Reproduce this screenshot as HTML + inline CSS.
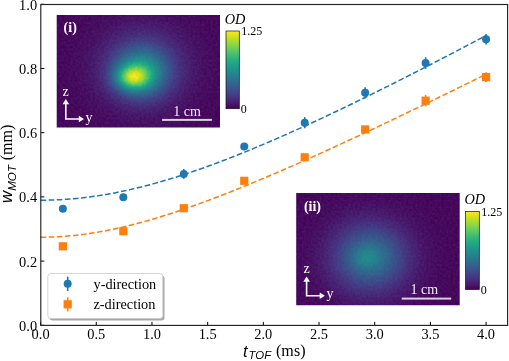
<!DOCTYPE html>
<html><head><meta charset="utf-8"><style>
html,body{margin:0;padding:0;background:#fff;width:509px;height:361px;overflow:hidden}
svg{display:block;will-change:transform}
svg{font-family:"Liberation Serif",serif}
.ss{font-family:"Liberation Sans",sans-serif;font-style:italic}
.tk{font-size:14.4px;fill:#000}
.lg{font-size:14.3px;fill:#000}
.bold{font-size:14px;font-weight:bold;fill:#fff}
.w{font-size:14px;fill:#fff}
.it{font-size:14.3px;font-style:italic;fill:#000}
.sm{font-size:12px;fill:#000}
.sans{font-family:"Liberation Sans",sans-serif;font-style:italic}
</style></head><body>
<svg width="509" height="361" viewBox="0 0 509 361">
<defs>
<filter id="vir" x="-10%" y="-10%" width="120%" height="120%" color-interpolation-filters="sRGB">
<feGaussianBlur in="SourceGraphic" stdDeviation="1.2" result="b"/>
<feTurbulence type="fractalNoise" baseFrequency="0.45" numOctaves="1" seed="3" result="n"/>
<feColorMatrix in="n" type="matrix" values="1 0 0 0 0  1 0 0 0 0  1 0 0 0 0  0 0 0 0 1" result="ng"/>
<feComposite in="b" in2="ng" operator="arithmetic" k1="0" k2="1" k3="0.1" k4="-0.05" result="bn"/>
<feComponentTransfer in="bn">
<feFuncR type="table" tableValues="0.2670 0.2726 0.2770 0.2803 0.2823 0.2832 0.2829 0.2814 0.2788 0.2752 0.2706 0.2651 0.2590 0.2522 0.2450 0.2374 0.2297 0.2220 0.2143 0.2068 0.1994 0.1924 0.1856 0.1790 0.1727 0.1666 0.1607 0.1548 0.1490 0.1433 0.1378 0.1324 0.1276 0.1235 0.1206 0.1194 0.1206 0.1248 0.1323 0.1433 0.1579 0.1757 0.1966 0.2201 0.2461 0.2741 0.3041 0.3359 0.3692 0.4040 0.4401 0.4775 0.5160 0.5555 0.5958 0.6369 0.6785 0.7204 0.7624 0.8042 0.8456 0.8863 0.9261 0.9649 0.9932"/>
<feFuncG type="table" tableValues="0.0049 0.0256 0.0503 0.0734 0.0950 0.1157 0.1359 0.1558 0.1755 0.1949 0.2141 0.2330 0.2515 0.2698 0.2877 0.3052 0.3224 0.3392 0.3556 0.3718 0.3876 0.4032 0.4186 0.4338 0.4488 0.4637 0.4785 0.4933 0.5081 0.5228 0.5375 0.5522 0.5669 0.5817 0.5964 0.6111 0.6258 0.6405 0.6550 0.6695 0.6838 0.6979 0.7118 0.7255 0.7389 0.7520 0.7647 0.7770 0.7889 0.8003 0.8111 0.8214 0.8312 0.8403 0.8487 0.8565 0.8637 0.8703 0.8764 0.8820 0.8873 0.8924 0.8973 0.9023 0.9062"/>
<feFuncB type="table" tableValues="0.3294 0.3531 0.3757 0.3972 0.4173 0.4361 0.4534 0.4692 0.4834 0.4960 0.5071 0.5166 0.5247 0.5316 0.5373 0.5419 0.5457 0.5488 0.5512 0.5531 0.5546 0.5558 0.5568 0.5574 0.5579 0.5581 0.5581 0.5578 0.5573 0.5563 0.5549 0.5530 0.5506 0.5474 0.5436 0.5390 0.5335 0.5271 0.5197 0.5112 0.5017 0.4910 0.4792 0.4662 0.4520 0.4366 0.4199 0.4020 0.3829 0.3626 0.3410 0.3182 0.2943 0.2693 0.2433 0.2166 0.1895 0.1626 0.1371 0.1150 0.0997 0.0954 0.1041 0.1239 0.1439"/>
</feComponentTransfer>
</filter>
<linearGradient id="vg" x1="0" y1="1" x2="0" y2="0"><stop offset="0.000" stop-color="rgb(68,1,84)"/><stop offset="0.062" stop-color="rgb(72,24,106)"/><stop offset="0.125" stop-color="rgb(71,45,123)"/><stop offset="0.188" stop-color="rgb(66,64,134)"/><stop offset="0.250" stop-color="rgb(59,82,139)"/><stop offset="0.312" stop-color="rgb(51,99,141)"/><stop offset="0.375" stop-color="rgb(44,114,142)"/><stop offset="0.438" stop-color="rgb(38,130,142)"/><stop offset="0.500" stop-color="rgb(33,145,140)"/><stop offset="0.562" stop-color="rgb(31,160,136)"/><stop offset="0.625" stop-color="rgb(40,174,128)"/><stop offset="0.688" stop-color="rgb(63,188,115)"/><stop offset="0.750" stop-color="rgb(94,201,98)"/><stop offset="0.812" stop-color="rgb(132,212,75)"/><stop offset="0.875" stop-color="rgb(173,220,48)"/><stop offset="0.938" stop-color="rgb(216,226,25)"/><stop offset="1.000" stop-color="rgb(253,231,37)"/></linearGradient>
</defs>
<rect width="509" height="361" fill="#fff"/>
<g fill="none" stroke-width="1.5" stroke-dasharray="5.6 2.5">
<path d="M40.60 200.21 L42.84 200.20 L45.08 200.18 L47.32 200.14 L49.55 200.10 L51.79 200.03 L54.03 199.96 L56.27 199.87 L58.51 199.77 L60.75 199.65 L62.99 199.52 L65.22 199.37 L67.46 199.22 L69.70 199.05 L71.94 198.86 L74.18 198.66 L76.42 198.45 L78.66 198.23 L80.89 197.99 L83.13 197.74 L85.37 197.48 L87.61 197.20 L89.85 196.91 L92.09 196.61 L94.33 196.29 L96.56 195.97 L98.80 195.63 L101.04 195.27 L103.28 194.91 L105.52 194.53 L107.76 194.15 L110.00 193.74 L112.23 193.33 L114.47 192.91 L116.71 192.47 L118.95 192.02 L121.19 191.57 L123.43 191.09 L125.67 190.61 L127.91 190.12 L130.14 189.62 L132.38 189.10 L134.62 188.58 L136.86 188.04 L139.10 187.50 L141.34 186.94 L143.58 186.38 L145.81 185.80 L148.05 185.21 L150.29 184.62 L152.53 184.01 L154.77 183.39 L157.01 182.77 L159.25 182.14 L161.48 181.49 L163.72 180.84 L165.96 180.18 L168.20 179.51 L170.44 178.83 L172.68 178.14 L174.92 177.44 L177.15 176.74 L179.39 176.03 L181.63 175.31 L183.87 174.58 L186.11 173.84 L188.35 173.10 L190.59 172.34 L192.82 171.58 L195.06 170.82 L197.30 170.04 L199.54 169.26 L201.78 168.47 L204.02 167.68 L206.26 166.87 L208.49 166.06 L210.73 165.25 L212.97 164.43 L215.21 163.60 L217.45 162.76 L219.69 161.92 L221.93 161.07 L224.16 160.22 L226.40 159.36 L228.64 158.49 L230.88 157.62 L233.12 156.74 L235.36 155.86 L237.60 154.97 L239.83 154.07 L242.07 153.17 L244.31 152.27 L246.55 151.36 L248.79 150.44 L251.03 149.52 L253.27 148.60 L255.50 147.67 L257.74 146.73 L259.98 145.79 L262.22 144.85 L264.46 143.90 L266.70 142.95 L268.94 141.99 L271.18 141.03 L273.41 140.06 L275.65 139.09 L277.89 138.11 L280.13 137.13 L282.37 136.15 L284.61 135.16 L286.85 134.17 L289.08 133.18 L291.32 132.18 L293.56 131.17 L295.80 130.17 L298.04 129.16 L300.28 128.14 L302.52 127.13 L304.75 126.11 L306.99 125.08 L309.23 124.06 L311.47 123.02 L313.71 121.99 L315.95 120.95 L318.19 119.91 L320.42 118.87 L322.66 117.82 L324.90 116.77 L327.14 115.72 L329.38 114.67 L331.62 113.61 L333.86 112.55 L336.09 111.48 L338.33 110.42 L340.57 109.35 L342.81 108.27 L345.05 107.20 L347.29 106.12 L349.53 105.04 L351.76 103.96 L354.00 102.87 L356.24 101.79 L358.48 100.70 L360.72 99.60 L362.96 98.51 L365.20 97.41 L367.43 96.31 L369.67 95.21 L371.91 94.11 L374.15 93.00 L376.39 91.89 L378.63 90.78 L380.87 89.67 L383.10 88.56 L385.34 87.44 L387.58 86.32 L389.82 85.20 L392.06 84.08 L394.30 82.96 L396.54 81.83 L398.77 80.70 L401.01 79.57 L403.25 78.44 L405.49 77.31 L407.73 76.17 L409.97 75.04 L412.21 73.90 L414.45 72.76 L416.68 71.61 L418.92 70.47 L421.16 69.33 L423.40 68.18 L425.64 67.03 L427.88 65.88 L430.12 64.73 L432.35 63.58 L434.59 62.42 L436.83 61.26 L439.07 60.11 L441.31 58.95 L443.55 57.79 L445.79 56.63 L448.02 55.46 L450.26 54.30 L452.50 53.13 L454.74 51.96 L456.98 50.80 L459.22 49.63 L461.46 48.45 L463.69 47.28 L465.93 46.11 L468.17 44.93 L470.41 43.76 L472.65 42.58 L474.89 41.40 L477.13 40.22 L479.36 39.04 L481.60 37.86 L483.84 36.67 L486.08 35.49" stroke="#1f77b4"/>
<path d="M40.60 237.19 L42.84 237.18 L45.08 237.15 L47.32 237.11 L49.55 237.06 L51.79 236.99 L54.03 236.90 L56.27 236.80 L58.51 236.68 L60.75 236.55 L62.99 236.40 L65.22 236.23 L67.46 236.05 L69.70 235.86 L71.94 235.65 L74.18 235.42 L76.42 235.18 L78.66 234.93 L80.89 234.66 L83.13 234.37 L85.37 234.07 L87.61 233.76 L89.85 233.43 L92.09 233.09 L94.33 232.74 L96.56 232.37 L98.80 231.99 L101.04 231.59 L103.28 231.18 L105.52 230.76 L107.76 230.32 L110.00 229.88 L112.23 229.42 L114.47 228.95 L116.71 228.46 L118.95 227.97 L121.19 227.46 L123.43 226.94 L125.67 226.41 L127.91 225.87 L130.14 225.31 L132.38 224.75 L134.62 224.18 L136.86 223.59 L139.10 223.00 L141.34 222.39 L143.58 221.77 L145.81 221.15 L148.05 220.51 L150.29 219.87 L152.53 219.22 L154.77 218.56 L157.01 217.88 L159.25 217.20 L161.48 216.52 L163.72 215.82 L165.96 215.11 L168.20 214.40 L170.44 213.68 L172.68 212.95 L174.92 212.21 L177.15 211.47 L179.39 210.72 L181.63 209.96 L183.87 209.19 L186.11 208.42 L188.35 207.64 L190.59 206.85 L192.82 206.06 L195.06 205.26 L197.30 204.46 L199.54 203.64 L201.78 202.83 L204.02 202.00 L206.26 201.17 L208.49 200.34 L210.73 199.50 L212.97 198.65 L215.21 197.80 L217.45 196.95 L219.69 196.08 L221.93 195.22 L224.16 194.35 L226.40 193.47 L228.64 192.59 L230.88 191.70 L233.12 190.81 L235.36 189.92 L237.60 189.02 L239.83 188.12 L242.07 187.21 L244.31 186.30 L246.55 185.38 L248.79 184.46 L251.03 183.54 L253.27 182.61 L255.50 181.68 L257.74 180.74 L259.98 179.81 L262.22 178.86 L264.46 177.92 L266.70 176.97 L268.94 176.02 L271.18 175.06 L273.41 174.10 L275.65 173.14 L277.89 172.18 L280.13 171.21 L282.37 170.24 L284.61 169.27 L286.85 168.29 L289.08 167.31 L291.32 166.33 L293.56 165.34 L295.80 164.36 L298.04 163.37 L300.28 162.37 L302.52 161.38 L304.75 160.38 L306.99 159.38 L309.23 158.38 L311.47 157.37 L313.71 156.37 L315.95 155.36 L318.19 154.35 L320.42 153.33 L322.66 152.32 L324.90 151.30 L327.14 150.28 L329.38 149.26 L331.62 148.24 L333.86 147.21 L336.09 146.18 L338.33 145.15 L340.57 144.12 L342.81 143.09 L345.05 142.05 L347.29 141.02 L349.53 139.98 L351.76 138.94 L354.00 137.90 L356.24 136.85 L358.48 135.81 L360.72 134.76 L362.96 133.71 L365.20 132.66 L367.43 131.61 L369.67 130.56 L371.91 129.50 L374.15 128.45 L376.39 127.39 L378.63 126.33 L380.87 125.27 L383.10 124.21 L385.34 123.15 L387.58 122.08 L389.82 121.02 L392.06 119.95 L394.30 118.89 L396.54 117.82 L398.77 116.75 L401.01 115.67 L403.25 114.60 L405.49 113.53 L407.73 112.45 L409.97 111.38 L412.21 110.30 L414.45 109.22 L416.68 108.14 L418.92 107.06 L421.16 105.98 L423.40 104.90 L425.64 103.82 L427.88 102.73 L430.12 101.65 L432.35 100.56 L434.59 99.47 L436.83 98.38 L439.07 97.29 L441.31 96.20 L443.55 95.11 L445.79 94.02 L448.02 92.93 L450.26 91.84 L452.50 90.74 L454.74 89.65 L456.98 88.55 L459.22 87.45 L461.46 86.35 L463.69 85.26 L465.93 84.16 L468.17 83.06 L470.41 81.96 L472.65 80.85 L474.89 79.75 L477.13 78.65 L479.36 77.55 L481.60 76.44 L483.84 75.34 L486.08 74.23" stroke="#ff7f0e"/>
</g>
<circle cx="62.87" cy="208.80" r="4" fill="#1f77b4"/><rect x="58.77" y="242.20" width="8.2" height="8.2" fill="#ff7f0e"/><circle cx="123.33" cy="197.30" r="4" fill="#1f77b4"/><rect x="119.23" y="227.10" width="8.2" height="8.2" fill="#ff7f0e"/><path d="M183.79 169.00 V178.80" stroke="#1f77b4" stroke-width="1.6"/><circle cx="183.79" cy="173.90" r="4" fill="#1f77b4"/><rect x="179.69" y="204.10" width="8.2" height="8.2" fill="#ff7f0e"/><circle cx="244.25" cy="146.40" r="4" fill="#1f77b4"/><rect x="240.15" y="176.70" width="8.2" height="8.2" fill="#ff7f0e"/><path d="M304.71 117.06 V128.26" stroke="#1f77b4" stroke-width="1.6"/><circle cx="304.71" cy="122.66" r="4" fill="#1f77b4"/><path d="M304.71 156.60 V158.00" stroke="#ff7f0e" stroke-width="1.6"/><rect x="300.61" y="153.20" width="8.2" height="8.2" fill="#ff7f0e"/><path d="M365.16 87.25 V98.45" stroke="#1f77b4" stroke-width="1.6"/><circle cx="365.16" cy="92.85" r="4" fill="#1f77b4"/><rect x="361.06" y="125.30" width="8.2" height="8.2" fill="#ff7f0e"/><path d="M425.62 57.20 V68.80" stroke="#1f77b4" stroke-width="1.6"/><circle cx="425.62" cy="63.00" r="4" fill="#1f77b4"/><path d="M425.62 95.00 V106.40" stroke="#ff7f0e" stroke-width="1.6"/><rect x="421.52" y="96.60" width="8.2" height="8.2" fill="#ff7f0e"/><path d="M486.08 34.00 V44.60" stroke="#1f77b4" stroke-width="1.6"/><circle cx="486.08" cy="39.30" r="4" fill="#1f77b4"/><path d="M486.08 72.20 V82.00" stroke="#ff7f0e" stroke-width="1.6"/><rect x="481.98" y="73.00" width="8.2" height="8.2" fill="#ff7f0e"/>
<clipPath id="c1"><rect x="56.7" y="15" width="163.3" height="112.5"/></clipPath><g clip-path="url(#c1)"><g filter="url(#vir)"><rect x="48.7" y="7" width="179.3" height="128.5" fill="#050505"/><rect x="50" y="9" width="34" height="4" fill="#050505"/><rect x="83" y="9" width="19" height="4" fill="#060606"/><rect x="101" y="9" width="13" height="4" fill="#070707"/><rect x="113" y="9" width="10" height="4" fill="#080808"/><rect x="122" y="9" width="43" height="4" fill="#090909"/><rect x="164" y="9" width="10" height="4" fill="#080808"/><rect x="173" y="9" width="13" height="4" fill="#070707"/><rect x="185" y="9" width="19" height="4" fill="#060606"/><rect x="203" y="9" width="25" height="4" fill="#050505"/><rect x="50" y="12" width="28" height="4" fill="#050505"/><rect x="77" y="12" width="19" height="4" fill="#060606"/><rect x="95" y="12" width="13" height="4" fill="#070707"/><rect x="107" y="12" width="7" height="4" fill="#080808"/><rect x="113" y="12" width="10" height="4" fill="#090909"/><rect x="122" y="12" width="13" height="4" fill="#0a0a0a"/><rect x="134" y="12" width="19" height="4" fill="#0b0b0b"/><rect x="152" y="12" width="13" height="4" fill="#0a0a0a"/><rect x="164" y="12" width="10" height="4" fill="#090909"/><rect x="173" y="12" width="7" height="4" fill="#080808"/><rect x="179" y="12" width="13" height="4" fill="#070707"/><rect x="191" y="12" width="19" height="4" fill="#060606"/><rect x="209" y="12" width="19" height="4" fill="#050505"/><rect x="50" y="15" width="25" height="4" fill="#050505"/><rect x="74" y="15" width="19" height="4" fill="#060606"/><rect x="92" y="15" width="10" height="4" fill="#070707"/><rect x="101" y="15" width="7" height="4" fill="#080808"/><rect x="107" y="15" width="10" height="4" fill="#090909"/><rect x="116" y="15" width="7" height="4" fill="#0a0a0a"/><rect x="122" y="15" width="7" height="4" fill="#0b0b0b"/><rect x="128" y="15" width="13" height="4" fill="#0c0c0c"/><rect x="140" y="15" width="7" height="4" fill="#0d0d0d"/><rect x="146" y="15" width="13" height="4" fill="#0c0c0c"/><rect x="158" y="15" width="7" height="4" fill="#0b0b0b"/><rect x="164" y="15" width="7" height="4" fill="#0a0a0a"/><rect x="170" y="15" width="10" height="4" fill="#090909"/><rect x="179" y="15" width="7" height="4" fill="#080808"/><rect x="185" y="15" width="10" height="4" fill="#070707"/><rect x="194" y="15" width="19" height="4" fill="#060606"/><rect x="212" y="15" width="16" height="4" fill="#050505"/><rect x="50" y="18" width="25" height="4" fill="#050505"/><rect x="74" y="18" width="16" height="4" fill="#060606"/><rect x="89" y="18" width="10" height="4" fill="#070707"/><rect x="98" y="18" width="7" height="4" fill="#080808"/><rect x="104" y="18" width="7" height="4" fill="#090909"/><rect x="110" y="18" width="4" height="4" fill="#0a0a0a"/><rect x="113" y="18" width="7" height="4" fill="#0b0b0b"/><rect x="119" y="18" width="4" height="4" fill="#0c0c0c"/><rect x="122" y="18" width="7" height="4" fill="#0d0d0d"/><rect x="128" y="18" width="13" height="4" fill="#0e0e0e"/><rect x="140" y="18" width="7" height="4" fill="#0f0f0f"/><rect x="146" y="18" width="13" height="4" fill="#0e0e0e"/><rect x="158" y="18" width="4" height="4" fill="#0d0d0d"/><rect x="161" y="18" width="7" height="4" fill="#0c0c0c"/><rect x="167" y="18" width="7" height="4" fill="#0b0b0b"/><rect x="173" y="18" width="4" height="4" fill="#0a0a0a"/><rect x="176" y="18" width="7" height="4" fill="#090909"/><rect x="182" y="18" width="7" height="4" fill="#080808"/><rect x="188" y="18" width="10" height="4" fill="#070707"/><rect x="197" y="18" width="16" height="4" fill="#060606"/><rect x="212" y="18" width="16" height="4" fill="#050505"/><rect x="50" y="21" width="22" height="4" fill="#050505"/><rect x="71" y="21" width="16" height="4" fill="#060606"/><rect x="86" y="21" width="7" height="4" fill="#070707"/><rect x="92" y="21" width="7" height="4" fill="#080808"/><rect x="98" y="21" width="7" height="4" fill="#090909"/><rect x="104" y="21" width="4" height="4" fill="#0a0a0a"/><rect x="107" y="21" width="7" height="4" fill="#0b0b0b"/><rect x="113" y="21" width="4" height="4" fill="#0c0c0c"/><rect x="116" y="21" width="4" height="4" fill="#0d0d0d"/><rect x="119" y="21" width="7" height="4" fill="#0e0e0e"/><rect x="125" y="21" width="4" height="4" fill="#0f0f0f"/><rect x="128" y="21" width="7" height="4" fill="#101010"/><rect x="134" y="21" width="19" height="4" fill="#111111"/><rect x="152" y="21" width="7" height="4" fill="#101010"/><rect x="158" y="21" width="4" height="4" fill="#0f0f0f"/><rect x="161" y="21" width="7" height="4" fill="#0e0e0e"/><rect x="167" y="21" width="4" height="4" fill="#0d0d0d"/><rect x="170" y="21" width="4" height="4" fill="#0c0c0c"/><rect x="173" y="21" width="7" height="4" fill="#0b0b0b"/><rect x="179" y="21" width="4" height="4" fill="#0a0a0a"/><rect x="182" y="21" width="7" height="4" fill="#090909"/><rect x="188" y="21" width="7" height="4" fill="#080808"/><rect x="194" y="21" width="7" height="4" fill="#070707"/><rect x="200" y="21" width="16" height="4" fill="#060606"/><rect x="215" y="21" width="13" height="4" fill="#050505"/><rect x="50" y="24" width="19" height="4" fill="#050505"/><rect x="68" y="24" width="16" height="4" fill="#060606"/><rect x="83" y="24" width="7" height="4" fill="#070707"/><rect x="89" y="24" width="7" height="4" fill="#080808"/><rect x="95" y="24" width="7" height="4" fill="#090909"/><rect x="101" y="24" width="4" height="4" fill="#0a0a0a"/><rect x="104" y="24" width="4" height="4" fill="#0b0b0b"/><rect x="107" y="24" width="4" height="4" fill="#0c0c0c"/><rect x="110" y="24" width="4" height="4" fill="#0d0d0d"/><rect x="113" y="24" width="4" height="4" fill="#0e0e0e"/><rect x="116" y="24" width="4" height="4" fill="#0f0f0f"/><rect x="119" y="24" width="4" height="4" fill="#101010"/><rect x="122" y="24" width="4" height="4" fill="#111111"/><rect x="125" y="24" width="7" height="4" fill="#121212"/><rect x="131" y="24" width="4" height="4" fill="#131313"/><rect x="134" y="24" width="19" height="4" fill="#141414"/><rect x="152" y="24" width="4" height="4" fill="#131313"/><rect x="155" y="24" width="7" height="4" fill="#121212"/><rect x="161" y="24" width="4" height="4" fill="#111111"/><rect x="164" y="24" width="4" height="4" fill="#101010"/><rect x="167" y="24" width="4" height="4" fill="#0f0f0f"/><rect x="170" y="24" width="4" height="4" fill="#0e0e0e"/><rect x="173" y="24" width="4" height="4" fill="#0d0d0d"/><rect x="176" y="24" width="4" height="4" fill="#0c0c0c"/><rect x="179" y="24" width="4" height="4" fill="#0b0b0b"/><rect x="182" y="24" width="4" height="4" fill="#0a0a0a"/><rect x="185" y="24" width="7" height="4" fill="#090909"/><rect x="191" y="24" width="7" height="4" fill="#080808"/><rect x="197" y="24" width="7" height="4" fill="#070707"/><rect x="203" y="24" width="16" height="4" fill="#060606"/><rect x="218" y="24" width="10" height="4" fill="#050505"/><rect x="50" y="27" width="16" height="4" fill="#050505"/><rect x="65" y="27" width="16" height="4" fill="#060606"/><rect x="80" y="27" width="7" height="4" fill="#070707"/><rect x="86" y="27" width="7" height="4" fill="#080808"/><rect x="92" y="27" width="4" height="4" fill="#090909"/><rect x="95" y="27" width="7" height="4" fill="#0a0a0a"/><rect x="101" y="27" width="4" height="4" fill="#0b0b0b"/><rect x="104" y="27" width="4" height="4" fill="#0c0c0c"/><rect x="107" y="27" width="4" height="4" fill="#0d0d0d"/><rect x="110" y="27" width="4" height="4" fill="#0f0f0f"/><rect x="113" y="27" width="4" height="4" fill="#101010"/><rect x="116" y="27" width="4" height="4" fill="#111111"/><rect x="119" y="27" width="4" height="4" fill="#121212"/><rect x="122" y="27" width="4" height="4" fill="#141414"/><rect x="125" y="27" width="4" height="4" fill="#151515"/><rect x="128" y="27" width="7" height="4" fill="#161616"/><rect x="134" y="27" width="4" height="4" fill="#171717"/><rect x="137" y="27" width="13" height="4" fill="#181818"/><rect x="149" y="27" width="4" height="4" fill="#171717"/><rect x="152" y="27" width="4" height="4" fill="#161616"/><rect x="155" y="27" width="4" height="4" fill="#151515"/><rect x="158" y="27" width="4" height="4" fill="#141414"/><rect x="161" y="27" width="4" height="4" fill="#131313"/><rect x="164" y="27" width="4" height="4" fill="#121212"/><rect x="167" y="27" width="4" height="4" fill="#111111"/><rect x="170" y="27" width="4" height="4" fill="#101010"/><rect x="173" y="27" width="4" height="4" fill="#0f0f0f"/><rect x="176" y="27" width="4" height="4" fill="#0d0d0d"/><rect x="179" y="27" width="4" height="4" fill="#0c0c0c"/><rect x="182" y="27" width="4" height="4" fill="#0b0b0b"/><rect x="185" y="27" width="4" height="4" fill="#0a0a0a"/><rect x="188" y="27" width="7" height="4" fill="#090909"/><rect x="194" y="27" width="7" height="4" fill="#080808"/><rect x="200" y="27" width="7" height="4" fill="#070707"/><rect x="206" y="27" width="16" height="4" fill="#060606"/><rect x="221" y="27" width="7" height="4" fill="#050505"/><rect x="50" y="30" width="16" height="4" fill="#050505"/><rect x="65" y="30" width="13" height="4" fill="#060606"/><rect x="77" y="30" width="10" height="4" fill="#070707"/><rect x="86" y="30" width="4" height="4" fill="#080808"/><rect x="89" y="30" width="4" height="4" fill="#090909"/><rect x="92" y="30" width="7" height="4" fill="#0a0a0a"/><rect x="98" y="30" width="4" height="4" fill="#0b0b0b"/><rect x="101" y="30" width="4" height="4" fill="#0d0d0d"/><rect x="104" y="30" width="4" height="4" fill="#0e0e0e"/><rect x="107" y="30" width="4" height="4" fill="#0f0f0f"/><rect x="110" y="30" width="4" height="4" fill="#111111"/><rect x="113" y="30" width="4" height="4" fill="#121212"/><rect x="116" y="30" width="4" height="4" fill="#141414"/><rect x="119" y="30" width="4" height="4" fill="#151515"/><rect x="122" y="30" width="4" height="4" fill="#171717"/><rect x="125" y="30" width="4" height="4" fill="#181818"/><rect x="128" y="30" width="4" height="4" fill="#191919"/><rect x="131" y="30" width="7" height="4" fill="#1b1b1b"/><rect x="137" y="30" width="13" height="4" fill="#1c1c1c"/><rect x="149" y="30" width="4" height="4" fill="#1b1b1b"/><rect x="152" y="30" width="4" height="4" fill="#1a1a1a"/><rect x="155" y="30" width="4" height="4" fill="#191919"/><rect x="158" y="30" width="4" height="4" fill="#181818"/><rect x="161" y="30" width="4" height="4" fill="#161616"/><rect x="164" y="30" width="4" height="4" fill="#151515"/><rect x="167" y="30" width="4" height="4" fill="#131313"/><rect x="170" y="30" width="4" height="4" fill="#121212"/><rect x="173" y="30" width="4" height="4" fill="#101010"/><rect x="176" y="30" width="4" height="4" fill="#0f0f0f"/><rect x="179" y="30" width="4" height="4" fill="#0e0e0e"/><rect x="182" y="30" width="4" height="4" fill="#0d0d0d"/><rect x="185" y="30" width="4" height="4" fill="#0b0b0b"/><rect x="188" y="30" width="4" height="4" fill="#0a0a0a"/><rect x="191" y="30" width="7" height="4" fill="#090909"/><rect x="197" y="30" width="4" height="4" fill="#080808"/><rect x="200" y="30" width="10" height="4" fill="#070707"/><rect x="209" y="30" width="13" height="4" fill="#060606"/><rect x="221" y="30" width="7" height="4" fill="#050505"/><rect x="50" y="33" width="13" height="4" fill="#050505"/><rect x="62" y="33" width="16" height="4" fill="#060606"/><rect x="77" y="33" width="7" height="4" fill="#070707"/><rect x="83" y="33" width="4" height="4" fill="#080808"/><rect x="86" y="33" width="7" height="4" fill="#090909"/><rect x="92" y="33" width="4" height="4" fill="#0a0a0a"/><rect x="95" y="33" width="4" height="4" fill="#0b0b0b"/><rect x="98" y="33" width="4" height="4" fill="#0d0d0d"/><rect x="101" y="33" width="4" height="4" fill="#0e0e0e"/><rect x="104" y="33" width="4" height="4" fill="#101010"/><rect x="107" y="33" width="4" height="4" fill="#111111"/><rect x="110" y="33" width="4" height="4" fill="#131313"/><rect x="113" y="33" width="4" height="4" fill="#151515"/><rect x="116" y="33" width="4" height="4" fill="#171717"/><rect x="119" y="33" width="4" height="4" fill="#191919"/><rect x="122" y="33" width="4" height="4" fill="#1b1b1b"/><rect x="125" y="33" width="4" height="4" fill="#1c1c1c"/><rect x="128" y="33" width="4" height="4" fill="#1e1e1e"/><rect x="131" y="33" width="4" height="4" fill="#1f1f1f"/><rect x="134" y="33" width="4" height="4" fill="#202020"/><rect x="137" y="33" width="13" height="4" fill="#212121"/><rect x="149" y="33" width="4" height="4" fill="#202020"/><rect x="152" y="33" width="4" height="4" fill="#1f1f1f"/><rect x="155" y="33" width="4" height="4" fill="#1e1e1e"/><rect x="158" y="33" width="4" height="4" fill="#1c1c1c"/><rect x="161" y="33" width="4" height="4" fill="#1a1a1a"/><rect x="164" y="33" width="4" height="4" fill="#181818"/><rect x="167" y="33" width="4" height="4" fill="#161616"/><rect x="170" y="33" width="4" height="4" fill="#141414"/><rect x="173" y="33" width="4" height="4" fill="#131313"/><rect x="176" y="33" width="4" height="4" fill="#111111"/><rect x="179" y="33" width="4" height="4" fill="#0f0f0f"/><rect x="182" y="33" width="4" height="4" fill="#0e0e0e"/><rect x="185" y="33" width="4" height="4" fill="#0d0d0d"/><rect x="188" y="33" width="4" height="4" fill="#0b0b0b"/><rect x="191" y="33" width="4" height="4" fill="#0a0a0a"/><rect x="194" y="33" width="7" height="4" fill="#090909"/><rect x="200" y="33" width="4" height="4" fill="#080808"/><rect x="203" y="33" width="7" height="4" fill="#070707"/><rect x="209" y="33" width="16" height="4" fill="#060606"/><rect x="224" y="33" width="4" height="4" fill="#050505"/><rect x="50" y="36" width="13" height="4" fill="#050505"/><rect x="62" y="36" width="13" height="4" fill="#060606"/><rect x="74" y="36" width="7" height="4" fill="#070707"/><rect x="80" y="36" width="7" height="4" fill="#080808"/><rect x="86" y="36" width="4" height="4" fill="#090909"/><rect x="89" y="36" width="4" height="4" fill="#0a0a0a"/><rect x="92" y="36" width="4" height="4" fill="#0b0b0b"/><rect x="95" y="36" width="4" height="4" fill="#0c0c0c"/><rect x="98" y="36" width="4" height="4" fill="#0e0e0e"/><rect x="101" y="36" width="4" height="4" fill="#101010"/><rect x="104" y="36" width="4" height="4" fill="#111111"/><rect x="107" y="36" width="4" height="4" fill="#131313"/><rect x="110" y="36" width="4" height="4" fill="#161616"/><rect x="113" y="36" width="4" height="4" fill="#181818"/><rect x="116" y="36" width="4" height="4" fill="#1a1a1a"/><rect x="119" y="36" width="4" height="4" fill="#1d1d1d"/><rect x="122" y="36" width="4" height="4" fill="#1f1f1f"/><rect x="125" y="36" width="4" height="4" fill="#212121"/><rect x="128" y="36" width="4" height="4" fill="#232323"/><rect x="131" y="36" width="4" height="4" fill="#252525"/><rect x="134" y="36" width="7" height="4" fill="#272727"/><rect x="140" y="36" width="7" height="4" fill="#282828"/><rect x="146" y="36" width="4" height="4" fill="#272727"/><rect x="149" y="36" width="4" height="4" fill="#262626"/><rect x="152" y="36" width="4" height="4" fill="#242424"/><rect x="155" y="36" width="4" height="4" fill="#232323"/><rect x="158" y="36" width="4" height="4" fill="#212121"/><rect x="161" y="36" width="4" height="4" fill="#1e1e1e"/><rect x="164" y="36" width="4" height="4" fill="#1c1c1c"/><rect x="167" y="36" width="4" height="4" fill="#1a1a1a"/><rect x="170" y="36" width="4" height="4" fill="#171717"/><rect x="173" y="36" width="4" height="4" fill="#151515"/><rect x="176" y="36" width="4" height="4" fill="#131313"/><rect x="179" y="36" width="4" height="4" fill="#111111"/><rect x="182" y="36" width="4" height="4" fill="#0f0f0f"/><rect x="185" y="36" width="4" height="4" fill="#0e0e0e"/><rect x="188" y="36" width="4" height="4" fill="#0c0c0c"/><rect x="191" y="36" width="4" height="4" fill="#0b0b0b"/><rect x="194" y="36" width="4" height="4" fill="#0a0a0a"/><rect x="197" y="36" width="4" height="4" fill="#090909"/><rect x="200" y="36" width="7" height="4" fill="#080808"/><rect x="206" y="36" width="7" height="4" fill="#070707"/><rect x="212" y="36" width="13" height="4" fill="#060606"/><rect x="224" y="36" width="4" height="4" fill="#050505"/><rect x="50" y="39" width="10" height="4" fill="#050505"/><rect x="59" y="39" width="16" height="4" fill="#060606"/><rect x="74" y="39" width="7" height="4" fill="#070707"/><rect x="80" y="39" width="4" height="4" fill="#080808"/><rect x="83" y="39" width="4" height="4" fill="#090909"/><rect x="86" y="39" width="4" height="4" fill="#0a0a0a"/><rect x="89" y="39" width="4" height="4" fill="#0b0b0b"/><rect x="92" y="39" width="4" height="4" fill="#0c0c0c"/><rect x="95" y="39" width="4" height="4" fill="#0e0e0e"/><rect x="98" y="39" width="4" height="4" fill="#0f0f0f"/><rect x="101" y="39" width="4" height="4" fill="#111111"/><rect x="104" y="39" width="4" height="4" fill="#141414"/><rect x="107" y="39" width="4" height="4" fill="#161616"/><rect x="110" y="39" width="4" height="4" fill="#191919"/><rect x="113" y="39" width="4" height="4" fill="#1b1b1b"/><rect x="116" y="39" width="4" height="4" fill="#1e1e1e"/><rect x="119" y="39" width="4" height="4" fill="#212121"/><rect x="122" y="39" width="4" height="4" fill="#242424"/><rect x="125" y="39" width="4" height="4" fill="#272727"/><rect x="128" y="39" width="4" height="4" fill="#2a2a2a"/><rect x="131" y="39" width="4" height="4" fill="#2c2c2c"/><rect x="134" y="39" width="4" height="4" fill="#2e2e2e"/><rect x="137" y="39" width="10" height="4" fill="#2f2f2f"/><rect x="146" y="39" width="4" height="4" fill="#2e2e2e"/><rect x="149" y="39" width="4" height="4" fill="#2d2d2d"/><rect x="152" y="39" width="4" height="4" fill="#2b2b2b"/><rect x="155" y="39" width="4" height="4" fill="#292929"/><rect x="158" y="39" width="4" height="4" fill="#262626"/><rect x="161" y="39" width="4" height="4" fill="#232323"/><rect x="164" y="39" width="4" height="4" fill="#202020"/><rect x="167" y="39" width="4" height="4" fill="#1d1d1d"/><rect x="170" y="39" width="4" height="4" fill="#1b1b1b"/><rect x="173" y="39" width="4" height="4" fill="#181818"/><rect x="176" y="39" width="4" height="4" fill="#151515"/><rect x="179" y="39" width="4" height="4" fill="#131313"/><rect x="182" y="39" width="4" height="4" fill="#111111"/><rect x="185" y="39" width="4" height="4" fill="#0f0f0f"/><rect x="188" y="39" width="4" height="4" fill="#0e0e0e"/><rect x="191" y="39" width="4" height="4" fill="#0c0c0c"/><rect x="194" y="39" width="4" height="4" fill="#0b0b0b"/><rect x="197" y="39" width="4" height="4" fill="#0a0a0a"/><rect x="200" y="39" width="4" height="4" fill="#090909"/><rect x="203" y="39" width="4" height="4" fill="#080808"/><rect x="206" y="39" width="7" height="4" fill="#070707"/><rect x="212" y="39" width="16" height="4" fill="#060606"/><rect x="50" y="42" width="10" height="4" fill="#050505"/><rect x="59" y="42" width="13" height="4" fill="#060606"/><rect x="71" y="42" width="7" height="4" fill="#070707"/><rect x="77" y="42" width="7" height="4" fill="#080808"/><rect x="83" y="42" width="4" height="4" fill="#090909"/><rect x="86" y="42" width="4" height="4" fill="#0a0a0a"/><rect x="89" y="42" width="4" height="4" fill="#0c0c0c"/><rect x="92" y="42" width="4" height="4" fill="#0d0d0d"/><rect x="95" y="42" width="4" height="4" fill="#0f0f0f"/><rect x="98" y="42" width="4" height="4" fill="#111111"/><rect x="101" y="42" width="4" height="4" fill="#131313"/><rect x="104" y="42" width="4" height="4" fill="#161616"/><rect x="107" y="42" width="4" height="4" fill="#191919"/><rect x="110" y="42" width="4" height="4" fill="#1c1c1c"/><rect x="113" y="42" width="4" height="4" fill="#1f1f1f"/><rect x="116" y="42" width="4" height="4" fill="#232323"/><rect x="119" y="42" width="4" height="4" fill="#272727"/><rect x="122" y="42" width="4" height="4" fill="#2a2a2a"/><rect x="125" y="42" width="4" height="4" fill="#2e2e2e"/><rect x="128" y="42" width="4" height="4" fill="#313131"/><rect x="131" y="42" width="4" height="4" fill="#343434"/><rect x="134" y="42" width="4" height="4" fill="#363636"/><rect x="137" y="42" width="10" height="4" fill="#383838"/><rect x="146" y="42" width="4" height="4" fill="#373737"/><rect x="149" y="42" width="4" height="4" fill="#353535"/><rect x="152" y="42" width="4" height="4" fill="#323232"/><rect x="155" y="42" width="4" height="4" fill="#2f2f2f"/><rect x="158" y="42" width="4" height="4" fill="#2c2c2c"/><rect x="161" y="42" width="4" height="4" fill="#282828"/><rect x="164" y="42" width="4" height="4" fill="#252525"/><rect x="167" y="42" width="4" height="4" fill="#212121"/><rect x="170" y="42" width="4" height="4" fill="#1e1e1e"/><rect x="173" y="42" width="4" height="4" fill="#1b1b1b"/><rect x="176" y="42" width="4" height="4" fill="#181818"/><rect x="179" y="42" width="4" height="4" fill="#151515"/><rect x="182" y="42" width="4" height="4" fill="#131313"/><rect x="185" y="42" width="4" height="4" fill="#111111"/><rect x="188" y="42" width="4" height="4" fill="#0f0f0f"/><rect x="191" y="42" width="4" height="4" fill="#0d0d0d"/><rect x="194" y="42" width="4" height="4" fill="#0c0c0c"/><rect x="197" y="42" width="4" height="4" fill="#0a0a0a"/><rect x="200" y="42" width="4" height="4" fill="#090909"/><rect x="203" y="42" width="7" height="4" fill="#080808"/><rect x="209" y="42" width="7" height="4" fill="#070707"/><rect x="215" y="42" width="13" height="4" fill="#060606"/><rect x="50" y="45" width="10" height="4" fill="#050505"/><rect x="59" y="45" width="13" height="4" fill="#060606"/><rect x="71" y="45" width="7" height="4" fill="#070707"/><rect x="77" y="45" width="4" height="4" fill="#080808"/><rect x="80" y="45" width="4" height="4" fill="#090909"/><rect x="83" y="45" width="4" height="4" fill="#0a0a0a"/><rect x="86" y="45" width="4" height="4" fill="#0b0b0b"/><rect x="89" y="45" width="4" height="4" fill="#0c0c0c"/><rect x="92" y="45" width="4" height="4" fill="#0e0e0e"/><rect x="95" y="45" width="4" height="4" fill="#101010"/><rect x="98" y="45" width="4" height="4" fill="#121212"/><rect x="101" y="45" width="4" height="4" fill="#151515"/><rect x="104" y="45" width="4" height="4" fill="#181818"/><rect x="107" y="45" width="4" height="4" fill="#1c1c1c"/><rect x="110" y="45" width="4" height="4" fill="#1f1f1f"/><rect x="113" y="45" width="4" height="4" fill="#242424"/><rect x="116" y="45" width="4" height="4" fill="#282828"/><rect x="119" y="45" width="4" height="4" fill="#2d2d2d"/><rect x="122" y="45" width="4" height="4" fill="#313131"/><rect x="125" y="45" width="4" height="4" fill="#363636"/><rect x="128" y="45" width="4" height="4" fill="#3a3a3a"/><rect x="131" y="45" width="4" height="4" fill="#3d3d3d"/><rect x="134" y="45" width="4" height="4" fill="#404040"/><rect x="137" y="45" width="10" height="4" fill="#424242"/><rect x="146" y="45" width="4" height="4" fill="#414141"/><rect x="149" y="45" width="4" height="4" fill="#3e3e3e"/><rect x="152" y="45" width="4" height="4" fill="#3b3b3b"/><rect x="155" y="45" width="4" height="4" fill="#373737"/><rect x="158" y="45" width="4" height="4" fill="#333333"/><rect x="161" y="45" width="4" height="4" fill="#2e2e2e"/><rect x="164" y="45" width="4" height="4" fill="#2a2a2a"/><rect x="167" y="45" width="4" height="4" fill="#262626"/><rect x="170" y="45" width="4" height="4" fill="#222222"/><rect x="173" y="45" width="4" height="4" fill="#1e1e1e"/><rect x="176" y="45" width="4" height="4" fill="#1a1a1a"/><rect x="179" y="45" width="4" height="4" fill="#171717"/><rect x="182" y="45" width="4" height="4" fill="#141414"/><rect x="185" y="45" width="4" height="4" fill="#121212"/><rect x="188" y="45" width="4" height="4" fill="#101010"/><rect x="191" y="45" width="4" height="4" fill="#0e0e0e"/><rect x="194" y="45" width="4" height="4" fill="#0c0c0c"/><rect x="197" y="45" width="4" height="4" fill="#0b0b0b"/><rect x="200" y="45" width="4" height="4" fill="#0a0a0a"/><rect x="203" y="45" width="4" height="4" fill="#090909"/><rect x="206" y="45" width="4" height="4" fill="#080808"/><rect x="209" y="45" width="7" height="4" fill="#070707"/><rect x="215" y="45" width="13" height="4" fill="#060606"/><rect x="50" y="48" width="7" height="4" fill="#050505"/><rect x="56" y="48" width="13" height="4" fill="#060606"/><rect x="68" y="48" width="7" height="4" fill="#070707"/><rect x="74" y="48" width="7" height="4" fill="#080808"/><rect x="80" y="48" width="4" height="4" fill="#090909"/><rect x="83" y="48" width="4" height="4" fill="#0a0a0a"/><rect x="86" y="48" width="4" height="4" fill="#0c0c0c"/><rect x="89" y="48" width="4" height="4" fill="#0d0d0d"/><rect x="92" y="48" width="4" height="4" fill="#0f0f0f"/><rect x="95" y="48" width="4" height="4" fill="#111111"/><rect x="98" y="48" width="4" height="4" fill="#141414"/><rect x="101" y="48" width="4" height="4" fill="#171717"/><rect x="104" y="48" width="4" height="4" fill="#1b1b1b"/><rect x="107" y="48" width="4" height="4" fill="#1f1f1f"/><rect x="110" y="48" width="4" height="4" fill="#232323"/><rect x="113" y="48" width="4" height="4" fill="#282828"/><rect x="116" y="48" width="4" height="4" fill="#2e2e2e"/><rect x="119" y="48" width="4" height="4" fill="#333333"/><rect x="122" y="48" width="4" height="4" fill="#393939"/><rect x="125" y="48" width="4" height="4" fill="#3f3f3f"/><rect x="128" y="48" width="4" height="4" fill="#444444"/><rect x="131" y="48" width="4" height="4" fill="#484848"/><rect x="134" y="48" width="4" height="4" fill="#4b4b4b"/><rect x="137" y="48" width="4" height="4" fill="#4d4d4d"/><rect x="140" y="48" width="7" height="4" fill="#4e4e4e"/><rect x="146" y="48" width="4" height="4" fill="#4c4c4c"/><rect x="149" y="48" width="4" height="4" fill="#494949"/><rect x="152" y="48" width="4" height="4" fill="#444444"/><rect x="155" y="48" width="4" height="4" fill="#404040"/><rect x="158" y="48" width="4" height="4" fill="#3a3a3a"/><rect x="161" y="48" width="4" height="4" fill="#353535"/><rect x="164" y="48" width="4" height="4" fill="#303030"/><rect x="167" y="48" width="4" height="4" fill="#2a2a2a"/><rect x="170" y="48" width="4" height="4" fill="#262626"/><rect x="173" y="48" width="4" height="4" fill="#212121"/><rect x="176" y="48" width="4" height="4" fill="#1d1d1d"/><rect x="179" y="48" width="4" height="4" fill="#191919"/><rect x="182" y="48" width="4" height="4" fill="#161616"/><rect x="185" y="48" width="4" height="4" fill="#131313"/><rect x="188" y="48" width="4" height="4" fill="#111111"/><rect x="191" y="48" width="4" height="4" fill="#0f0f0f"/><rect x="194" y="48" width="4" height="4" fill="#0d0d0d"/><rect x="197" y="48" width="4" height="4" fill="#0c0c0c"/><rect x="200" y="48" width="4" height="4" fill="#0a0a0a"/><rect x="203" y="48" width="4" height="4" fill="#090909"/><rect x="206" y="48" width="7" height="4" fill="#080808"/><rect x="212" y="48" width="7" height="4" fill="#070707"/><rect x="218" y="48" width="10" height="4" fill="#060606"/><rect x="50" y="51" width="7" height="4" fill="#050505"/><rect x="56" y="51" width="13" height="4" fill="#060606"/><rect x="68" y="51" width="7" height="4" fill="#070707"/><rect x="74" y="51" width="4" height="4" fill="#080808"/><rect x="77" y="51" width="4" height="4" fill="#090909"/><rect x="80" y="51" width="4" height="4" fill="#0a0a0a"/><rect x="83" y="51" width="4" height="4" fill="#0b0b0b"/><rect x="86" y="51" width="4" height="4" fill="#0c0c0c"/><rect x="89" y="51" width="4" height="4" fill="#0e0e0e"/><rect x="92" y="51" width="4" height="4" fill="#101010"/><rect x="95" y="51" width="4" height="4" fill="#131313"/><rect x="98" y="51" width="4" height="4" fill="#161616"/><rect x="101" y="51" width="4" height="4" fill="#191919"/><rect x="104" y="51" width="4" height="4" fill="#1d1d1d"/><rect x="107" y="51" width="4" height="4" fill="#222222"/><rect x="110" y="51" width="4" height="4" fill="#272727"/><rect x="113" y="51" width="4" height="4" fill="#2d2d2d"/><rect x="116" y="51" width="4" height="4" fill="#343434"/><rect x="119" y="51" width="4" height="4" fill="#3b3b3b"/><rect x="122" y="51" width="4" height="4" fill="#424242"/><rect x="125" y="51" width="4" height="4" fill="#494949"/><rect x="128" y="51" width="4" height="4" fill="#4f4f4f"/><rect x="131" y="51" width="4" height="4" fill="#545454"/><rect x="134" y="51" width="4" height="4" fill="#585858"/><rect x="137" y="51" width="4" height="4" fill="#5a5a5a"/><rect x="140" y="51" width="4" height="4" fill="#5b5b5b"/><rect x="143" y="51" width="4" height="4" fill="#5a5a5a"/><rect x="146" y="51" width="4" height="4" fill="#585858"/><rect x="149" y="51" width="4" height="4" fill="#545454"/><rect x="152" y="51" width="4" height="4" fill="#4f4f4f"/><rect x="155" y="51" width="4" height="4" fill="#494949"/><rect x="158" y="51" width="4" height="4" fill="#434343"/><rect x="161" y="51" width="4" height="4" fill="#3c3c3c"/><rect x="164" y="51" width="4" height="4" fill="#363636"/><rect x="167" y="51" width="4" height="4" fill="#2f2f2f"/><rect x="170" y="51" width="4" height="4" fill="#2a2a2a"/><rect x="173" y="51" width="4" height="4" fill="#242424"/><rect x="176" y="51" width="4" height="4" fill="#202020"/><rect x="179" y="51" width="4" height="4" fill="#1c1c1c"/><rect x="182" y="51" width="4" height="4" fill="#181818"/><rect x="185" y="51" width="4" height="4" fill="#151515"/><rect x="188" y="51" width="4" height="4" fill="#121212"/><rect x="191" y="51" width="4" height="4" fill="#101010"/><rect x="194" y="51" width="4" height="4" fill="#0e0e0e"/><rect x="197" y="51" width="4" height="4" fill="#0c0c0c"/><rect x="200" y="51" width="4" height="4" fill="#0b0b0b"/><rect x="203" y="51" width="4" height="4" fill="#0a0a0a"/><rect x="206" y="51" width="4" height="4" fill="#090909"/><rect x="209" y="51" width="4" height="4" fill="#080808"/><rect x="212" y="51" width="7" height="4" fill="#070707"/><rect x="218" y="51" width="10" height="4" fill="#060606"/><rect x="50" y="54" width="7" height="4" fill="#050505"/><rect x="56" y="54" width="13" height="4" fill="#060606"/><rect x="68" y="54" width="7" height="4" fill="#070707"/><rect x="74" y="54" width="4" height="4" fill="#080808"/><rect x="77" y="54" width="4" height="4" fill="#090909"/><rect x="80" y="54" width="4" height="4" fill="#0a0a0a"/><rect x="83" y="54" width="4" height="4" fill="#0b0b0b"/><rect x="86" y="54" width="4" height="4" fill="#0d0d0d"/><rect x="89" y="54" width="4" height="4" fill="#0f0f0f"/><rect x="92" y="54" width="4" height="4" fill="#111111"/><rect x="95" y="54" width="4" height="4" fill="#141414"/><rect x="98" y="54" width="4" height="4" fill="#171717"/><rect x="101" y="54" width="4" height="4" fill="#1b1b1b"/><rect x="104" y="54" width="4" height="4" fill="#202020"/><rect x="107" y="54" width="4" height="4" fill="#252525"/><rect x="110" y="54" width="4" height="4" fill="#2c2c2c"/><rect x="113" y="54" width="4" height="4" fill="#333333"/><rect x="116" y="54" width="4" height="4" fill="#3b3b3b"/><rect x="119" y="54" width="4" height="4" fill="#434343"/><rect x="122" y="54" width="4" height="4" fill="#4c4c4c"/><rect x="125" y="54" width="4" height="4" fill="#545454"/><rect x="128" y="54" width="4" height="4" fill="#5b5b5b"/><rect x="131" y="54" width="4" height="4" fill="#626262"/><rect x="134" y="54" width="4" height="4" fill="#666666"/><rect x="137" y="54" width="4" height="4" fill="#696969"/><rect x="140" y="54" width="4" height="4" fill="#6a6a6a"/><rect x="143" y="54" width="4" height="4" fill="#686868"/><rect x="146" y="54" width="4" height="4" fill="#656565"/><rect x="149" y="54" width="4" height="4" fill="#606060"/><rect x="152" y="54" width="4" height="4" fill="#5a5a5a"/><rect x="155" y="54" width="4" height="4" fill="#535353"/><rect x="158" y="54" width="4" height="4" fill="#4b4b4b"/><rect x="161" y="54" width="4" height="4" fill="#434343"/><rect x="164" y="54" width="4" height="4" fill="#3c3c3c"/><rect x="167" y="54" width="4" height="4" fill="#343434"/><rect x="170" y="54" width="4" height="4" fill="#2e2e2e"/><rect x="173" y="54" width="4" height="4" fill="#282828"/><rect x="176" y="54" width="4" height="4" fill="#222222"/><rect x="179" y="54" width="4" height="4" fill="#1e1e1e"/><rect x="182" y="54" width="4" height="4" fill="#1a1a1a"/><rect x="185" y="54" width="4" height="4" fill="#161616"/><rect x="188" y="54" width="4" height="4" fill="#131313"/><rect x="191" y="54" width="4" height="4" fill="#111111"/><rect x="194" y="54" width="4" height="4" fill="#0e0e0e"/><rect x="197" y="54" width="4" height="4" fill="#0d0d0d"/><rect x="200" y="54" width="4" height="4" fill="#0b0b0b"/><rect x="203" y="54" width="4" height="4" fill="#0a0a0a"/><rect x="206" y="54" width="4" height="4" fill="#090909"/><rect x="209" y="54" width="4" height="4" fill="#080808"/><rect x="212" y="54" width="7" height="4" fill="#070707"/><rect x="218" y="54" width="10" height="4" fill="#060606"/><rect x="50" y="57" width="7" height="4" fill="#050505"/><rect x="56" y="57" width="13" height="4" fill="#060606"/><rect x="68" y="57" width="7" height="4" fill="#070707"/><rect x="74" y="57" width="4" height="4" fill="#080808"/><rect x="77" y="57" width="4" height="4" fill="#090909"/><rect x="80" y="57" width="4" height="4" fill="#0a0a0a"/><rect x="83" y="57" width="4" height="4" fill="#0c0c0c"/><rect x="86" y="57" width="4" height="4" fill="#0d0d0d"/><rect x="89" y="57" width="4" height="4" fill="#0f0f0f"/><rect x="92" y="57" width="4" height="4" fill="#121212"/><rect x="95" y="57" width="4" height="4" fill="#151515"/><rect x="98" y="57" width="4" height="4" fill="#191919"/><rect x="101" y="57" width="4" height="4" fill="#1d1d1d"/><rect x="104" y="57" width="4" height="4" fill="#222222"/><rect x="107" y="57" width="4" height="4" fill="#292929"/><rect x="110" y="57" width="4" height="4" fill="#303030"/><rect x="113" y="57" width="4" height="4" fill="#393939"/><rect x="116" y="57" width="4" height="4" fill="#424242"/><rect x="119" y="57" width="4" height="4" fill="#4d4d4d"/><rect x="122" y="57" width="4" height="4" fill="#575757"/><rect x="125" y="57" width="4" height="4" fill="#616161"/><rect x="128" y="57" width="4" height="4" fill="#6b6b6b"/><rect x="131" y="57" width="4" height="4" fill="#727272"/><rect x="134" y="57" width="4" height="4" fill="#777777"/><rect x="137" y="57" width="7" height="4" fill="#7a7a7a"/><rect x="143" y="57" width="4" height="4" fill="#787878"/><rect x="146" y="57" width="4" height="4" fill="#737373"/><rect x="149" y="57" width="4" height="4" fill="#6d6d6d"/><rect x="152" y="57" width="4" height="4" fill="#656565"/><rect x="155" y="57" width="4" height="4" fill="#5d5d5d"/><rect x="158" y="57" width="4" height="4" fill="#535353"/><rect x="161" y="57" width="4" height="4" fill="#4a4a4a"/><rect x="164" y="57" width="4" height="4" fill="#414141"/><rect x="167" y="57" width="4" height="4" fill="#393939"/><rect x="170" y="57" width="4" height="4" fill="#313131"/><rect x="173" y="57" width="4" height="4" fill="#2b2b2b"/><rect x="176" y="57" width="4" height="4" fill="#252525"/><rect x="179" y="57" width="4" height="4" fill="#1f1f1f"/><rect x="182" y="57" width="4" height="4" fill="#1b1b1b"/><rect x="185" y="57" width="4" height="4" fill="#171717"/><rect x="188" y="57" width="4" height="4" fill="#141414"/><rect x="191" y="57" width="4" height="4" fill="#111111"/><rect x="194" y="57" width="4" height="4" fill="#0f0f0f"/><rect x="197" y="57" width="4" height="4" fill="#0d0d0d"/><rect x="200" y="57" width="4" height="4" fill="#0b0b0b"/><rect x="203" y="57" width="4" height="4" fill="#0a0a0a"/><rect x="206" y="57" width="4" height="4" fill="#090909"/><rect x="209" y="57" width="4" height="4" fill="#080808"/><rect x="212" y="57" width="7" height="4" fill="#070707"/><rect x="218" y="57" width="10" height="4" fill="#060606"/><rect x="50" y="60" width="7" height="4" fill="#050505"/><rect x="56" y="60" width="13" height="4" fill="#060606"/><rect x="68" y="60" width="4" height="4" fill="#070707"/><rect x="71" y="60" width="7" height="4" fill="#080808"/><rect x="77" y="60" width="4" height="4" fill="#090909"/><rect x="80" y="60" width="4" height="4" fill="#0a0a0a"/><rect x="83" y="60" width="4" height="4" fill="#0c0c0c"/><rect x="86" y="60" width="4" height="4" fill="#0e0e0e"/><rect x="89" y="60" width="4" height="4" fill="#101010"/><rect x="92" y="60" width="4" height="4" fill="#121212"/><rect x="95" y="60" width="4" height="4" fill="#161616"/><rect x="98" y="60" width="4" height="4" fill="#1a1a1a"/><rect x="101" y="60" width="4" height="4" fill="#1f1f1f"/><rect x="104" y="60" width="4" height="4" fill="#252525"/><rect x="107" y="60" width="4" height="4" fill="#2c2c2c"/><rect x="110" y="60" width="4" height="4" fill="#353535"/><rect x="113" y="60" width="4" height="4" fill="#404040"/><rect x="116" y="60" width="4" height="4" fill="#4c4c4c"/><rect x="119" y="60" width="4" height="4" fill="#585858"/><rect x="122" y="60" width="4" height="4" fill="#666666"/><rect x="125" y="60" width="4" height="4" fill="#727272"/><rect x="128" y="60" width="4" height="4" fill="#7d7d7d"/><rect x="131" y="60" width="4" height="4" fill="#868686"/><rect x="134" y="60" width="4" height="4" fill="#8c8c8c"/><rect x="137" y="60" width="4" height="4" fill="#8e8e8e"/><rect x="140" y="60" width="4" height="4" fill="#8d8d8d"/><rect x="143" y="60" width="4" height="4" fill="#898989"/><rect x="146" y="60" width="4" height="4" fill="#828282"/><rect x="149" y="60" width="4" height="4" fill="#7a7a7a"/><rect x="152" y="60" width="4" height="4" fill="#707070"/><rect x="155" y="60" width="4" height="4" fill="#666666"/><rect x="158" y="60" width="4" height="4" fill="#5b5b5b"/><rect x="161" y="60" width="4" height="4" fill="#515151"/><rect x="164" y="60" width="4" height="4" fill="#474747"/><rect x="167" y="60" width="4" height="4" fill="#3d3d3d"/><rect x="170" y="60" width="4" height="4" fill="#353535"/><rect x="173" y="60" width="4" height="4" fill="#2d2d2d"/><rect x="176" y="60" width="4" height="4" fill="#272727"/><rect x="179" y="60" width="4" height="4" fill="#212121"/><rect x="182" y="60" width="4" height="4" fill="#1c1c1c"/><rect x="185" y="60" width="4" height="4" fill="#181818"/><rect x="188" y="60" width="4" height="4" fill="#151515"/><rect x="191" y="60" width="4" height="4" fill="#121212"/><rect x="194" y="60" width="4" height="4" fill="#0f0f0f"/><rect x="197" y="60" width="4" height="4" fill="#0d0d0d"/><rect x="200" y="60" width="4" height="4" fill="#0c0c0c"/><rect x="203" y="60" width="4" height="4" fill="#0a0a0a"/><rect x="206" y="60" width="4" height="4" fill="#090909"/><rect x="209" y="60" width="7" height="4" fill="#080808"/><rect x="215" y="60" width="4" height="4" fill="#070707"/><rect x="218" y="60" width="10" height="4" fill="#060606"/><rect x="50" y="63" width="7" height="4" fill="#050505"/><rect x="56" y="63" width="13" height="4" fill="#060606"/><rect x="68" y="63" width="4" height="4" fill="#070707"/><rect x="71" y="63" width="7" height="4" fill="#080808"/><rect x="77" y="63" width="4" height="4" fill="#090909"/><rect x="80" y="63" width="4" height="4" fill="#0a0a0a"/><rect x="83" y="63" width="4" height="4" fill="#0c0c0c"/><rect x="86" y="63" width="4" height="4" fill="#0e0e0e"/><rect x="89" y="63" width="4" height="4" fill="#101010"/><rect x="92" y="63" width="4" height="4" fill="#131313"/><rect x="95" y="63" width="4" height="4" fill="#161616"/><rect x="98" y="63" width="4" height="4" fill="#1b1b1b"/><rect x="101" y="63" width="4" height="4" fill="#202020"/><rect x="104" y="63" width="4" height="4" fill="#272727"/><rect x="107" y="63" width="4" height="4" fill="#303030"/><rect x="110" y="63" width="4" height="4" fill="#3b3b3b"/><rect x="113" y="63" width="4" height="4" fill="#484848"/><rect x="116" y="63" width="4" height="4" fill="#575757"/><rect x="119" y="63" width="4" height="4" fill="#676767"/><rect x="122" y="63" width="4" height="4" fill="#787878"/><rect x="125" y="63" width="4" height="4" fill="#888888"/><rect x="128" y="63" width="4" height="4" fill="#959595"/><rect x="131" y="63" width="4" height="4" fill="#9f9f9f"/><rect x="134" y="63" width="4" height="4" fill="#a5a5a5"/><rect x="137" y="63" width="4" height="4" fill="#a6a6a6"/><rect x="140" y="63" width="4" height="4" fill="#a2a2a2"/><rect x="143" y="63" width="4" height="4" fill="#9c9c9c"/><rect x="146" y="63" width="4" height="4" fill="#929292"/><rect x="149" y="63" width="4" height="4" fill="#878787"/><rect x="152" y="63" width="4" height="4" fill="#7b7b7b"/><rect x="155" y="63" width="4" height="4" fill="#6f6f6f"/><rect x="158" y="63" width="4" height="4" fill="#626262"/><rect x="161" y="63" width="4" height="4" fill="#565656"/><rect x="164" y="63" width="4" height="4" fill="#4b4b4b"/><rect x="167" y="63" width="4" height="4" fill="#414141"/><rect x="170" y="63" width="4" height="4" fill="#373737"/><rect x="173" y="63" width="4" height="4" fill="#2f2f2f"/><rect x="176" y="63" width="4" height="4" fill="#282828"/><rect x="179" y="63" width="4" height="4" fill="#222222"/><rect x="182" y="63" width="4" height="4" fill="#1d1d1d"/><rect x="185" y="63" width="4" height="4" fill="#191919"/><rect x="188" y="63" width="4" height="4" fill="#151515"/><rect x="191" y="63" width="4" height="4" fill="#121212"/><rect x="194" y="63" width="4" height="4" fill="#101010"/><rect x="197" y="63" width="4" height="4" fill="#0e0e0e"/><rect x="200" y="63" width="4" height="4" fill="#0c0c0c"/><rect x="203" y="63" width="4" height="4" fill="#0a0a0a"/><rect x="206" y="63" width="4" height="4" fill="#090909"/><rect x="209" y="63" width="7" height="4" fill="#080808"/><rect x="215" y="63" width="4" height="4" fill="#070707"/><rect x="218" y="63" width="10" height="4" fill="#060606"/><rect x="50" y="66" width="7" height="4" fill="#050505"/><rect x="56" y="66" width="10" height="4" fill="#060606"/><rect x="65" y="66" width="7" height="4" fill="#070707"/><rect x="71" y="66" width="7" height="4" fill="#080808"/><rect x="77" y="66" width="4" height="4" fill="#090909"/><rect x="80" y="66" width="4" height="4" fill="#0b0b0b"/><rect x="83" y="66" width="4" height="4" fill="#0c0c0c"/><rect x="86" y="66" width="4" height="4" fill="#0e0e0e"/><rect x="89" y="66" width="4" height="4" fill="#101010"/><rect x="92" y="66" width="4" height="4" fill="#131313"/><rect x="95" y="66" width="4" height="4" fill="#171717"/><rect x="98" y="66" width="4" height="4" fill="#1c1c1c"/><rect x="101" y="66" width="4" height="4" fill="#222222"/><rect x="104" y="66" width="4" height="4" fill="#2a2a2a"/><rect x="107" y="66" width="4" height="4" fill="#343434"/><rect x="110" y="66" width="4" height="4" fill="#414141"/><rect x="113" y="66" width="4" height="4" fill="#505050"/><rect x="116" y="66" width="4" height="4" fill="#636363"/><rect x="119" y="66" width="4" height="4" fill="#787878"/><rect x="122" y="66" width="4" height="4" fill="#8d8d8d"/><rect x="125" y="66" width="4" height="4" fill="#a1a1a1"/><rect x="128" y="66" width="4" height="4" fill="#b1b1b1"/><rect x="131" y="66" width="4" height="4" fill="#bdbdbd"/><rect x="134" y="66" width="4" height="4" fill="#c2c2c2"/><rect x="137" y="66" width="4" height="4" fill="#c0c0c0"/><rect x="140" y="66" width="4" height="4" fill="#bababa"/><rect x="143" y="66" width="4" height="4" fill="#afafaf"/><rect x="146" y="66" width="4" height="4" fill="#a2a2a2"/><rect x="149" y="66" width="4" height="4" fill="#949494"/><rect x="152" y="66" width="4" height="4" fill="#858585"/><rect x="155" y="66" width="4" height="4" fill="#767676"/><rect x="158" y="66" width="4" height="4" fill="#686868"/><rect x="161" y="66" width="4" height="4" fill="#5b5b5b"/><rect x="164" y="66" width="4" height="4" fill="#4e4e4e"/><rect x="167" y="66" width="4" height="4" fill="#434343"/><rect x="170" y="66" width="4" height="4" fill="#393939"/><rect x="173" y="66" width="4" height="4" fill="#303030"/><rect x="176" y="66" width="4" height="4" fill="#292929"/><rect x="179" y="66" width="4" height="4" fill="#232323"/><rect x="182" y="66" width="4" height="4" fill="#1d1d1d"/><rect x="185" y="66" width="4" height="4" fill="#191919"/><rect x="188" y="66" width="4" height="4" fill="#151515"/><rect x="191" y="66" width="4" height="4" fill="#121212"/><rect x="194" y="66" width="4" height="4" fill="#101010"/><rect x="197" y="66" width="4" height="4" fill="#0e0e0e"/><rect x="200" y="66" width="4" height="4" fill="#0c0c0c"/><rect x="203" y="66" width="4" height="4" fill="#0a0a0a"/><rect x="206" y="66" width="4" height="4" fill="#090909"/><rect x="209" y="66" width="7" height="4" fill="#080808"/><rect x="215" y="66" width="7" height="4" fill="#070707"/><rect x="221" y="66" width="7" height="4" fill="#060606"/><rect x="50" y="69" width="7" height="4" fill="#050505"/><rect x="56" y="69" width="13" height="4" fill="#060606"/><rect x="68" y="69" width="4" height="4" fill="#070707"/><rect x="71" y="69" width="7" height="4" fill="#080808"/><rect x="77" y="69" width="4" height="4" fill="#090909"/><rect x="80" y="69" width="4" height="4" fill="#0b0b0b"/><rect x="83" y="69" width="4" height="4" fill="#0c0c0c"/><rect x="86" y="69" width="4" height="4" fill="#0e0e0e"/><rect x="89" y="69" width="4" height="4" fill="#101010"/><rect x="92" y="69" width="4" height="4" fill="#131313"/><rect x="95" y="69" width="4" height="4" fill="#171717"/><rect x="98" y="69" width="4" height="4" fill="#1c1c1c"/><rect x="101" y="69" width="4" height="4" fill="#232323"/><rect x="104" y="69" width="4" height="4" fill="#2b2b2b"/><rect x="107" y="69" width="4" height="4" fill="#373737"/><rect x="110" y="69" width="4" height="4" fill="#464646"/><rect x="113" y="69" width="4" height="4" fill="#595959"/><rect x="116" y="69" width="4" height="4" fill="#707070"/><rect x="119" y="69" width="4" height="4" fill="#898989"/><rect x="122" y="69" width="4" height="4" fill="#a3a3a3"/><rect x="125" y="69" width="4" height="4" fill="#bbbbbb"/><rect x="128" y="69" width="4" height="4" fill="#cfcfcf"/><rect x="131" y="69" width="4" height="4" fill="#dbdbdb"/><rect x="134" y="69" width="4" height="4" fill="#dfdfdf"/><rect x="137" y="69" width="4" height="4" fill="#dbdbdb"/><rect x="140" y="69" width="4" height="4" fill="#d0d0d0"/><rect x="143" y="69" width="4" height="4" fill="#c1c1c1"/><rect x="146" y="69" width="4" height="4" fill="#b0b0b0"/><rect x="149" y="69" width="4" height="4" fill="#9e9e9e"/><rect x="152" y="69" width="4" height="4" fill="#8c8c8c"/><rect x="155" y="69" width="4" height="4" fill="#7b7b7b"/><rect x="158" y="69" width="4" height="4" fill="#6b6b6b"/><rect x="161" y="69" width="4" height="4" fill="#5d5d5d"/><rect x="164" y="69" width="4" height="4" fill="#505050"/><rect x="167" y="69" width="4" height="4" fill="#444444"/><rect x="170" y="69" width="4" height="4" fill="#3a3a3a"/><rect x="173" y="69" width="4" height="4" fill="#313131"/><rect x="176" y="69" width="4" height="4" fill="#292929"/><rect x="179" y="69" width="4" height="4" fill="#232323"/><rect x="182" y="69" width="4" height="4" fill="#1e1e1e"/><rect x="185" y="69" width="4" height="4" fill="#191919"/><rect x="188" y="69" width="4" height="4" fill="#151515"/><rect x="191" y="69" width="4" height="4" fill="#121212"/><rect x="194" y="69" width="4" height="4" fill="#101010"/><rect x="197" y="69" width="4" height="4" fill="#0e0e0e"/><rect x="200" y="69" width="4" height="4" fill="#0c0c0c"/><rect x="203" y="69" width="4" height="4" fill="#0a0a0a"/><rect x="206" y="69" width="4" height="4" fill="#090909"/><rect x="209" y="69" width="7" height="4" fill="#080808"/><rect x="215" y="69" width="4" height="4" fill="#070707"/><rect x="218" y="69" width="10" height="4" fill="#060606"/><rect x="50" y="72" width="7" height="4" fill="#050505"/><rect x="56" y="72" width="13" height="4" fill="#060606"/><rect x="68" y="72" width="4" height="4" fill="#070707"/><rect x="71" y="72" width="7" height="4" fill="#080808"/><rect x="77" y="72" width="4" height="4" fill="#090909"/><rect x="80" y="72" width="4" height="4" fill="#0a0a0a"/><rect x="83" y="72" width="4" height="4" fill="#0c0c0c"/><rect x="86" y="72" width="4" height="4" fill="#0e0e0e"/><rect x="89" y="72" width="4" height="4" fill="#101010"/><rect x="92" y="72" width="4" height="4" fill="#131313"/><rect x="95" y="72" width="4" height="4" fill="#171717"/><rect x="98" y="72" width="4" height="4" fill="#1c1c1c"/><rect x="101" y="72" width="4" height="4" fill="#232323"/><rect x="104" y="72" width="4" height="4" fill="#2c2c2c"/><rect x="107" y="72" width="4" height="4" fill="#393939"/><rect x="110" y="72" width="4" height="4" fill="#4a4a4a"/><rect x="113" y="72" width="4" height="4" fill="#5f5f5f"/><rect x="116" y="72" width="4" height="4" fill="#797979"/><rect x="119" y="72" width="4" height="4" fill="#979797"/><rect x="122" y="72" width="4" height="4" fill="#b5b5b5"/><rect x="125" y="72" width="4" height="4" fill="#d0d0d0"/><rect x="128" y="72" width="4" height="4" fill="#e6e6e6"/><rect x="131" y="72" width="4" height="4" fill="#f3f3f3"/><rect x="134" y="72" width="4" height="4" fill="#f6f6f6"/><rect x="137" y="72" width="4" height="4" fill="#efefef"/><rect x="140" y="72" width="4" height="4" fill="#e1e1e1"/><rect x="143" y="72" width="4" height="4" fill="#cecece"/><rect x="146" y="72" width="4" height="4" fill="#b9b9b9"/><rect x="149" y="72" width="4" height="4" fill="#a4a4a4"/><rect x="152" y="72" width="4" height="4" fill="#909090"/><rect x="155" y="72" width="4" height="4" fill="#7d7d7d"/><rect x="158" y="72" width="4" height="4" fill="#6c6c6c"/><rect x="161" y="72" width="4" height="4" fill="#5d5d5d"/><rect x="164" y="72" width="4" height="4" fill="#505050"/><rect x="167" y="72" width="4" height="4" fill="#444444"/><rect x="170" y="72" width="4" height="4" fill="#3a3a3a"/><rect x="173" y="72" width="4" height="4" fill="#313131"/><rect x="176" y="72" width="4" height="4" fill="#292929"/><rect x="179" y="72" width="4" height="4" fill="#232323"/><rect x="182" y="72" width="4" height="4" fill="#1d1d1d"/><rect x="185" y="72" width="4" height="4" fill="#191919"/><rect x="188" y="72" width="4" height="4" fill="#151515"/><rect x="191" y="72" width="4" height="4" fill="#121212"/><rect x="194" y="72" width="4" height="4" fill="#0f0f0f"/><rect x="197" y="72" width="4" height="4" fill="#0d0d0d"/><rect x="200" y="72" width="4" height="4" fill="#0c0c0c"/><rect x="203" y="72" width="4" height="4" fill="#0a0a0a"/><rect x="206" y="72" width="4" height="4" fill="#090909"/><rect x="209" y="72" width="7" height="4" fill="#080808"/><rect x="215" y="72" width="4" height="4" fill="#070707"/><rect x="218" y="72" width="10" height="4" fill="#060606"/><rect x="50" y="75" width="7" height="4" fill="#050505"/><rect x="56" y="75" width="13" height="4" fill="#060606"/><rect x="68" y="75" width="7" height="4" fill="#070707"/><rect x="74" y="75" width="4" height="4" fill="#080808"/><rect x="77" y="75" width="4" height="4" fill="#090909"/><rect x="80" y="75" width="4" height="4" fill="#0a0a0a"/><rect x="83" y="75" width="4" height="4" fill="#0c0c0c"/><rect x="86" y="75" width="4" height="4" fill="#0d0d0d"/><rect x="89" y="75" width="4" height="4" fill="#101010"/><rect x="92" y="75" width="4" height="4" fill="#131313"/><rect x="95" y="75" width="4" height="4" fill="#171717"/><rect x="98" y="75" width="4" height="4" fill="#1c1c1c"/><rect x="101" y="75" width="4" height="4" fill="#232323"/><rect x="104" y="75" width="4" height="4" fill="#2c2c2c"/><rect x="107" y="75" width="4" height="4" fill="#393939"/><rect x="110" y="75" width="4" height="4" fill="#4b4b4b"/><rect x="113" y="75" width="4" height="4" fill="#616161"/><rect x="116" y="75" width="4" height="4" fill="#7d7d7d"/><rect x="119" y="75" width="4" height="4" fill="#9c9c9c"/><rect x="122" y="75" width="4" height="4" fill="#bcbcbc"/><rect x="125" y="75" width="4" height="4" fill="#d9d9d9"/><rect x="128" y="75" width="4" height="4" fill="#efefef"/><rect x="131" y="75" width="4" height="4" fill="#fcfcfc"/><rect x="134" y="75" width="4" height="4" fill="#fefefe"/><rect x="137" y="75" width="4" height="4" fill="#f6f6f6"/><rect x="140" y="75" width="4" height="4" fill="#e6e6e6"/><rect x="143" y="75" width="4" height="4" fill="#d1d1d1"/><rect x="146" y="75" width="4" height="4" fill="#bababa"/><rect x="149" y="75" width="4" height="4" fill="#a3a3a3"/><rect x="152" y="75" width="4" height="4" fill="#8e8e8e"/><rect x="155" y="75" width="4" height="4" fill="#7b7b7b"/><rect x="158" y="75" width="4" height="4" fill="#6a6a6a"/><rect x="161" y="75" width="4" height="4" fill="#5b5b5b"/><rect x="164" y="75" width="4" height="4" fill="#4e4e4e"/><rect x="167" y="75" width="4" height="4" fill="#424242"/><rect x="170" y="75" width="4" height="4" fill="#383838"/><rect x="173" y="75" width="4" height="4" fill="#2f2f2f"/><rect x="176" y="75" width="4" height="4" fill="#282828"/><rect x="179" y="75" width="4" height="4" fill="#222222"/><rect x="182" y="75" width="4" height="4" fill="#1c1c1c"/><rect x="185" y="75" width="4" height="4" fill="#181818"/><rect x="188" y="75" width="4" height="4" fill="#141414"/><rect x="191" y="75" width="4" height="4" fill="#121212"/><rect x="194" y="75" width="4" height="4" fill="#0f0f0f"/><rect x="197" y="75" width="4" height="4" fill="#0d0d0d"/><rect x="200" y="75" width="4" height="4" fill="#0b0b0b"/><rect x="203" y="75" width="4" height="4" fill="#0a0a0a"/><rect x="206" y="75" width="4" height="4" fill="#090909"/><rect x="209" y="75" width="4" height="4" fill="#080808"/><rect x="212" y="75" width="7" height="4" fill="#070707"/><rect x="218" y="75" width="10" height="4" fill="#060606"/><rect x="50" y="78" width="7" height="4" fill="#050505"/><rect x="56" y="78" width="13" height="4" fill="#060606"/><rect x="68" y="78" width="7" height="4" fill="#070707"/><rect x="74" y="78" width="4" height="4" fill="#080808"/><rect x="77" y="78" width="4" height="4" fill="#090909"/><rect x="80" y="78" width="4" height="4" fill="#0a0a0a"/><rect x="83" y="78" width="4" height="4" fill="#0b0b0b"/><rect x="86" y="78" width="4" height="4" fill="#0d0d0d"/><rect x="89" y="78" width="4" height="4" fill="#0f0f0f"/><rect x="92" y="78" width="4" height="4" fill="#121212"/><rect x="95" y="78" width="4" height="4" fill="#161616"/><rect x="98" y="78" width="4" height="4" fill="#1b1b1b"/><rect x="101" y="78" width="4" height="4" fill="#212121"/><rect x="104" y="78" width="4" height="4" fill="#2a2a2a"/><rect x="107" y="78" width="4" height="4" fill="#373737"/><rect x="110" y="78" width="4" height="4" fill="#484848"/><rect x="113" y="78" width="4" height="4" fill="#5e5e5e"/><rect x="116" y="78" width="4" height="4" fill="#787878"/><rect x="119" y="78" width="4" height="4" fill="#969696"/><rect x="122" y="78" width="4" height="4" fill="#b5b5b5"/><rect x="125" y="78" width="4" height="4" fill="#d1d1d1"/><rect x="128" y="78" width="4" height="4" fill="#e6e6e6"/><rect x="131" y="78" width="4" height="4" fill="#f3f3f3"/><rect x="134" y="78" width="4" height="4" fill="#f4f4f4"/><rect x="137" y="78" width="4" height="4" fill="#ececec"/><rect x="140" y="78" width="4" height="4" fill="#dddddd"/><rect x="143" y="78" width="4" height="4" fill="#c8c8c8"/><rect x="146" y="78" width="4" height="4" fill="#b2b2b2"/><rect x="149" y="78" width="4" height="4" fill="#9c9c9c"/><rect x="152" y="78" width="4" height="4" fill="#888888"/><rect x="155" y="78" width="4" height="4" fill="#757575"/><rect x="158" y="78" width="4" height="4" fill="#656565"/><rect x="161" y="78" width="4" height="4" fill="#575757"/><rect x="164" y="78" width="4" height="4" fill="#4a4a4a"/><rect x="167" y="78" width="4" height="4" fill="#3f3f3f"/><rect x="170" y="78" width="4" height="4" fill="#353535"/><rect x="173" y="78" width="4" height="4" fill="#2d2d2d"/><rect x="176" y="78" width="4" height="4" fill="#262626"/><rect x="179" y="78" width="4" height="4" fill="#202020"/><rect x="182" y="78" width="4" height="4" fill="#1b1b1b"/><rect x="185" y="78" width="4" height="4" fill="#171717"/><rect x="188" y="78" width="4" height="4" fill="#141414"/><rect x="191" y="78" width="4" height="4" fill="#111111"/><rect x="194" y="78" width="4" height="4" fill="#0f0f0f"/><rect x="197" y="78" width="4" height="4" fill="#0d0d0d"/><rect x="200" y="78" width="4" height="4" fill="#0b0b0b"/><rect x="203" y="78" width="4" height="4" fill="#0a0a0a"/><rect x="206" y="78" width="4" height="4" fill="#090909"/><rect x="209" y="78" width="4" height="4" fill="#080808"/><rect x="212" y="78" width="7" height="4" fill="#070707"/><rect x="218" y="78" width="10" height="4" fill="#060606"/><rect x="50" y="81" width="7" height="4" fill="#050505"/><rect x="56" y="81" width="13" height="4" fill="#060606"/><rect x="68" y="81" width="7" height="4" fill="#070707"/><rect x="74" y="81" width="4" height="4" fill="#080808"/><rect x="77" y="81" width="4" height="4" fill="#090909"/><rect x="80" y="81" width="4" height="4" fill="#0a0a0a"/><rect x="83" y="81" width="4" height="4" fill="#0b0b0b"/><rect x="86" y="81" width="4" height="4" fill="#0d0d0d"/><rect x="89" y="81" width="4" height="4" fill="#0f0f0f"/><rect x="92" y="81" width="4" height="4" fill="#111111"/><rect x="95" y="81" width="4" height="4" fill="#141414"/><rect x="98" y="81" width="4" height="4" fill="#191919"/><rect x="101" y="81" width="4" height="4" fill="#1f1f1f"/><rect x="104" y="81" width="4" height="4" fill="#272727"/><rect x="107" y="81" width="4" height="4" fill="#323232"/><rect x="110" y="81" width="4" height="4" fill="#414141"/><rect x="113" y="81" width="4" height="4" fill="#555555"/><rect x="116" y="81" width="4" height="4" fill="#6c6c6c"/><rect x="119" y="81" width="4" height="4" fill="#868686"/><rect x="122" y="81" width="4" height="4" fill="#a1a1a1"/><rect x="125" y="81" width="4" height="4" fill="#b9b9b9"/><rect x="128" y="81" width="4" height="4" fill="#cccccc"/><rect x="131" y="81" width="4" height="4" fill="#d8d8d8"/><rect x="134" y="81" width="4" height="4" fill="#dadada"/><rect x="137" y="81" width="4" height="4" fill="#d3d3d3"/><rect x="140" y="81" width="4" height="4" fill="#c6c6c6"/><rect x="143" y="81" width="4" height="4" fill="#b5b5b5"/><rect x="146" y="81" width="4" height="4" fill="#a1a1a1"/><rect x="149" y="81" width="4" height="4" fill="#8e8e8e"/><rect x="152" y="81" width="4" height="4" fill="#7c7c7c"/><rect x="155" y="81" width="4" height="4" fill="#6c6c6c"/><rect x="158" y="81" width="4" height="4" fill="#5d5d5d"/><rect x="161" y="81" width="4" height="4" fill="#505050"/><rect x="164" y="81" width="4" height="4" fill="#454545"/><rect x="167" y="81" width="4" height="4" fill="#3b3b3b"/><rect x="170" y="81" width="4" height="4" fill="#323232"/><rect x="173" y="81" width="4" height="4" fill="#2a2a2a"/><rect x="176" y="81" width="4" height="4" fill="#242424"/><rect x="179" y="81" width="4" height="4" fill="#1e1e1e"/><rect x="182" y="81" width="4" height="4" fill="#1a1a1a"/><rect x="185" y="81" width="4" height="4" fill="#161616"/><rect x="188" y="81" width="4" height="4" fill="#131313"/><rect x="191" y="81" width="4" height="4" fill="#101010"/><rect x="194" y="81" width="4" height="4" fill="#0e0e0e"/><rect x="197" y="81" width="4" height="4" fill="#0c0c0c"/><rect x="200" y="81" width="4" height="4" fill="#0b0b0b"/><rect x="203" y="81" width="4" height="4" fill="#0a0a0a"/><rect x="206" y="81" width="4" height="4" fill="#090909"/><rect x="209" y="81" width="4" height="4" fill="#080808"/><rect x="212" y="81" width="7" height="4" fill="#070707"/><rect x="218" y="81" width="10" height="4" fill="#060606"/><rect x="50" y="84" width="7" height="4" fill="#050505"/><rect x="56" y="84" width="13" height="4" fill="#060606"/><rect x="68" y="84" width="7" height="4" fill="#070707"/><rect x="74" y="84" width="7" height="4" fill="#080808"/><rect x="80" y="84" width="4" height="4" fill="#090909"/><rect x="83" y="84" width="4" height="4" fill="#0a0a0a"/><rect x="86" y="84" width="4" height="4" fill="#0c0c0c"/><rect x="89" y="84" width="4" height="4" fill="#0e0e0e"/><rect x="92" y="84" width="4" height="4" fill="#101010"/><rect x="95" y="84" width="4" height="4" fill="#131313"/><rect x="98" y="84" width="4" height="4" fill="#171717"/><rect x="101" y="84" width="4" height="4" fill="#1c1c1c"/><rect x="104" y="84" width="4" height="4" fill="#232323"/><rect x="107" y="84" width="4" height="4" fill="#2c2c2c"/><rect x="110" y="84" width="4" height="4" fill="#393939"/><rect x="113" y="84" width="4" height="4" fill="#484848"/><rect x="116" y="84" width="4" height="4" fill="#5b5b5b"/><rect x="119" y="84" width="4" height="4" fill="#707070"/><rect x="122" y="84" width="4" height="4" fill="#858585"/><rect x="125" y="84" width="4" height="4" fill="#999999"/><rect x="128" y="84" width="4" height="4" fill="#a9a9a9"/><rect x="131" y="84" width="4" height="4" fill="#b2b2b2"/><rect x="134" y="84" width="4" height="4" fill="#b5b5b5"/><rect x="137" y="84" width="4" height="4" fill="#b1b1b1"/><rect x="140" y="84" width="4" height="4" fill="#a7a7a7"/><rect x="143" y="84" width="4" height="4" fill="#9a9a9a"/><rect x="146" y="84" width="4" height="4" fill="#8b8b8b"/><rect x="149" y="84" width="4" height="4" fill="#7c7c7c"/><rect x="152" y="84" width="4" height="4" fill="#6e6e6e"/><rect x="155" y="84" width="4" height="4" fill="#606060"/><rect x="158" y="84" width="4" height="4" fill="#545454"/><rect x="161" y="84" width="4" height="4" fill="#494949"/><rect x="164" y="84" width="4" height="4" fill="#3f3f3f"/><rect x="167" y="84" width="4" height="4" fill="#363636"/><rect x="170" y="84" width="4" height="4" fill="#2e2e2e"/><rect x="173" y="84" width="4" height="4" fill="#272727"/><rect x="176" y="84" width="4" height="4" fill="#212121"/><rect x="179" y="84" width="4" height="4" fill="#1c1c1c"/><rect x="182" y="84" width="4" height="4" fill="#181818"/><rect x="185" y="84" width="4" height="4" fill="#151515"/><rect x="188" y="84" width="4" height="4" fill="#121212"/><rect x="191" y="84" width="4" height="4" fill="#0f0f0f"/><rect x="194" y="84" width="4" height="4" fill="#0d0d0d"/><rect x="197" y="84" width="4" height="4" fill="#0c0c0c"/><rect x="200" y="84" width="4" height="4" fill="#0a0a0a"/><rect x="203" y="84" width="4" height="4" fill="#090909"/><rect x="206" y="84" width="7" height="4" fill="#080808"/><rect x="212" y="84" width="7" height="4" fill="#070707"/><rect x="218" y="84" width="10" height="4" fill="#060606"/><rect x="50" y="87" width="10" height="4" fill="#050505"/><rect x="59" y="87" width="13" height="4" fill="#060606"/><rect x="71" y="87" width="7" height="4" fill="#070707"/><rect x="77" y="87" width="4" height="4" fill="#080808"/><rect x="80" y="87" width="4" height="4" fill="#090909"/><rect x="83" y="87" width="4" height="4" fill="#0a0a0a"/><rect x="86" y="87" width="4" height="4" fill="#0b0b0b"/><rect x="89" y="87" width="4" height="4" fill="#0d0d0d"/><rect x="92" y="87" width="4" height="4" fill="#0f0f0f"/><rect x="95" y="87" width="4" height="4" fill="#121212"/><rect x="98" y="87" width="4" height="4" fill="#151515"/><rect x="101" y="87" width="4" height="4" fill="#191919"/><rect x="104" y="87" width="4" height="4" fill="#1f1f1f"/><rect x="107" y="87" width="4" height="4" fill="#262626"/><rect x="110" y="87" width="4" height="4" fill="#303030"/><rect x="113" y="87" width="4" height="4" fill="#3c3c3c"/><rect x="116" y="87" width="4" height="4" fill="#4a4a4a"/><rect x="119" y="87" width="4" height="4" fill="#595959"/><rect x="122" y="87" width="4" height="4" fill="#696969"/><rect x="125" y="87" width="4" height="4" fill="#787878"/><rect x="128" y="87" width="4" height="4" fill="#848484"/><rect x="131" y="87" width="4" height="4" fill="#8c8c8c"/><rect x="134" y="87" width="4" height="4" fill="#8f8f8f"/><rect x="137" y="87" width="4" height="4" fill="#8d8d8d"/><rect x="140" y="87" width="4" height="4" fill="#878787"/><rect x="143" y="87" width="4" height="4" fill="#7e7e7e"/><rect x="146" y="87" width="4" height="4" fill="#747474"/><rect x="149" y="87" width="4" height="4" fill="#696969"/><rect x="152" y="87" width="4" height="4" fill="#5e5e5e"/><rect x="155" y="87" width="4" height="4" fill="#545454"/><rect x="158" y="87" width="4" height="4" fill="#4a4a4a"/><rect x="161" y="87" width="4" height="4" fill="#404040"/><rect x="164" y="87" width="4" height="4" fill="#383838"/><rect x="167" y="87" width="4" height="4" fill="#303030"/><rect x="170" y="87" width="4" height="4" fill="#292929"/><rect x="173" y="87" width="4" height="4" fill="#232323"/><rect x="176" y="87" width="4" height="4" fill="#1e1e1e"/><rect x="179" y="87" width="4" height="4" fill="#1a1a1a"/><rect x="182" y="87" width="4" height="4" fill="#161616"/><rect x="185" y="87" width="4" height="4" fill="#131313"/><rect x="188" y="87" width="4" height="4" fill="#101010"/><rect x="191" y="87" width="4" height="4" fill="#0e0e0e"/><rect x="194" y="87" width="4" height="4" fill="#0d0d0d"/><rect x="197" y="87" width="4" height="4" fill="#0b0b0b"/><rect x="200" y="87" width="4" height="4" fill="#0a0a0a"/><rect x="203" y="87" width="4" height="4" fill="#090909"/><rect x="206" y="87" width="4" height="4" fill="#080808"/><rect x="209" y="87" width="7" height="4" fill="#070707"/><rect x="215" y="87" width="13" height="4" fill="#060606"/><rect x="50" y="90" width="10" height="4" fill="#050505"/><rect x="59" y="90" width="13" height="4" fill="#060606"/><rect x="71" y="90" width="7" height="4" fill="#070707"/><rect x="77" y="90" width="4" height="4" fill="#080808"/><rect x="80" y="90" width="7" height="4" fill="#090909"/><rect x="86" y="90" width="4" height="4" fill="#0b0b0b"/><rect x="89" y="90" width="4" height="4" fill="#0c0c0c"/><rect x="92" y="90" width="4" height="4" fill="#0e0e0e"/><rect x="95" y="90" width="4" height="4" fill="#101010"/><rect x="98" y="90" width="4" height="4" fill="#131313"/><rect x="101" y="90" width="4" height="4" fill="#161616"/><rect x="104" y="90" width="4" height="4" fill="#1b1b1b"/><rect x="107" y="90" width="4" height="4" fill="#212121"/><rect x="110" y="90" width="4" height="4" fill="#282828"/><rect x="113" y="90" width="4" height="4" fill="#303030"/><rect x="116" y="90" width="4" height="4" fill="#3a3a3a"/><rect x="119" y="90" width="4" height="4" fill="#454545"/><rect x="122" y="90" width="4" height="4" fill="#505050"/><rect x="125" y="90" width="4" height="4" fill="#5b5b5b"/><rect x="128" y="90" width="4" height="4" fill="#646464"/><rect x="131" y="90" width="4" height="4" fill="#6a6a6a"/><rect x="134" y="90" width="7" height="4" fill="#6d6d6d"/><rect x="140" y="90" width="4" height="4" fill="#6a6a6a"/><rect x="143" y="90" width="4" height="4" fill="#656565"/><rect x="146" y="90" width="4" height="4" fill="#5e5e5e"/><rect x="149" y="90" width="4" height="4" fill="#575757"/><rect x="152" y="90" width="4" height="4" fill="#4f4f4f"/><rect x="155" y="90" width="4" height="4" fill="#474747"/><rect x="158" y="90" width="4" height="4" fill="#3f3f3f"/><rect x="161" y="90" width="4" height="4" fill="#383838"/><rect x="164" y="90" width="4" height="4" fill="#313131"/><rect x="167" y="90" width="4" height="4" fill="#2a2a2a"/><rect x="170" y="90" width="4" height="4" fill="#252525"/><rect x="173" y="90" width="4" height="4" fill="#1f1f1f"/><rect x="176" y="90" width="4" height="4" fill="#1b1b1b"/><rect x="179" y="90" width="4" height="4" fill="#171717"/><rect x="182" y="90" width="4" height="4" fill="#141414"/><rect x="185" y="90" width="4" height="4" fill="#111111"/><rect x="188" y="90" width="4" height="4" fill="#0f0f0f"/><rect x="191" y="90" width="4" height="4" fill="#0d0d0d"/><rect x="194" y="90" width="4" height="4" fill="#0c0c0c"/><rect x="197" y="90" width="4" height="4" fill="#0a0a0a"/><rect x="200" y="90" width="4" height="4" fill="#090909"/><rect x="203" y="90" width="7" height="4" fill="#080808"/><rect x="209" y="90" width="7" height="4" fill="#070707"/><rect x="215" y="90" width="13" height="4" fill="#060606"/><rect x="50" y="93" width="10" height="4" fill="#050505"/><rect x="59" y="93" width="16" height="4" fill="#060606"/><rect x="74" y="93" width="7" height="4" fill="#070707"/><rect x="80" y="93" width="4" height="4" fill="#080808"/><rect x="83" y="93" width="4" height="4" fill="#090909"/><rect x="86" y="93" width="4" height="4" fill="#0a0a0a"/><rect x="89" y="93" width="4" height="4" fill="#0b0b0b"/><rect x="92" y="93" width="4" height="4" fill="#0d0d0d"/><rect x="95" y="93" width="4" height="4" fill="#0f0f0f"/><rect x="98" y="93" width="4" height="4" fill="#111111"/><rect x="101" y="93" width="4" height="4" fill="#141414"/><rect x="104" y="93" width="4" height="4" fill="#171717"/><rect x="107" y="93" width="4" height="4" fill="#1c1c1c"/><rect x="110" y="93" width="4" height="4" fill="#212121"/><rect x="113" y="93" width="4" height="4" fill="#272727"/><rect x="116" y="93" width="4" height="4" fill="#2e2e2e"/><rect x="119" y="93" width="4" height="4" fill="#363636"/><rect x="122" y="93" width="4" height="4" fill="#3d3d3d"/><rect x="125" y="93" width="4" height="4" fill="#454545"/><rect x="128" y="93" width="4" height="4" fill="#4b4b4b"/><rect x="131" y="93" width="4" height="4" fill="#505050"/><rect x="134" y="93" width="4" height="4" fill="#535353"/><rect x="137" y="93" width="4" height="4" fill="#545454"/><rect x="140" y="93" width="4" height="4" fill="#535353"/><rect x="143" y="93" width="4" height="4" fill="#505050"/><rect x="146" y="93" width="4" height="4" fill="#4c4c4c"/><rect x="149" y="93" width="4" height="4" fill="#474747"/><rect x="152" y="93" width="4" height="4" fill="#414141"/><rect x="155" y="93" width="4" height="4" fill="#3b3b3b"/><rect x="158" y="93" width="4" height="4" fill="#353535"/><rect x="161" y="93" width="4" height="4" fill="#303030"/><rect x="164" y="93" width="4" height="4" fill="#2a2a2a"/><rect x="167" y="93" width="4" height="4" fill="#252525"/><rect x="170" y="93" width="4" height="4" fill="#202020"/><rect x="173" y="93" width="4" height="4" fill="#1c1c1c"/><rect x="176" y="93" width="4" height="4" fill="#181818"/><rect x="179" y="93" width="4" height="4" fill="#151515"/><rect x="182" y="93" width="4" height="4" fill="#121212"/><rect x="185" y="93" width="4" height="4" fill="#101010"/><rect x="188" y="93" width="4" height="4" fill="#0e0e0e"/><rect x="191" y="93" width="4" height="4" fill="#0c0c0c"/><rect x="194" y="93" width="4" height="4" fill="#0b0b0b"/><rect x="197" y="93" width="4" height="4" fill="#0a0a0a"/><rect x="200" y="93" width="4" height="4" fill="#090909"/><rect x="203" y="93" width="4" height="4" fill="#080808"/><rect x="206" y="93" width="7" height="4" fill="#070707"/><rect x="212" y="93" width="16" height="4" fill="#060606"/><rect x="50" y="96" width="13" height="4" fill="#050505"/><rect x="62" y="96" width="13" height="4" fill="#060606"/><rect x="74" y="96" width="7" height="4" fill="#070707"/><rect x="80" y="96" width="7" height="4" fill="#080808"/><rect x="86" y="96" width="4" height="4" fill="#090909"/><rect x="89" y="96" width="4" height="4" fill="#0a0a0a"/><rect x="92" y="96" width="4" height="4" fill="#0c0c0c"/><rect x="95" y="96" width="4" height="4" fill="#0d0d0d"/><rect x="98" y="96" width="4" height="4" fill="#0f0f0f"/><rect x="101" y="96" width="4" height="4" fill="#111111"/><rect x="104" y="96" width="4" height="4" fill="#141414"/><rect x="107" y="96" width="4" height="4" fill="#171717"/><rect x="110" y="96" width="4" height="4" fill="#1b1b1b"/><rect x="113" y="96" width="4" height="4" fill="#202020"/><rect x="116" y="96" width="4" height="4" fill="#252525"/><rect x="119" y="96" width="4" height="4" fill="#2a2a2a"/><rect x="122" y="96" width="4" height="4" fill="#303030"/><rect x="125" y="96" width="4" height="4" fill="#353535"/><rect x="128" y="96" width="4" height="4" fill="#3a3a3a"/><rect x="131" y="96" width="4" height="4" fill="#3d3d3d"/><rect x="134" y="96" width="4" height="4" fill="#404040"/><rect x="137" y="96" width="7" height="4" fill="#414141"/><rect x="143" y="96" width="4" height="4" fill="#3f3f3f"/><rect x="146" y="96" width="4" height="4" fill="#3d3d3d"/><rect x="149" y="96" width="4" height="4" fill="#3a3a3a"/><rect x="152" y="96" width="4" height="4" fill="#363636"/><rect x="155" y="96" width="4" height="4" fill="#313131"/><rect x="158" y="96" width="4" height="4" fill="#2d2d2d"/><rect x="161" y="96" width="4" height="4" fill="#282828"/><rect x="164" y="96" width="4" height="4" fill="#242424"/><rect x="167" y="96" width="4" height="4" fill="#1f1f1f"/><rect x="170" y="96" width="4" height="4" fill="#1c1c1c"/><rect x="173" y="96" width="4" height="4" fill="#181818"/><rect x="176" y="96" width="4" height="4" fill="#151515"/><rect x="179" y="96" width="4" height="4" fill="#131313"/><rect x="182" y="96" width="4" height="4" fill="#101010"/><rect x="185" y="96" width="4" height="4" fill="#0e0e0e"/><rect x="188" y="96" width="4" height="4" fill="#0d0d0d"/><rect x="191" y="96" width="4" height="4" fill="#0b0b0b"/><rect x="194" y="96" width="4" height="4" fill="#0a0a0a"/><rect x="197" y="96" width="4" height="4" fill="#090909"/><rect x="200" y="96" width="7" height="4" fill="#080808"/><rect x="206" y="96" width="7" height="4" fill="#070707"/><rect x="212" y="96" width="13" height="4" fill="#060606"/><rect x="224" y="96" width="4" height="4" fill="#050505"/><rect x="50" y="99" width="13" height="4" fill="#050505"/><rect x="62" y="99" width="16" height="4" fill="#060606"/><rect x="77" y="99" width="7" height="4" fill="#070707"/><rect x="83" y="99" width="4" height="4" fill="#080808"/><rect x="86" y="99" width="4" height="4" fill="#090909"/><rect x="89" y="99" width="4" height="4" fill="#0a0a0a"/><rect x="92" y="99" width="4" height="4" fill="#0b0b0b"/><rect x="95" y="99" width="4" height="4" fill="#0c0c0c"/><rect x="98" y="99" width="4" height="4" fill="#0d0d0d"/><rect x="101" y="99" width="4" height="4" fill="#0f0f0f"/><rect x="104" y="99" width="4" height="4" fill="#111111"/><rect x="107" y="99" width="4" height="4" fill="#141414"/><rect x="110" y="99" width="4" height="4" fill="#171717"/><rect x="113" y="99" width="4" height="4" fill="#1a1a1a"/><rect x="116" y="99" width="4" height="4" fill="#1e1e1e"/><rect x="119" y="99" width="4" height="4" fill="#222222"/><rect x="122" y="99" width="4" height="4" fill="#262626"/><rect x="125" y="99" width="4" height="4" fill="#292929"/><rect x="128" y="99" width="4" height="4" fill="#2d2d2d"/><rect x="131" y="99" width="4" height="4" fill="#303030"/><rect x="134" y="99" width="4" height="4" fill="#323232"/><rect x="137" y="99" width="7" height="4" fill="#333333"/><rect x="143" y="99" width="4" height="4" fill="#323232"/><rect x="146" y="99" width="4" height="4" fill="#313131"/><rect x="149" y="99" width="4" height="4" fill="#2e2e2e"/><rect x="152" y="99" width="4" height="4" fill="#2c2c2c"/><rect x="155" y="99" width="4" height="4" fill="#282828"/><rect x="158" y="99" width="4" height="4" fill="#252525"/><rect x="161" y="99" width="4" height="4" fill="#212121"/><rect x="164" y="99" width="4" height="4" fill="#1e1e1e"/><rect x="167" y="99" width="4" height="4" fill="#1b1b1b"/><rect x="170" y="99" width="4" height="4" fill="#181818"/><rect x="173" y="99" width="4" height="4" fill="#151515"/><rect x="176" y="99" width="4" height="4" fill="#131313"/><rect x="179" y="99" width="4" height="4" fill="#101010"/><rect x="182" y="99" width="4" height="4" fill="#0f0f0f"/><rect x="185" y="99" width="4" height="4" fill="#0d0d0d"/><rect x="188" y="99" width="4" height="4" fill="#0c0c0c"/><rect x="191" y="99" width="4" height="4" fill="#0a0a0a"/><rect x="194" y="99" width="7" height="4" fill="#090909"/><rect x="200" y="99" width="4" height="4" fill="#080808"/><rect x="203" y="99" width="7" height="4" fill="#070707"/><rect x="209" y="99" width="16" height="4" fill="#060606"/><rect x="224" y="99" width="4" height="4" fill="#050505"/><rect x="50" y="102" width="16" height="4" fill="#050505"/><rect x="65" y="102" width="13" height="4" fill="#060606"/><rect x="77" y="102" width="7" height="4" fill="#070707"/><rect x="83" y="102" width="7" height="4" fill="#080808"/><rect x="89" y="102" width="4" height="4" fill="#090909"/><rect x="92" y="102" width="4" height="4" fill="#0a0a0a"/><rect x="95" y="102" width="4" height="4" fill="#0b0b0b"/><rect x="98" y="102" width="4" height="4" fill="#0c0c0c"/><rect x="101" y="102" width="4" height="4" fill="#0e0e0e"/><rect x="104" y="102" width="4" height="4" fill="#0f0f0f"/><rect x="107" y="102" width="4" height="4" fill="#111111"/><rect x="110" y="102" width="4" height="4" fill="#131313"/><rect x="113" y="102" width="4" height="4" fill="#161616"/><rect x="116" y="102" width="4" height="4" fill="#191919"/><rect x="119" y="102" width="4" height="4" fill="#1b1b1b"/><rect x="122" y="102" width="4" height="4" fill="#1e1e1e"/><rect x="125" y="102" width="4" height="4" fill="#212121"/><rect x="128" y="102" width="4" height="4" fill="#232323"/><rect x="131" y="102" width="4" height="4" fill="#262626"/><rect x="134" y="102" width="4" height="4" fill="#272727"/><rect x="137" y="102" width="10" height="4" fill="#282828"/><rect x="146" y="102" width="4" height="4" fill="#272727"/><rect x="149" y="102" width="4" height="4" fill="#252525"/><rect x="152" y="102" width="4" height="4" fill="#232323"/><rect x="155" y="102" width="4" height="4" fill="#212121"/><rect x="158" y="102" width="4" height="4" fill="#1e1e1e"/><rect x="161" y="102" width="4" height="4" fill="#1c1c1c"/><rect x="164" y="102" width="4" height="4" fill="#191919"/><rect x="167" y="102" width="4" height="4" fill="#171717"/><rect x="170" y="102" width="4" height="4" fill="#141414"/><rect x="173" y="102" width="4" height="4" fill="#121212"/><rect x="176" y="102" width="4" height="4" fill="#101010"/><rect x="179" y="102" width="4" height="4" fill="#0f0f0f"/><rect x="182" y="102" width="4" height="4" fill="#0d0d0d"/><rect x="185" y="102" width="4" height="4" fill="#0c0c0c"/><rect x="188" y="102" width="4" height="4" fill="#0b0b0b"/><rect x="191" y="102" width="4" height="4" fill="#0a0a0a"/><rect x="194" y="102" width="4" height="4" fill="#090909"/><rect x="197" y="102" width="4" height="4" fill="#080808"/><rect x="200" y="102" width="10" height="4" fill="#070707"/><rect x="209" y="102" width="13" height="4" fill="#060606"/><rect x="221" y="102" width="7" height="4" fill="#050505"/><rect x="50" y="105" width="16" height="4" fill="#050505"/><rect x="65" y="105" width="16" height="4" fill="#060606"/><rect x="80" y="105" width="7" height="4" fill="#070707"/><rect x="86" y="105" width="7" height="4" fill="#080808"/><rect x="92" y="105" width="4" height="4" fill="#090909"/><rect x="95" y="105" width="4" height="4" fill="#0a0a0a"/><rect x="98" y="105" width="4" height="4" fill="#0b0b0b"/><rect x="101" y="105" width="4" height="4" fill="#0c0c0c"/><rect x="104" y="105" width="4" height="4" fill="#0d0d0d"/><rect x="107" y="105" width="4" height="4" fill="#0f0f0f"/><rect x="110" y="105" width="4" height="4" fill="#101010"/><rect x="113" y="105" width="4" height="4" fill="#121212"/><rect x="116" y="105" width="4" height="4" fill="#141414"/><rect x="119" y="105" width="4" height="4" fill="#161616"/><rect x="122" y="105" width="4" height="4" fill="#181818"/><rect x="125" y="105" width="4" height="4" fill="#1a1a1a"/><rect x="128" y="105" width="4" height="4" fill="#1c1c1c"/><rect x="131" y="105" width="4" height="4" fill="#1e1e1e"/><rect x="134" y="105" width="4" height="4" fill="#1f1f1f"/><rect x="137" y="105" width="10" height="4" fill="#202020"/><rect x="146" y="105" width="4" height="4" fill="#1f1f1f"/><rect x="149" y="105" width="4" height="4" fill="#1e1e1e"/><rect x="152" y="105" width="4" height="4" fill="#1d1d1d"/><rect x="155" y="105" width="4" height="4" fill="#1b1b1b"/><rect x="158" y="105" width="4" height="4" fill="#191919"/><rect x="161" y="105" width="4" height="4" fill="#171717"/><rect x="164" y="105" width="4" height="4" fill="#151515"/><rect x="167" y="105" width="4" height="4" fill="#131313"/><rect x="170" y="105" width="4" height="4" fill="#111111"/><rect x="173" y="105" width="4" height="4" fill="#101010"/><rect x="176" y="105" width="4" height="4" fill="#0e0e0e"/><rect x="179" y="105" width="4" height="4" fill="#0d0d0d"/><rect x="182" y="105" width="4" height="4" fill="#0c0c0c"/><rect x="185" y="105" width="4" height="4" fill="#0b0b0b"/><rect x="188" y="105" width="4" height="4" fill="#0a0a0a"/><rect x="191" y="105" width="4" height="4" fill="#090909"/><rect x="194" y="105" width="7" height="4" fill="#080808"/><rect x="200" y="105" width="7" height="4" fill="#070707"/><rect x="206" y="105" width="16" height="4" fill="#060606"/><rect x="221" y="105" width="7" height="4" fill="#050505"/><rect x="50" y="108" width="19" height="4" fill="#050505"/><rect x="68" y="108" width="16" height="4" fill="#060606"/><rect x="83" y="108" width="7" height="4" fill="#070707"/><rect x="89" y="108" width="7" height="4" fill="#080808"/><rect x="95" y="108" width="4" height="4" fill="#090909"/><rect x="98" y="108" width="4" height="4" fill="#0a0a0a"/><rect x="101" y="108" width="4" height="4" fill="#0b0b0b"/><rect x="104" y="108" width="4" height="4" fill="#0c0c0c"/><rect x="107" y="108" width="4" height="4" fill="#0d0d0d"/><rect x="110" y="108" width="4" height="4" fill="#0e0e0e"/><rect x="113" y="108" width="4" height="4" fill="#0f0f0f"/><rect x="116" y="108" width="4" height="4" fill="#111111"/><rect x="119" y="108" width="4" height="4" fill="#121212"/><rect x="122" y="108" width="4" height="4" fill="#141414"/><rect x="125" y="108" width="4" height="4" fill="#151515"/><rect x="128" y="108" width="4" height="4" fill="#171717"/><rect x="131" y="108" width="4" height="4" fill="#181818"/><rect x="134" y="108" width="7" height="4" fill="#191919"/><rect x="140" y="108" width="4" height="4" fill="#1a1a1a"/><rect x="143" y="108" width="7" height="4" fill="#191919"/><rect x="149" y="108" width="4" height="4" fill="#181818"/><rect x="152" y="108" width="4" height="4" fill="#171717"/><rect x="155" y="108" width="4" height="4" fill="#161616"/><rect x="158" y="108" width="4" height="4" fill="#151515"/><rect x="161" y="108" width="4" height="4" fill="#131313"/><rect x="164" y="108" width="4" height="4" fill="#121212"/><rect x="167" y="108" width="4" height="4" fill="#101010"/><rect x="170" y="108" width="4" height="4" fill="#0f0f0f"/><rect x="173" y="108" width="4" height="4" fill="#0e0e0e"/><rect x="176" y="108" width="4" height="4" fill="#0c0c0c"/><rect x="179" y="108" width="4" height="4" fill="#0b0b0b"/><rect x="182" y="108" width="7" height="4" fill="#0a0a0a"/><rect x="188" y="108" width="4" height="4" fill="#090909"/><rect x="191" y="108" width="7" height="4" fill="#080808"/><rect x="197" y="108" width="7" height="4" fill="#070707"/><rect x="203" y="108" width="16" height="4" fill="#060606"/><rect x="218" y="108" width="10" height="4" fill="#050505"/><rect x="50" y="111" width="22" height="4" fill="#050505"/><rect x="71" y="111" width="16" height="4" fill="#060606"/><rect x="86" y="111" width="7" height="4" fill="#070707"/><rect x="92" y="111" width="7" height="4" fill="#080808"/><rect x="98" y="111" width="7" height="4" fill="#090909"/><rect x="104" y="111" width="4" height="4" fill="#0a0a0a"/><rect x="107" y="111" width="4" height="4" fill="#0b0b0b"/><rect x="110" y="111" width="4" height="4" fill="#0c0c0c"/><rect x="113" y="111" width="4" height="4" fill="#0d0d0d"/><rect x="116" y="111" width="4" height="4" fill="#0e0e0e"/><rect x="119" y="111" width="4" height="4" fill="#0f0f0f"/><rect x="122" y="111" width="4" height="4" fill="#101010"/><rect x="125" y="111" width="4" height="4" fill="#121212"/><rect x="128" y="111" width="7" height="4" fill="#131313"/><rect x="134" y="111" width="7" height="4" fill="#141414"/><rect x="140" y="111" width="4" height="4" fill="#151515"/><rect x="143" y="111" width="10" height="4" fill="#141414"/><rect x="152" y="111" width="4" height="4" fill="#131313"/><rect x="155" y="111" width="4" height="4" fill="#121212"/><rect x="158" y="111" width="4" height="4" fill="#111111"/><rect x="161" y="111" width="4" height="4" fill="#101010"/><rect x="164" y="111" width="4" height="4" fill="#0f0f0f"/><rect x="167" y="111" width="4" height="4" fill="#0e0e0e"/><rect x="170" y="111" width="4" height="4" fill="#0d0d0d"/><rect x="173" y="111" width="4" height="4" fill="#0c0c0c"/><rect x="176" y="111" width="4" height="4" fill="#0b0b0b"/><rect x="179" y="111" width="4" height="4" fill="#0a0a0a"/><rect x="182" y="111" width="7" height="4" fill="#090909"/><rect x="188" y="111" width="7" height="4" fill="#080808"/><rect x="194" y="111" width="7" height="4" fill="#070707"/><rect x="200" y="111" width="16" height="4" fill="#060606"/><rect x="215" y="111" width="13" height="4" fill="#050505"/><rect x="50" y="114" width="25" height="4" fill="#050505"/><rect x="74" y="114" width="16" height="4" fill="#060606"/><rect x="89" y="114" width="7" height="4" fill="#070707"/><rect x="95" y="114" width="7" height="4" fill="#080808"/><rect x="101" y="114" width="7" height="4" fill="#090909"/><rect x="107" y="114" width="4" height="4" fill="#0a0a0a"/><rect x="110" y="114" width="7" height="4" fill="#0b0b0b"/><rect x="116" y="114" width="4" height="4" fill="#0c0c0c"/><rect x="119" y="114" width="4" height="4" fill="#0d0d0d"/><rect x="122" y="114" width="4" height="4" fill="#0e0e0e"/><rect x="125" y="114" width="7" height="4" fill="#0f0f0f"/><rect x="131" y="114" width="7" height="4" fill="#101010"/><rect x="137" y="114" width="10" height="4" fill="#111111"/><rect x="146" y="114" width="10" height="4" fill="#101010"/><rect x="155" y="114" width="4" height="4" fill="#0f0f0f"/><rect x="158" y="114" width="4" height="4" fill="#0e0e0e"/><rect x="161" y="114" width="7" height="4" fill="#0d0d0d"/><rect x="167" y="114" width="4" height="4" fill="#0c0c0c"/><rect x="170" y="114" width="4" height="4" fill="#0b0b0b"/><rect x="173" y="114" width="7" height="4" fill="#0a0a0a"/><rect x="179" y="114" width="4" height="4" fill="#090909"/><rect x="182" y="114" width="7" height="4" fill="#080808"/><rect x="188" y="114" width="10" height="4" fill="#070707"/><rect x="197" y="114" width="16" height="4" fill="#060606"/><rect x="212" y="114" width="16" height="4" fill="#050505"/><rect x="50" y="117" width="25" height="4" fill="#050505"/><rect x="74" y="117" width="19" height="4" fill="#060606"/><rect x="92" y="117" width="10" height="4" fill="#070707"/><rect x="101" y="117" width="7" height="4" fill="#080808"/><rect x="107" y="117" width="7" height="4" fill="#090909"/><rect x="113" y="117" width="7" height="4" fill="#0a0a0a"/><rect x="119" y="117" width="4" height="4" fill="#0b0b0b"/><rect x="122" y="117" width="7" height="4" fill="#0c0c0c"/><rect x="128" y="117" width="10" height="4" fill="#0d0d0d"/><rect x="137" y="117" width="13" height="4" fill="#0e0e0e"/><rect x="149" y="117" width="10" height="4" fill="#0d0d0d"/><rect x="158" y="117" width="4" height="4" fill="#0c0c0c"/><rect x="161" y="117" width="7" height="4" fill="#0b0b0b"/><rect x="167" y="117" width="7" height="4" fill="#0a0a0a"/><rect x="173" y="117" width="7" height="4" fill="#090909"/><rect x="179" y="117" width="7" height="4" fill="#080808"/><rect x="185" y="117" width="10" height="4" fill="#070707"/><rect x="194" y="117" width="19" height="4" fill="#060606"/><rect x="212" y="117" width="16" height="4" fill="#050505"/><rect x="50" y="120" width="28" height="4" fill="#050505"/><rect x="77" y="120" width="19" height="4" fill="#060606"/><rect x="95" y="120" width="10" height="4" fill="#070707"/><rect x="104" y="120" width="10" height="4" fill="#080808"/><rect x="113" y="120" width="7" height="4" fill="#090909"/><rect x="119" y="120" width="10" height="4" fill="#0a0a0a"/><rect x="128" y="120" width="13" height="4" fill="#0b0b0b"/><rect x="140" y="120" width="7" height="4" fill="#0c0c0c"/><rect x="146" y="120" width="13" height="4" fill="#0b0b0b"/><rect x="158" y="120" width="7" height="4" fill="#0a0a0a"/><rect x="164" y="120" width="10" height="4" fill="#090909"/><rect x="173" y="120" width="7" height="4" fill="#080808"/><rect x="179" y="120" width="13" height="4" fill="#070707"/><rect x="191" y="120" width="19" height="4" fill="#060606"/><rect x="209" y="120" width="19" height="4" fill="#050505"/><rect x="50" y="123" width="34" height="4" fill="#050505"/><rect x="83" y="123" width="19" height="4" fill="#060606"/><rect x="101" y="123" width="10" height="4" fill="#070707"/><rect x="110" y="123" width="13" height="4" fill="#080808"/><rect x="122" y="123" width="10" height="4" fill="#090909"/><rect x="131" y="123" width="22" height="4" fill="#0a0a0a"/><rect x="152" y="123" width="13" height="4" fill="#090909"/><rect x="164" y="123" width="10" height="4" fill="#080808"/><rect x="173" y="123" width="13" height="4" fill="#070707"/><rect x="185" y="123" width="19" height="4" fill="#060606"/><rect x="203" y="123" width="25" height="4" fill="#050505"/><rect x="50" y="126" width="37" height="4" fill="#050505"/><rect x="86" y="126" width="22" height="4" fill="#060606"/><rect x="107" y="126" width="13" height="4" fill="#070707"/><rect x="119" y="126" width="19" height="4" fill="#080808"/><rect x="137" y="126" width="13" height="4" fill="#090909"/><rect x="149" y="126" width="19" height="4" fill="#080808"/><rect x="167" y="126" width="13" height="4" fill="#070707"/><rect x="179" y="126" width="22" height="4" fill="#060606"/><rect x="200" y="126" width="28" height="4" fill="#050505"/><rect x="50" y="129" width="40" height="4" fill="#050505"/><rect x="89" y="129" width="25" height="4" fill="#060606"/><rect x="113" y="129" width="22" height="4" fill="#070707"/><rect x="134" y="129" width="19" height="4" fill="#080808"/><rect x="152" y="129" width="22" height="4" fill="#070707"/><rect x="173" y="129" width="25" height="4" fill="#060606"/><rect x="197" y="129" width="31" height="4" fill="#050505"/><rect x="50" y="132" width="46" height="4" fill="#050505"/><rect x="95" y="132" width="28" height="4" fill="#060606"/><rect x="122" y="132" width="43" height="4" fill="#070707"/><rect x="164" y="132" width="28" height="4" fill="#060606"/><rect x="191" y="132" width="37" height="4" fill="#050505"/></g></g><text x="63.6" y="31.6" class="bold">(i)</text><path d="M65.8 103 V119 H80" stroke="#fff" stroke-width="1.6" fill="none"/><path d="M65.8 99 l-3.3 5.2 h6.6z" fill="#fff"/><path d="M84 119 l-5.2 -3.3 v6.6z" fill="#fff"/><text x="62.6" y="95.5" class="w">z</text><text x="85.5" y="121.5" class="w">y</text><rect x="162.1" y="118.9" width="49.8" height="2" fill="#fff" fill-opacity="0.8"/><text x="187" y="115.7" class="w" text-anchor="middle" fill-opacity="0.92">1 cm</text><rect x="226" y="31" width="13.3" height="77.7" fill="url(#vg)" stroke="#111" stroke-width="0.7"/><text x="224.8" y="23.6" class="it">OD</text><text x="241.3" y="35.3" class="sm">1.25</text><text x="240.8" y="112.7" class="sm">0</text>
<clipPath id="c2"><rect x="296.2" y="193" width="163.5" height="112.3"/></clipPath><g clip-path="url(#c2)"><g filter="url(#vir)"><rect x="288.2" y="185" width="179.5" height="128.3" fill="#050505"/><rect x="290" y="187" width="46" height="4" fill="#050505"/><rect x="335" y="187" width="70" height="4" fill="#060606"/><rect x="404" y="187" width="64" height="4" fill="#050505"/><rect x="290" y="190" width="40" height="4" fill="#050505"/><rect x="329" y="190" width="31" height="4" fill="#060606"/><rect x="359" y="190" width="22" height="4" fill="#070707"/><rect x="380" y="190" width="34" height="4" fill="#060606"/><rect x="413" y="190" width="55" height="4" fill="#050505"/><rect x="290" y="193" width="34" height="4" fill="#050505"/><rect x="323" y="193" width="25" height="4" fill="#060606"/><rect x="347" y="193" width="49" height="4" fill="#070707"/><rect x="395" y="193" width="22" height="4" fill="#060606"/><rect x="416" y="193" width="52" height="4" fill="#050505"/><rect x="290" y="196" width="28" height="4" fill="#050505"/><rect x="317" y="196" width="22" height="4" fill="#060606"/><rect x="338" y="196" width="13" height="4" fill="#070707"/><rect x="350" y="196" width="40" height="4" fill="#080808"/><rect x="389" y="196" width="13" height="4" fill="#070707"/><rect x="401" y="196" width="22" height="4" fill="#060606"/><rect x="422" y="196" width="46" height="4" fill="#050505"/><rect x="290" y="199" width="25" height="4" fill="#050505"/><rect x="314" y="199" width="19" height="4" fill="#060606"/><rect x="332" y="199" width="10" height="4" fill="#070707"/><rect x="341" y="199" width="13" height="4" fill="#080808"/><rect x="353" y="199" width="37" height="4" fill="#090909"/><rect x="389" y="199" width="10" height="4" fill="#080808"/><rect x="398" y="199" width="10" height="4" fill="#070707"/><rect x="407" y="199" width="19" height="4" fill="#060606"/><rect x="425" y="199" width="43" height="4" fill="#050505"/><rect x="290" y="202" width="22" height="4" fill="#050505"/><rect x="311" y="202" width="16" height="4" fill="#060606"/><rect x="326" y="202" width="10" height="4" fill="#070707"/><rect x="335" y="202" width="10" height="4" fill="#080808"/><rect x="344" y="202" width="7" height="4" fill="#090909"/><rect x="350" y="202" width="10" height="4" fill="#0a0a0a"/><rect x="359" y="202" width="25" height="4" fill="#0b0b0b"/><rect x="383" y="202" width="7" height="4" fill="#0a0a0a"/><rect x="389" y="202" width="10" height="4" fill="#090909"/><rect x="398" y="202" width="7" height="4" fill="#080808"/><rect x="404" y="202" width="10" height="4" fill="#070707"/><rect x="413" y="202" width="16" height="4" fill="#060606"/><rect x="428" y="202" width="40" height="4" fill="#050505"/><rect x="290" y="205" width="19" height="4" fill="#050505"/><rect x="308" y="205" width="16" height="4" fill="#060606"/><rect x="323" y="205" width="7" height="4" fill="#070707"/><rect x="329" y="205" width="7" height="4" fill="#080808"/><rect x="335" y="205" width="7" height="4" fill="#090909"/><rect x="341" y="205" width="7" height="4" fill="#0a0a0a"/><rect x="347" y="205" width="7" height="4" fill="#0b0b0b"/><rect x="353" y="205" width="7" height="4" fill="#0c0c0c"/><rect x="359" y="205" width="22" height="4" fill="#0d0d0d"/><rect x="380" y="205" width="7" height="4" fill="#0c0c0c"/><rect x="386" y="205" width="7" height="4" fill="#0b0b0b"/><rect x="392" y="205" width="7" height="4" fill="#0a0a0a"/><rect x="398" y="205" width="7" height="4" fill="#090909"/><rect x="404" y="205" width="7" height="4" fill="#080808"/><rect x="410" y="205" width="10" height="4" fill="#070707"/><rect x="419" y="205" width="16" height="4" fill="#060606"/><rect x="434" y="205" width="34" height="4" fill="#050505"/><rect x="290" y="208" width="16" height="4" fill="#050505"/><rect x="305" y="208" width="16" height="4" fill="#060606"/><rect x="320" y="208" width="7" height="4" fill="#070707"/><rect x="326" y="208" width="7" height="4" fill="#080808"/><rect x="332" y="208" width="4" height="4" fill="#090909"/><rect x="335" y="208" width="7" height="4" fill="#0a0a0a"/><rect x="341" y="208" width="4" height="4" fill="#0b0b0b"/><rect x="344" y="208" width="4" height="4" fill="#0c0c0c"/><rect x="347" y="208" width="7" height="4" fill="#0d0d0d"/><rect x="353" y="208" width="4" height="4" fill="#0e0e0e"/><rect x="356" y="208" width="10" height="4" fill="#0f0f0f"/><rect x="365" y="208" width="13" height="4" fill="#101010"/><rect x="377" y="208" width="7" height="4" fill="#0f0f0f"/><rect x="383" y="208" width="7" height="4" fill="#0e0e0e"/><rect x="389" y="208" width="4" height="4" fill="#0d0d0d"/><rect x="392" y="208" width="4" height="4" fill="#0c0c0c"/><rect x="395" y="208" width="7" height="4" fill="#0b0b0b"/><rect x="401" y="208" width="4" height="4" fill="#0a0a0a"/><rect x="404" y="208" width="7" height="4" fill="#090909"/><rect x="410" y="208" width="4" height="4" fill="#080808"/><rect x="413" y="208" width="10" height="4" fill="#070707"/><rect x="422" y="208" width="13" height="4" fill="#060606"/><rect x="434" y="208" width="34" height="4" fill="#050505"/><rect x="290" y="211" width="13" height="4" fill="#050505"/><rect x="302" y="211" width="13" height="4" fill="#060606"/><rect x="314" y="211" width="10" height="4" fill="#070707"/><rect x="323" y="211" width="4" height="4" fill="#080808"/><rect x="326" y="211" width="7" height="4" fill="#090909"/><rect x="332" y="211" width="4" height="4" fill="#0a0a0a"/><rect x="335" y="211" width="4" height="4" fill="#0b0b0b"/><rect x="338" y="211" width="4" height="4" fill="#0c0c0c"/><rect x="341" y="211" width="4" height="4" fill="#0d0d0d"/><rect x="344" y="211" width="4" height="4" fill="#0e0e0e"/><rect x="347" y="211" width="4" height="4" fill="#0f0f0f"/><rect x="350" y="211" width="4" height="4" fill="#101010"/><rect x="353" y="211" width="7" height="4" fill="#111111"/><rect x="359" y="211" width="4" height="4" fill="#121212"/><rect x="362" y="211" width="16" height="4" fill="#131313"/><rect x="377" y="211" width="7" height="4" fill="#121212"/><rect x="383" y="211" width="4" height="4" fill="#111111"/><rect x="386" y="211" width="4" height="4" fill="#101010"/><rect x="389" y="211" width="4" height="4" fill="#0f0f0f"/><rect x="392" y="211" width="4" height="4" fill="#0e0e0e"/><rect x="395" y="211" width="4" height="4" fill="#0d0d0d"/><rect x="398" y="211" width="4" height="4" fill="#0c0c0c"/><rect x="401" y="211" width="4" height="4" fill="#0b0b0b"/><rect x="404" y="211" width="7" height="4" fill="#0a0a0a"/><rect x="410" y="211" width="4" height="4" fill="#090909"/><rect x="413" y="211" width="7" height="4" fill="#080808"/><rect x="419" y="211" width="7" height="4" fill="#070707"/><rect x="425" y="211" width="13" height="4" fill="#060606"/><rect x="437" y="211" width="31" height="4" fill="#050505"/><rect x="290" y="214" width="10" height="4" fill="#050505"/><rect x="299" y="214" width="13" height="4" fill="#060606"/><rect x="311" y="214" width="10" height="4" fill="#070707"/><rect x="320" y="214" width="4" height="4" fill="#080808"/><rect x="323" y="214" width="4" height="4" fill="#090909"/><rect x="326" y="214" width="7" height="4" fill="#0a0a0a"/><rect x="332" y="214" width="4" height="4" fill="#0b0b0b"/><rect x="335" y="214" width="4" height="4" fill="#0d0d0d"/><rect x="338" y="214" width="4" height="4" fill="#0e0e0e"/><rect x="341" y="214" width="4" height="4" fill="#0f0f0f"/><rect x="344" y="214" width="4" height="4" fill="#101010"/><rect x="347" y="214" width="4" height="4" fill="#121212"/><rect x="350" y="214" width="4" height="4" fill="#131313"/><rect x="353" y="214" width="4" height="4" fill="#141414"/><rect x="356" y="214" width="4" height="4" fill="#151515"/><rect x="359" y="214" width="7" height="4" fill="#161616"/><rect x="365" y="214" width="10" height="4" fill="#171717"/><rect x="374" y="214" width="7" height="4" fill="#161616"/><rect x="380" y="214" width="4" height="4" fill="#151515"/><rect x="383" y="214" width="4" height="4" fill="#141414"/><rect x="386" y="214" width="4" height="4" fill="#131313"/><rect x="389" y="214" width="4" height="4" fill="#121212"/><rect x="392" y="214" width="4" height="4" fill="#111111"/><rect x="395" y="214" width="4" height="4" fill="#0f0f0f"/><rect x="398" y="214" width="4" height="4" fill="#0e0e0e"/><rect x="401" y="214" width="4" height="4" fill="#0d0d0d"/><rect x="404" y="214" width="4" height="4" fill="#0c0c0c"/><rect x="407" y="214" width="4" height="4" fill="#0b0b0b"/><rect x="410" y="214" width="4" height="4" fill="#0a0a0a"/><rect x="413" y="214" width="4" height="4" fill="#090909"/><rect x="416" y="214" width="7" height="4" fill="#080808"/><rect x="422" y="214" width="7" height="4" fill="#070707"/><rect x="428" y="214" width="13" height="4" fill="#060606"/><rect x="440" y="214" width="28" height="4" fill="#050505"/><rect x="290" y="217" width="10" height="4" fill="#050505"/><rect x="299" y="217" width="13" height="4" fill="#060606"/><rect x="311" y="217" width="7" height="4" fill="#070707"/><rect x="317" y="217" width="4" height="4" fill="#080808"/><rect x="320" y="217" width="4" height="4" fill="#090909"/><rect x="323" y="217" width="4" height="4" fill="#0a0a0a"/><rect x="326" y="217" width="4" height="4" fill="#0b0b0b"/><rect x="329" y="217" width="4" height="4" fill="#0c0c0c"/><rect x="332" y="217" width="4" height="4" fill="#0d0d0d"/><rect x="335" y="217" width="4" height="4" fill="#0f0f0f"/><rect x="338" y="217" width="4" height="4" fill="#101010"/><rect x="341" y="217" width="4" height="4" fill="#121212"/><rect x="344" y="217" width="4" height="4" fill="#131313"/><rect x="347" y="217" width="4" height="4" fill="#151515"/><rect x="350" y="217" width="4" height="4" fill="#161616"/><rect x="353" y="217" width="4" height="4" fill="#181818"/><rect x="356" y="217" width="4" height="4" fill="#191919"/><rect x="359" y="217" width="4" height="4" fill="#1a1a1a"/><rect x="362" y="217" width="7" height="4" fill="#1b1b1b"/><rect x="368" y="217" width="4" height="4" fill="#1c1c1c"/><rect x="371" y="217" width="7" height="4" fill="#1b1b1b"/><rect x="377" y="217" width="4" height="4" fill="#1a1a1a"/><rect x="380" y="217" width="4" height="4" fill="#191919"/><rect x="383" y="217" width="4" height="4" fill="#181818"/><rect x="386" y="217" width="4" height="4" fill="#171717"/><rect x="389" y="217" width="4" height="4" fill="#151515"/><rect x="392" y="217" width="4" height="4" fill="#141414"/><rect x="395" y="217" width="4" height="4" fill="#121212"/><rect x="398" y="217" width="4" height="4" fill="#111111"/><rect x="401" y="217" width="4" height="4" fill="#0f0f0f"/><rect x="404" y="217" width="4" height="4" fill="#0e0e0e"/><rect x="407" y="217" width="4" height="4" fill="#0c0c0c"/><rect x="410" y="217" width="4" height="4" fill="#0b0b0b"/><rect x="413" y="217" width="4" height="4" fill="#0a0a0a"/><rect x="416" y="217" width="4" height="4" fill="#090909"/><rect x="419" y="217" width="7" height="4" fill="#080808"/><rect x="425" y="217" width="7" height="4" fill="#070707"/><rect x="431" y="217" width="13" height="4" fill="#060606"/><rect x="443" y="217" width="25" height="4" fill="#050505"/><rect x="290" y="220" width="7" height="4" fill="#050505"/><rect x="296" y="220" width="13" height="4" fill="#060606"/><rect x="308" y="220" width="7" height="4" fill="#070707"/><rect x="314" y="220" width="4" height="4" fill="#080808"/><rect x="317" y="220" width="4" height="4" fill="#090909"/><rect x="320" y="220" width="4" height="4" fill="#0a0a0a"/><rect x="323" y="220" width="4" height="4" fill="#0b0b0b"/><rect x="326" y="220" width="4" height="4" fill="#0c0c0c"/><rect x="329" y="220" width="4" height="4" fill="#0d0d0d"/><rect x="332" y="220" width="4" height="4" fill="#0f0f0f"/><rect x="335" y="220" width="4" height="4" fill="#111111"/><rect x="338" y="220" width="4" height="4" fill="#131313"/><rect x="341" y="220" width="4" height="4" fill="#151515"/><rect x="344" y="220" width="4" height="4" fill="#171717"/><rect x="347" y="220" width="4" height="4" fill="#191919"/><rect x="350" y="220" width="4" height="4" fill="#1a1a1a"/><rect x="353" y="220" width="4" height="4" fill="#1c1c1c"/><rect x="356" y="220" width="4" height="4" fill="#1e1e1e"/><rect x="359" y="220" width="4" height="4" fill="#1f1f1f"/><rect x="362" y="220" width="4" height="4" fill="#202020"/><rect x="365" y="220" width="10" height="4" fill="#212121"/><rect x="374" y="220" width="4" height="4" fill="#202020"/><rect x="377" y="220" width="4" height="4" fill="#1f1f1f"/><rect x="380" y="220" width="4" height="4" fill="#1e1e1e"/><rect x="383" y="220" width="4" height="4" fill="#1d1d1d"/><rect x="386" y="220" width="4" height="4" fill="#1b1b1b"/><rect x="389" y="220" width="4" height="4" fill="#191919"/><rect x="392" y="220" width="4" height="4" fill="#171717"/><rect x="395" y="220" width="4" height="4" fill="#151515"/><rect x="398" y="220" width="4" height="4" fill="#131313"/><rect x="401" y="220" width="4" height="4" fill="#111111"/><rect x="404" y="220" width="4" height="4" fill="#101010"/><rect x="407" y="220" width="4" height="4" fill="#0e0e0e"/><rect x="410" y="220" width="4" height="4" fill="#0c0c0c"/><rect x="413" y="220" width="4" height="4" fill="#0b0b0b"/><rect x="416" y="220" width="4" height="4" fill="#0a0a0a"/><rect x="419" y="220" width="4" height="4" fill="#090909"/><rect x="422" y="220" width="4" height="4" fill="#080808"/><rect x="425" y="220" width="7" height="4" fill="#070707"/><rect x="431" y="220" width="13" height="4" fill="#060606"/><rect x="443" y="220" width="25" height="4" fill="#050505"/><rect x="290" y="223" width="4" height="4" fill="#050505"/><rect x="293" y="223" width="13" height="4" fill="#060606"/><rect x="305" y="223" width="7" height="4" fill="#070707"/><rect x="311" y="223" width="4" height="4" fill="#080808"/><rect x="314" y="223" width="7" height="4" fill="#090909"/><rect x="320" y="223" width="4" height="4" fill="#0b0b0b"/><rect x="323" y="223" width="4" height="4" fill="#0c0c0c"/><rect x="326" y="223" width="4" height="4" fill="#0e0e0e"/><rect x="329" y="223" width="4" height="4" fill="#0f0f0f"/><rect x="332" y="223" width="4" height="4" fill="#111111"/><rect x="335" y="223" width="4" height="4" fill="#131313"/><rect x="338" y="223" width="4" height="4" fill="#161616"/><rect x="341" y="223" width="4" height="4" fill="#181818"/><rect x="344" y="223" width="4" height="4" fill="#1a1a1a"/><rect x="347" y="223" width="4" height="4" fill="#1d1d1d"/><rect x="350" y="223" width="4" height="4" fill="#1f1f1f"/><rect x="353" y="223" width="4" height="4" fill="#212121"/><rect x="356" y="223" width="4" height="4" fill="#232323"/><rect x="359" y="223" width="4" height="4" fill="#252525"/><rect x="362" y="223" width="7" height="4" fill="#262626"/><rect x="368" y="223" width="7" height="4" fill="#272727"/><rect x="374" y="223" width="4" height="4" fill="#262626"/><rect x="377" y="223" width="4" height="4" fill="#252525"/><rect x="380" y="223" width="4" height="4" fill="#242424"/><rect x="383" y="223" width="4" height="4" fill="#222222"/><rect x="386" y="223" width="4" height="4" fill="#202020"/><rect x="389" y="223" width="4" height="4" fill="#1d1d1d"/><rect x="392" y="223" width="4" height="4" fill="#1b1b1b"/><rect x="395" y="223" width="4" height="4" fill="#191919"/><rect x="398" y="223" width="4" height="4" fill="#161616"/><rect x="401" y="223" width="4" height="4" fill="#141414"/><rect x="404" y="223" width="4" height="4" fill="#121212"/><rect x="407" y="223" width="4" height="4" fill="#101010"/><rect x="410" y="223" width="4" height="4" fill="#0e0e0e"/><rect x="413" y="223" width="4" height="4" fill="#0c0c0c"/><rect x="416" y="223" width="4" height="4" fill="#0b0b0b"/><rect x="419" y="223" width="4" height="4" fill="#0a0a0a"/><rect x="422" y="223" width="4" height="4" fill="#090909"/><rect x="425" y="223" width="4" height="4" fill="#080808"/><rect x="428" y="223" width="7" height="4" fill="#070707"/><rect x="434" y="223" width="13" height="4" fill="#060606"/><rect x="446" y="223" width="22" height="4" fill="#050505"/><rect x="290" y="226" width="4" height="4" fill="#050505"/><rect x="293" y="226" width="13" height="4" fill="#060606"/><rect x="305" y="226" width="4" height="4" fill="#070707"/><rect x="308" y="226" width="7" height="4" fill="#080808"/><rect x="314" y="226" width="4" height="4" fill="#090909"/><rect x="317" y="226" width="4" height="4" fill="#0a0a0a"/><rect x="320" y="226" width="4" height="4" fill="#0c0c0c"/><rect x="323" y="226" width="4" height="4" fill="#0d0d0d"/><rect x="326" y="226" width="4" height="4" fill="#0f0f0f"/><rect x="329" y="226" width="4" height="4" fill="#111111"/><rect x="332" y="226" width="4" height="4" fill="#141414"/><rect x="335" y="226" width="4" height="4" fill="#161616"/><rect x="338" y="226" width="4" height="4" fill="#191919"/><rect x="341" y="226" width="4" height="4" fill="#1c1c1c"/><rect x="344" y="226" width="4" height="4" fill="#1f1f1f"/><rect x="347" y="226" width="4" height="4" fill="#212121"/><rect x="350" y="226" width="4" height="4" fill="#242424"/><rect x="353" y="226" width="4" height="4" fill="#272727"/><rect x="356" y="226" width="4" height="4" fill="#292929"/><rect x="359" y="226" width="4" height="4" fill="#2b2b2b"/><rect x="362" y="226" width="4" height="4" fill="#2c2c2c"/><rect x="365" y="226" width="10" height="4" fill="#2d2d2d"/><rect x="374" y="226" width="4" height="4" fill="#2c2c2c"/><rect x="377" y="226" width="4" height="4" fill="#2b2b2b"/><rect x="380" y="226" width="4" height="4" fill="#2a2a2a"/><rect x="383" y="226" width="4" height="4" fill="#272727"/><rect x="386" y="226" width="4" height="4" fill="#252525"/><rect x="389" y="226" width="4" height="4" fill="#222222"/><rect x="392" y="226" width="4" height="4" fill="#1f1f1f"/><rect x="395" y="226" width="4" height="4" fill="#1d1d1d"/><rect x="398" y="226" width="4" height="4" fill="#1a1a1a"/><rect x="401" y="226" width="4" height="4" fill="#171717"/><rect x="404" y="226" width="4" height="4" fill="#141414"/><rect x="407" y="226" width="4" height="4" fill="#121212"/><rect x="410" y="226" width="4" height="4" fill="#101010"/><rect x="413" y="226" width="4" height="4" fill="#0e0e0e"/><rect x="416" y="226" width="4" height="4" fill="#0c0c0c"/><rect x="419" y="226" width="4" height="4" fill="#0b0b0b"/><rect x="422" y="226" width="4" height="4" fill="#0a0a0a"/><rect x="425" y="226" width="4" height="4" fill="#090909"/><rect x="428" y="226" width="4" height="4" fill="#080808"/><rect x="431" y="226" width="7" height="4" fill="#070707"/><rect x="437" y="226" width="10" height="4" fill="#060606"/><rect x="446" y="226" width="22" height="4" fill="#050505"/><rect x="290" y="229" width="13" height="4" fill="#060606"/><rect x="302" y="229" width="7" height="4" fill="#070707"/><rect x="308" y="229" width="4" height="4" fill="#080808"/><rect x="311" y="229" width="4" height="4" fill="#090909"/><rect x="314" y="229" width="4" height="4" fill="#0a0a0a"/><rect x="317" y="229" width="4" height="4" fill="#0b0b0b"/><rect x="320" y="229" width="4" height="4" fill="#0d0d0d"/><rect x="323" y="229" width="4" height="4" fill="#0f0f0f"/><rect x="326" y="229" width="4" height="4" fill="#111111"/><rect x="329" y="229" width="4" height="4" fill="#131313"/><rect x="332" y="229" width="4" height="4" fill="#161616"/><rect x="335" y="229" width="4" height="4" fill="#191919"/><rect x="338" y="229" width="4" height="4" fill="#1c1c1c"/><rect x="341" y="229" width="4" height="4" fill="#202020"/><rect x="344" y="229" width="4" height="4" fill="#232323"/><rect x="347" y="229" width="4" height="4" fill="#262626"/><rect x="350" y="229" width="4" height="4" fill="#2a2a2a"/><rect x="353" y="229" width="4" height="4" fill="#2c2c2c"/><rect x="356" y="229" width="4" height="4" fill="#2f2f2f"/><rect x="359" y="229" width="4" height="4" fill="#313131"/><rect x="362" y="229" width="4" height="4" fill="#333333"/><rect x="365" y="229" width="10" height="4" fill="#343434"/><rect x="374" y="229" width="4" height="4" fill="#333333"/><rect x="377" y="229" width="4" height="4" fill="#323232"/><rect x="380" y="229" width="4" height="4" fill="#303030"/><rect x="383" y="229" width="4" height="4" fill="#2d2d2d"/><rect x="386" y="229" width="4" height="4" fill="#2b2b2b"/><rect x="389" y="229" width="4" height="4" fill="#272727"/><rect x="392" y="229" width="4" height="4" fill="#242424"/><rect x="395" y="229" width="4" height="4" fill="#212121"/><rect x="398" y="229" width="4" height="4" fill="#1d1d1d"/><rect x="401" y="229" width="4" height="4" fill="#1a1a1a"/><rect x="404" y="229" width="4" height="4" fill="#171717"/><rect x="407" y="229" width="4" height="4" fill="#141414"/><rect x="410" y="229" width="4" height="4" fill="#121212"/><rect x="413" y="229" width="4" height="4" fill="#0f0f0f"/><rect x="416" y="229" width="4" height="4" fill="#0d0d0d"/><rect x="419" y="229" width="4" height="4" fill="#0c0c0c"/><rect x="422" y="229" width="4" height="4" fill="#0a0a0a"/><rect x="425" y="229" width="4" height="4" fill="#090909"/><rect x="428" y="229" width="4" height="4" fill="#080808"/><rect x="431" y="229" width="7" height="4" fill="#070707"/><rect x="437" y="229" width="13" height="4" fill="#060606"/><rect x="449" y="229" width="19" height="4" fill="#050505"/><rect x="290" y="232" width="13" height="4" fill="#060606"/><rect x="302" y="232" width="4" height="4" fill="#070707"/><rect x="305" y="232" width="7" height="4" fill="#080808"/><rect x="311" y="232" width="4" height="4" fill="#090909"/><rect x="314" y="232" width="4" height="4" fill="#0b0b0b"/><rect x="317" y="232" width="4" height="4" fill="#0c0c0c"/><rect x="320" y="232" width="4" height="4" fill="#0e0e0e"/><rect x="323" y="232" width="4" height="4" fill="#101010"/><rect x="326" y="232" width="4" height="4" fill="#131313"/><rect x="329" y="232" width="4" height="4" fill="#161616"/><rect x="332" y="232" width="4" height="4" fill="#191919"/><rect x="335" y="232" width="4" height="4" fill="#1c1c1c"/><rect x="338" y="232" width="4" height="4" fill="#202020"/><rect x="341" y="232" width="4" height="4" fill="#242424"/><rect x="344" y="232" width="4" height="4" fill="#282828"/><rect x="347" y="232" width="4" height="4" fill="#2b2b2b"/><rect x="350" y="232" width="4" height="4" fill="#2f2f2f"/><rect x="353" y="232" width="4" height="4" fill="#333333"/><rect x="356" y="232" width="4" height="4" fill="#363636"/><rect x="359" y="232" width="4" height="4" fill="#383838"/><rect x="362" y="232" width="4" height="4" fill="#3a3a3a"/><rect x="365" y="232" width="4" height="4" fill="#3b3b3b"/><rect x="368" y="232" width="7" height="4" fill="#3c3c3c"/><rect x="374" y="232" width="4" height="4" fill="#3b3b3b"/><rect x="377" y="232" width="4" height="4" fill="#393939"/><rect x="380" y="232" width="4" height="4" fill="#373737"/><rect x="383" y="232" width="4" height="4" fill="#343434"/><rect x="386" y="232" width="4" height="4" fill="#303030"/><rect x="389" y="232" width="4" height="4" fill="#2d2d2d"/><rect x="392" y="232" width="4" height="4" fill="#292929"/><rect x="395" y="232" width="4" height="4" fill="#252525"/><rect x="398" y="232" width="4" height="4" fill="#212121"/><rect x="401" y="232" width="4" height="4" fill="#1d1d1d"/><rect x="404" y="232" width="4" height="4" fill="#1a1a1a"/><rect x="407" y="232" width="4" height="4" fill="#171717"/><rect x="410" y="232" width="4" height="4" fill="#141414"/><rect x="413" y="232" width="4" height="4" fill="#111111"/><rect x="416" y="232" width="4" height="4" fill="#0f0f0f"/><rect x="419" y="232" width="4" height="4" fill="#0d0d0d"/><rect x="422" y="232" width="4" height="4" fill="#0b0b0b"/><rect x="425" y="232" width="4" height="4" fill="#0a0a0a"/><rect x="428" y="232" width="4" height="4" fill="#090909"/><rect x="431" y="232" width="4" height="4" fill="#080808"/><rect x="434" y="232" width="7" height="4" fill="#070707"/><rect x="440" y="232" width="10" height="4" fill="#060606"/><rect x="449" y="232" width="19" height="4" fill="#050505"/><rect x="290" y="235" width="10" height="4" fill="#060606"/><rect x="299" y="235" width="7" height="4" fill="#070707"/><rect x="305" y="235" width="4" height="4" fill="#080808"/><rect x="308" y="235" width="4" height="4" fill="#090909"/><rect x="311" y="235" width="4" height="4" fill="#0a0a0a"/><rect x="314" y="235" width="4" height="4" fill="#0b0b0b"/><rect x="317" y="235" width="4" height="4" fill="#0d0d0d"/><rect x="320" y="235" width="4" height="4" fill="#0f0f0f"/><rect x="323" y="235" width="4" height="4" fill="#121212"/><rect x="326" y="235" width="4" height="4" fill="#151515"/><rect x="329" y="235" width="4" height="4" fill="#181818"/><rect x="332" y="235" width="4" height="4" fill="#1b1b1b"/><rect x="335" y="235" width="4" height="4" fill="#1f1f1f"/><rect x="338" y="235" width="4" height="4" fill="#242424"/><rect x="341" y="235" width="4" height="4" fill="#282828"/><rect x="344" y="235" width="4" height="4" fill="#2c2c2c"/><rect x="347" y="235" width="4" height="4" fill="#313131"/><rect x="350" y="235" width="4" height="4" fill="#353535"/><rect x="353" y="235" width="4" height="4" fill="#393939"/><rect x="356" y="235" width="4" height="4" fill="#3c3c3c"/><rect x="359" y="235" width="4" height="4" fill="#3f3f3f"/><rect x="362" y="235" width="4" height="4" fill="#424242"/><rect x="365" y="235" width="10" height="4" fill="#434343"/><rect x="374" y="235" width="4" height="4" fill="#424242"/><rect x="377" y="235" width="4" height="4" fill="#404040"/><rect x="380" y="235" width="4" height="4" fill="#3d3d3d"/><rect x="383" y="235" width="4" height="4" fill="#3a3a3a"/><rect x="386" y="235" width="4" height="4" fill="#363636"/><rect x="389" y="235" width="4" height="4" fill="#323232"/><rect x="392" y="235" width="4" height="4" fill="#2e2e2e"/><rect x="395" y="235" width="4" height="4" fill="#292929"/><rect x="398" y="235" width="4" height="4" fill="#252525"/><rect x="401" y="235" width="4" height="4" fill="#212121"/><rect x="404" y="235" width="4" height="4" fill="#1d1d1d"/><rect x="407" y="235" width="4" height="4" fill="#191919"/><rect x="410" y="235" width="4" height="4" fill="#161616"/><rect x="413" y="235" width="4" height="4" fill="#131313"/><rect x="416" y="235" width="4" height="4" fill="#101010"/><rect x="419" y="235" width="4" height="4" fill="#0e0e0e"/><rect x="422" y="235" width="4" height="4" fill="#0c0c0c"/><rect x="425" y="235" width="4" height="4" fill="#0a0a0a"/><rect x="428" y="235" width="4" height="4" fill="#090909"/><rect x="431" y="235" width="4" height="4" fill="#080808"/><rect x="434" y="235" width="7" height="4" fill="#070707"/><rect x="440" y="235" width="13" height="4" fill="#060606"/><rect x="452" y="235" width="16" height="4" fill="#050505"/><rect x="290" y="238" width="10" height="4" fill="#060606"/><rect x="299" y="238" width="7" height="4" fill="#070707"/><rect x="305" y="238" width="4" height="4" fill="#080808"/><rect x="308" y="238" width="4" height="4" fill="#090909"/><rect x="311" y="238" width="4" height="4" fill="#0b0b0b"/><rect x="314" y="238" width="4" height="4" fill="#0c0c0c"/><rect x="317" y="238" width="4" height="4" fill="#0e0e0e"/><rect x="320" y="238" width="4" height="4" fill="#101010"/><rect x="323" y="238" width="4" height="4" fill="#131313"/><rect x="326" y="238" width="4" height="4" fill="#161616"/><rect x="329" y="238" width="4" height="4" fill="#1a1a1a"/><rect x="332" y="238" width="4" height="4" fill="#1e1e1e"/><rect x="335" y="238" width="4" height="4" fill="#222222"/><rect x="338" y="238" width="4" height="4" fill="#272727"/><rect x="341" y="238" width="4" height="4" fill="#2c2c2c"/><rect x="344" y="238" width="4" height="4" fill="#313131"/><rect x="347" y="238" width="4" height="4" fill="#363636"/><rect x="350" y="238" width="4" height="4" fill="#3b3b3b"/><rect x="353" y="238" width="4" height="4" fill="#3f3f3f"/><rect x="356" y="238" width="4" height="4" fill="#434343"/><rect x="359" y="238" width="4" height="4" fill="#474747"/><rect x="362" y="238" width="4" height="4" fill="#494949"/><rect x="365" y="238" width="10" height="4" fill="#4b4b4b"/><rect x="374" y="238" width="4" height="4" fill="#494949"/><rect x="377" y="238" width="4" height="4" fill="#474747"/><rect x="380" y="238" width="4" height="4" fill="#444444"/><rect x="383" y="238" width="4" height="4" fill="#404040"/><rect x="386" y="238" width="4" height="4" fill="#3c3c3c"/><rect x="389" y="238" width="4" height="4" fill="#373737"/><rect x="392" y="238" width="4" height="4" fill="#333333"/><rect x="395" y="238" width="4" height="4" fill="#2e2e2e"/><rect x="398" y="238" width="4" height="4" fill="#292929"/><rect x="401" y="238" width="4" height="4" fill="#242424"/><rect x="404" y="238" width="4" height="4" fill="#1f1f1f"/><rect x="407" y="238" width="4" height="4" fill="#1b1b1b"/><rect x="410" y="238" width="4" height="4" fill="#181818"/><rect x="413" y="238" width="4" height="4" fill="#141414"/><rect x="416" y="238" width="4" height="4" fill="#111111"/><rect x="419" y="238" width="4" height="4" fill="#0f0f0f"/><rect x="422" y="238" width="4" height="4" fill="#0d0d0d"/><rect x="425" y="238" width="4" height="4" fill="#0b0b0b"/><rect x="428" y="238" width="4" height="4" fill="#0a0a0a"/><rect x="431" y="238" width="4" height="4" fill="#090909"/><rect x="434" y="238" width="4" height="4" fill="#080808"/><rect x="437" y="238" width="4" height="4" fill="#070707"/><rect x="440" y="238" width="13" height="4" fill="#060606"/><rect x="452" y="238" width="16" height="4" fill="#050505"/><rect x="290" y="241" width="10" height="4" fill="#060606"/><rect x="299" y="241" width="4" height="4" fill="#070707"/><rect x="302" y="241" width="4" height="4" fill="#080808"/><rect x="305" y="241" width="4" height="4" fill="#090909"/><rect x="308" y="241" width="4" height="4" fill="#0a0a0a"/><rect x="311" y="241" width="4" height="4" fill="#0b0b0b"/><rect x="314" y="241" width="4" height="4" fill="#0d0d0d"/><rect x="317" y="241" width="4" height="4" fill="#0f0f0f"/><rect x="320" y="241" width="4" height="4" fill="#121212"/><rect x="323" y="241" width="4" height="4" fill="#151515"/><rect x="326" y="241" width="4" height="4" fill="#181818"/><rect x="329" y="241" width="4" height="4" fill="#1c1c1c"/><rect x="332" y="241" width="4" height="4" fill="#202020"/><rect x="335" y="241" width="4" height="4" fill="#252525"/><rect x="338" y="241" width="4" height="4" fill="#2a2a2a"/><rect x="341" y="241" width="4" height="4" fill="#303030"/><rect x="344" y="241" width="4" height="4" fill="#353535"/><rect x="347" y="241" width="4" height="4" fill="#3b3b3b"/><rect x="350" y="241" width="4" height="4" fill="#404040"/><rect x="353" y="241" width="4" height="4" fill="#454545"/><rect x="356" y="241" width="4" height="4" fill="#4a4a4a"/><rect x="359" y="241" width="4" height="4" fill="#4e4e4e"/><rect x="362" y="241" width="4" height="4" fill="#515151"/><rect x="365" y="241" width="10" height="4" fill="#535353"/><rect x="374" y="241" width="4" height="4" fill="#515151"/><rect x="377" y="241" width="4" height="4" fill="#4e4e4e"/><rect x="380" y="241" width="4" height="4" fill="#4a4a4a"/><rect x="383" y="241" width="4" height="4" fill="#464646"/><rect x="386" y="241" width="4" height="4" fill="#414141"/><rect x="389" y="241" width="4" height="4" fill="#3c3c3c"/><rect x="392" y="241" width="4" height="4" fill="#373737"/><rect x="395" y="241" width="4" height="4" fill="#323232"/><rect x="398" y="241" width="4" height="4" fill="#2c2c2c"/><rect x="401" y="241" width="4" height="4" fill="#272727"/><rect x="404" y="241" width="4" height="4" fill="#222222"/><rect x="407" y="241" width="4" height="4" fill="#1e1e1e"/><rect x="410" y="241" width="4" height="4" fill="#191919"/><rect x="413" y="241" width="4" height="4" fill="#161616"/><rect x="416" y="241" width="4" height="4" fill="#131313"/><rect x="419" y="241" width="4" height="4" fill="#101010"/><rect x="422" y="241" width="4" height="4" fill="#0e0e0e"/><rect x="425" y="241" width="4" height="4" fill="#0c0c0c"/><rect x="428" y="241" width="4" height="4" fill="#0a0a0a"/><rect x="431" y="241" width="4" height="4" fill="#090909"/><rect x="434" y="241" width="4" height="4" fill="#080808"/><rect x="437" y="241" width="7" height="4" fill="#070707"/><rect x="443" y="241" width="10" height="4" fill="#060606"/><rect x="452" y="241" width="16" height="4" fill="#050505"/><rect x="290" y="244" width="7" height="4" fill="#060606"/><rect x="296" y="244" width="7" height="4" fill="#070707"/><rect x="302" y="244" width="4" height="4" fill="#080808"/><rect x="305" y="244" width="4" height="4" fill="#090909"/><rect x="308" y="244" width="4" height="4" fill="#0a0a0a"/><rect x="311" y="244" width="4" height="4" fill="#0c0c0c"/><rect x="314" y="244" width="4" height="4" fill="#0d0d0d"/><rect x="317" y="244" width="4" height="4" fill="#101010"/><rect x="320" y="244" width="4" height="4" fill="#131313"/><rect x="323" y="244" width="4" height="4" fill="#161616"/><rect x="326" y="244" width="4" height="4" fill="#1a1a1a"/><rect x="329" y="244" width="4" height="4" fill="#1e1e1e"/><rect x="332" y="244" width="4" height="4" fill="#232323"/><rect x="335" y="244" width="4" height="4" fill="#282828"/><rect x="338" y="244" width="4" height="4" fill="#2d2d2d"/><rect x="341" y="244" width="4" height="4" fill="#333333"/><rect x="344" y="244" width="4" height="4" fill="#393939"/><rect x="347" y="244" width="4" height="4" fill="#404040"/><rect x="350" y="244" width="4" height="4" fill="#464646"/><rect x="353" y="244" width="4" height="4" fill="#4c4c4c"/><rect x="356" y="244" width="4" height="4" fill="#515151"/><rect x="359" y="244" width="4" height="4" fill="#565656"/><rect x="362" y="244" width="4" height="4" fill="#5a5a5a"/><rect x="365" y="244" width="7" height="4" fill="#5c5c5c"/><rect x="371" y="244" width="4" height="4" fill="#5b5b5b"/><rect x="374" y="244" width="4" height="4" fill="#595959"/><rect x="377" y="244" width="4" height="4" fill="#555555"/><rect x="380" y="244" width="4" height="4" fill="#515151"/><rect x="383" y="244" width="4" height="4" fill="#4c4c4c"/><rect x="386" y="244" width="4" height="4" fill="#464646"/><rect x="389" y="244" width="4" height="4" fill="#414141"/><rect x="392" y="244" width="4" height="4" fill="#3b3b3b"/><rect x="395" y="244" width="4" height="4" fill="#353535"/><rect x="398" y="244" width="4" height="4" fill="#2f2f2f"/><rect x="401" y="244" width="4" height="4" fill="#2a2a2a"/><rect x="404" y="244" width="4" height="4" fill="#242424"/><rect x="407" y="244" width="4" height="4" fill="#1f1f1f"/><rect x="410" y="244" width="4" height="4" fill="#1b1b1b"/><rect x="413" y="244" width="4" height="4" fill="#171717"/><rect x="416" y="244" width="4" height="4" fill="#141414"/><rect x="419" y="244" width="4" height="4" fill="#111111"/><rect x="422" y="244" width="4" height="4" fill="#0e0e0e"/><rect x="425" y="244" width="4" height="4" fill="#0c0c0c"/><rect x="428" y="244" width="4" height="4" fill="#0b0b0b"/><rect x="431" y="244" width="4" height="4" fill="#090909"/><rect x="434" y="244" width="4" height="4" fill="#080808"/><rect x="437" y="244" width="7" height="4" fill="#070707"/><rect x="443" y="244" width="10" height="4" fill="#060606"/><rect x="452" y="244" width="16" height="4" fill="#050505"/><rect x="290" y="247" width="7" height="4" fill="#060606"/><rect x="296" y="247" width="7" height="4" fill="#070707"/><rect x="302" y="247" width="4" height="4" fill="#080808"/><rect x="305" y="247" width="4" height="4" fill="#090909"/><rect x="308" y="247" width="4" height="4" fill="#0a0a0a"/><rect x="311" y="247" width="4" height="4" fill="#0c0c0c"/><rect x="314" y="247" width="4" height="4" fill="#0e0e0e"/><rect x="317" y="247" width="4" height="4" fill="#101010"/><rect x="320" y="247" width="4" height="4" fill="#131313"/><rect x="323" y="247" width="4" height="4" fill="#171717"/><rect x="326" y="247" width="4" height="4" fill="#1b1b1b"/><rect x="329" y="247" width="4" height="4" fill="#1f1f1f"/><rect x="332" y="247" width="4" height="4" fill="#242424"/><rect x="335" y="247" width="4" height="4" fill="#2a2a2a"/><rect x="338" y="247" width="4" height="4" fill="#303030"/><rect x="341" y="247" width="4" height="4" fill="#363636"/><rect x="344" y="247" width="4" height="4" fill="#3d3d3d"/><rect x="347" y="247" width="4" height="4" fill="#444444"/><rect x="350" y="247" width="4" height="4" fill="#4b4b4b"/><rect x="353" y="247" width="4" height="4" fill="#525252"/><rect x="356" y="247" width="4" height="4" fill="#595959"/><rect x="359" y="247" width="4" height="4" fill="#5f5f5f"/><rect x="362" y="247" width="4" height="4" fill="#636363"/><rect x="365" y="247" width="7" height="4" fill="#666666"/><rect x="371" y="247" width="4" height="4" fill="#646464"/><rect x="374" y="247" width="4" height="4" fill="#606060"/><rect x="377" y="247" width="4" height="4" fill="#5c5c5c"/><rect x="380" y="247" width="4" height="4" fill="#565656"/><rect x="383" y="247" width="4" height="4" fill="#515151"/><rect x="386" y="247" width="4" height="4" fill="#4b4b4b"/><rect x="389" y="247" width="4" height="4" fill="#454545"/><rect x="392" y="247" width="4" height="4" fill="#3e3e3e"/><rect x="395" y="247" width="4" height="4" fill="#383838"/><rect x="398" y="247" width="4" height="4" fill="#323232"/><rect x="401" y="247" width="4" height="4" fill="#2c2c2c"/><rect x="404" y="247" width="4" height="4" fill="#262626"/><rect x="407" y="247" width="4" height="4" fill="#212121"/><rect x="410" y="247" width="4" height="4" fill="#1c1c1c"/><rect x="413" y="247" width="4" height="4" fill="#181818"/><rect x="416" y="247" width="4" height="4" fill="#151515"/><rect x="419" y="247" width="4" height="4" fill="#111111"/><rect x="422" y="247" width="4" height="4" fill="#0f0f0f"/><rect x="425" y="247" width="4" height="4" fill="#0d0d0d"/><rect x="428" y="247" width="4" height="4" fill="#0b0b0b"/><rect x="431" y="247" width="4" height="4" fill="#090909"/><rect x="434" y="247" width="4" height="4" fill="#080808"/><rect x="437" y="247" width="7" height="4" fill="#070707"/><rect x="443" y="247" width="13" height="4" fill="#060606"/><rect x="455" y="247" width="13" height="4" fill="#050505"/><rect x="290" y="250" width="7" height="4" fill="#060606"/><rect x="296" y="250" width="7" height="4" fill="#070707"/><rect x="302" y="250" width="4" height="4" fill="#080808"/><rect x="305" y="250" width="4" height="4" fill="#090909"/><rect x="308" y="250" width="4" height="4" fill="#0b0b0b"/><rect x="311" y="250" width="4" height="4" fill="#0c0c0c"/><rect x="314" y="250" width="4" height="4" fill="#0e0e0e"/><rect x="317" y="250" width="4" height="4" fill="#111111"/><rect x="320" y="250" width="4" height="4" fill="#141414"/><rect x="323" y="250" width="4" height="4" fill="#181818"/><rect x="326" y="250" width="4" height="4" fill="#1c1c1c"/><rect x="329" y="250" width="4" height="4" fill="#212121"/><rect x="332" y="250" width="4" height="4" fill="#262626"/><rect x="335" y="250" width="4" height="4" fill="#2c2c2c"/><rect x="338" y="250" width="4" height="4" fill="#323232"/><rect x="341" y="250" width="4" height="4" fill="#393939"/><rect x="344" y="250" width="4" height="4" fill="#404040"/><rect x="347" y="250" width="4" height="4" fill="#484848"/><rect x="350" y="250" width="4" height="4" fill="#505050"/><rect x="353" y="250" width="4" height="4" fill="#585858"/><rect x="356" y="250" width="4" height="4" fill="#616161"/><rect x="359" y="250" width="4" height="4" fill="#686868"/><rect x="362" y="250" width="4" height="4" fill="#6d6d6d"/><rect x="365" y="250" width="7" height="4" fill="#707070"/><rect x="371" y="250" width="4" height="4" fill="#6d6d6d"/><rect x="374" y="250" width="4" height="4" fill="#686868"/><rect x="377" y="250" width="4" height="4" fill="#626262"/><rect x="380" y="250" width="4" height="4" fill="#5b5b5b"/><rect x="383" y="250" width="4" height="4" fill="#555555"/><rect x="386" y="250" width="4" height="4" fill="#4e4e4e"/><rect x="389" y="250" width="4" height="4" fill="#484848"/><rect x="392" y="250" width="4" height="4" fill="#414141"/><rect x="395" y="250" width="4" height="4" fill="#3a3a3a"/><rect x="398" y="250" width="4" height="4" fill="#343434"/><rect x="401" y="250" width="4" height="4" fill="#2e2e2e"/><rect x="404" y="250" width="4" height="4" fill="#282828"/><rect x="407" y="250" width="4" height="4" fill="#222222"/><rect x="410" y="250" width="4" height="4" fill="#1d1d1d"/><rect x="413" y="250" width="4" height="4" fill="#191919"/><rect x="416" y="250" width="4" height="4" fill="#151515"/><rect x="419" y="250" width="4" height="4" fill="#121212"/><rect x="422" y="250" width="4" height="4" fill="#0f0f0f"/><rect x="425" y="250" width="4" height="4" fill="#0d0d0d"/><rect x="428" y="250" width="4" height="4" fill="#0b0b0b"/><rect x="431" y="250" width="4" height="4" fill="#0a0a0a"/><rect x="434" y="250" width="7" height="4" fill="#080808"/><rect x="440" y="250" width="4" height="4" fill="#070707"/><rect x="443" y="250" width="13" height="4" fill="#060606"/><rect x="455" y="250" width="13" height="4" fill="#050505"/><rect x="290" y="253" width="7" height="4" fill="#060606"/><rect x="296" y="253" width="7" height="4" fill="#070707"/><rect x="302" y="253" width="4" height="4" fill="#080808"/><rect x="305" y="253" width="4" height="4" fill="#090909"/><rect x="308" y="253" width="4" height="4" fill="#0b0b0b"/><rect x="311" y="253" width="4" height="4" fill="#0c0c0c"/><rect x="314" y="253" width="4" height="4" fill="#0f0f0f"/><rect x="317" y="253" width="4" height="4" fill="#111111"/><rect x="320" y="253" width="4" height="4" fill="#141414"/><rect x="323" y="253" width="4" height="4" fill="#181818"/><rect x="326" y="253" width="4" height="4" fill="#1c1c1c"/><rect x="329" y="253" width="4" height="4" fill="#212121"/><rect x="332" y="253" width="4" height="4" fill="#272727"/><rect x="335" y="253" width="4" height="4" fill="#2d2d2d"/><rect x="338" y="253" width="4" height="4" fill="#333333"/><rect x="341" y="253" width="4" height="4" fill="#3a3a3a"/><rect x="344" y="253" width="4" height="4" fill="#424242"/><rect x="347" y="253" width="4" height="4" fill="#4a4a4a"/><rect x="350" y="253" width="4" height="4" fill="#535353"/><rect x="353" y="253" width="4" height="4" fill="#5d5d5d"/><rect x="356" y="253" width="4" height="4" fill="#666666"/><rect x="359" y="253" width="4" height="4" fill="#6f6f6f"/><rect x="362" y="253" width="4" height="4" fill="#757575"/><rect x="365" y="253" width="4" height="4" fill="#787878"/><rect x="368" y="253" width="4" height="4" fill="#777777"/><rect x="371" y="253" width="4" height="4" fill="#747474"/><rect x="374" y="253" width="4" height="4" fill="#6d6d6d"/><rect x="377" y="253" width="4" height="4" fill="#666666"/><rect x="380" y="253" width="4" height="4" fill="#5f5f5f"/><rect x="383" y="253" width="4" height="4" fill="#575757"/><rect x="386" y="253" width="4" height="4" fill="#505050"/><rect x="389" y="253" width="4" height="4" fill="#494949"/><rect x="392" y="253" width="4" height="4" fill="#424242"/><rect x="395" y="253" width="4" height="4" fill="#3c3c3c"/><rect x="398" y="253" width="4" height="4" fill="#353535"/><rect x="401" y="253" width="4" height="4" fill="#2f2f2f"/><rect x="404" y="253" width="4" height="4" fill="#292929"/><rect x="407" y="253" width="4" height="4" fill="#232323"/><rect x="410" y="253" width="4" height="4" fill="#1e1e1e"/><rect x="413" y="253" width="4" height="4" fill="#1a1a1a"/><rect x="416" y="253" width="4" height="4" fill="#161616"/><rect x="419" y="253" width="4" height="4" fill="#121212"/><rect x="422" y="253" width="4" height="4" fill="#0f0f0f"/><rect x="425" y="253" width="4" height="4" fill="#0d0d0d"/><rect x="428" y="253" width="4" height="4" fill="#0b0b0b"/><rect x="431" y="253" width="4" height="4" fill="#0a0a0a"/><rect x="434" y="253" width="4" height="4" fill="#090909"/><rect x="437" y="253" width="4" height="4" fill="#080808"/><rect x="440" y="253" width="4" height="4" fill="#070707"/><rect x="443" y="253" width="13" height="4" fill="#060606"/><rect x="455" y="253" width="13" height="4" fill="#050505"/><rect x="290" y="256" width="7" height="4" fill="#060606"/><rect x="296" y="256" width="7" height="4" fill="#070707"/><rect x="302" y="256" width="4" height="4" fill="#080808"/><rect x="305" y="256" width="4" height="4" fill="#090909"/><rect x="308" y="256" width="4" height="4" fill="#0b0b0b"/><rect x="311" y="256" width="4" height="4" fill="#0d0d0d"/><rect x="314" y="256" width="4" height="4" fill="#0f0f0f"/><rect x="317" y="256" width="4" height="4" fill="#111111"/><rect x="320" y="256" width="4" height="4" fill="#151515"/><rect x="323" y="256" width="4" height="4" fill="#181818"/><rect x="326" y="256" width="4" height="4" fill="#1d1d1d"/><rect x="329" y="256" width="4" height="4" fill="#222222"/><rect x="332" y="256" width="4" height="4" fill="#272727"/><rect x="335" y="256" width="4" height="4" fill="#2d2d2d"/><rect x="338" y="256" width="4" height="4" fill="#343434"/><rect x="341" y="256" width="4" height="4" fill="#3b3b3b"/><rect x="344" y="256" width="4" height="4" fill="#424242"/><rect x="347" y="256" width="4" height="4" fill="#4b4b4b"/><rect x="350" y="256" width="4" height="4" fill="#555555"/><rect x="353" y="256" width="4" height="4" fill="#5f5f5f"/><rect x="356" y="256" width="4" height="4" fill="#696969"/><rect x="359" y="256" width="4" height="4" fill="#727272"/><rect x="362" y="256" width="4" height="4" fill="#797979"/><rect x="365" y="256" width="4" height="4" fill="#7c7c7c"/><rect x="368" y="256" width="4" height="4" fill="#7b7b7b"/><rect x="371" y="256" width="4" height="4" fill="#777777"/><rect x="374" y="256" width="4" height="4" fill="#707070"/><rect x="377" y="256" width="4" height="4" fill="#686868"/><rect x="380" y="256" width="4" height="4" fill="#606060"/><rect x="383" y="256" width="4" height="4" fill="#585858"/><rect x="386" y="256" width="4" height="4" fill="#515151"/><rect x="389" y="256" width="4" height="4" fill="#4a4a4a"/><rect x="392" y="256" width="4" height="4" fill="#434343"/><rect x="395" y="256" width="4" height="4" fill="#3c3c3c"/><rect x="398" y="256" width="4" height="4" fill="#353535"/><rect x="401" y="256" width="4" height="4" fill="#2f2f2f"/><rect x="404" y="256" width="4" height="4" fill="#292929"/><rect x="407" y="256" width="4" height="4" fill="#232323"/><rect x="410" y="256" width="4" height="4" fill="#1e1e1e"/><rect x="413" y="256" width="4" height="4" fill="#1a1a1a"/><rect x="416" y="256" width="4" height="4" fill="#161616"/><rect x="419" y="256" width="4" height="4" fill="#121212"/><rect x="422" y="256" width="4" height="4" fill="#101010"/><rect x="425" y="256" width="4" height="4" fill="#0d0d0d"/><rect x="428" y="256" width="4" height="4" fill="#0b0b0b"/><rect x="431" y="256" width="4" height="4" fill="#0a0a0a"/><rect x="434" y="256" width="4" height="4" fill="#090909"/><rect x="437" y="256" width="4" height="4" fill="#080808"/><rect x="440" y="256" width="4" height="4" fill="#070707"/><rect x="443" y="256" width="13" height="4" fill="#060606"/><rect x="455" y="256" width="13" height="4" fill="#050505"/><rect x="290" y="259" width="7" height="4" fill="#060606"/><rect x="296" y="259" width="7" height="4" fill="#070707"/><rect x="302" y="259" width="4" height="4" fill="#080808"/><rect x="305" y="259" width="4" height="4" fill="#090909"/><rect x="308" y="259" width="4" height="4" fill="#0b0b0b"/><rect x="311" y="259" width="4" height="4" fill="#0c0c0c"/><rect x="314" y="259" width="4" height="4" fill="#0f0f0f"/><rect x="317" y="259" width="4" height="4" fill="#111111"/><rect x="320" y="259" width="4" height="4" fill="#141414"/><rect x="323" y="259" width="4" height="4" fill="#181818"/><rect x="326" y="259" width="4" height="4" fill="#1c1c1c"/><rect x="329" y="259" width="4" height="4" fill="#212121"/><rect x="332" y="259" width="4" height="4" fill="#272727"/><rect x="335" y="259" width="4" height="4" fill="#2d2d2d"/><rect x="338" y="259" width="4" height="4" fill="#333333"/><rect x="341" y="259" width="4" height="4" fill="#3a3a3a"/><rect x="344" y="259" width="4" height="4" fill="#424242"/><rect x="347" y="259" width="4" height="4" fill="#4a4a4a"/><rect x="350" y="259" width="4" height="4" fill="#545454"/><rect x="353" y="259" width="4" height="4" fill="#5d5d5d"/><rect x="356" y="259" width="4" height="4" fill="#676767"/><rect x="359" y="259" width="4" height="4" fill="#707070"/><rect x="362" y="259" width="4" height="4" fill="#777777"/><rect x="365" y="259" width="4" height="4" fill="#7a7a7a"/><rect x="368" y="259" width="4" height="4" fill="#797979"/><rect x="371" y="259" width="4" height="4" fill="#757575"/><rect x="374" y="259" width="4" height="4" fill="#6e6e6e"/><rect x="377" y="259" width="4" height="4" fill="#676767"/><rect x="380" y="259" width="4" height="4" fill="#5f5f5f"/><rect x="383" y="259" width="4" height="4" fill="#585858"/><rect x="386" y="259" width="4" height="4" fill="#505050"/><rect x="389" y="259" width="4" height="4" fill="#494949"/><rect x="392" y="259" width="4" height="4" fill="#434343"/><rect x="395" y="259" width="4" height="4" fill="#3c3c3c"/><rect x="398" y="259" width="4" height="4" fill="#353535"/><rect x="401" y="259" width="4" height="4" fill="#2f2f2f"/><rect x="404" y="259" width="4" height="4" fill="#292929"/><rect x="407" y="259" width="4" height="4" fill="#232323"/><rect x="410" y="259" width="4" height="4" fill="#1e1e1e"/><rect x="413" y="259" width="4" height="4" fill="#1a1a1a"/><rect x="416" y="259" width="4" height="4" fill="#161616"/><rect x="419" y="259" width="4" height="4" fill="#121212"/><rect x="422" y="259" width="4" height="4" fill="#0f0f0f"/><rect x="425" y="259" width="4" height="4" fill="#0d0d0d"/><rect x="428" y="259" width="4" height="4" fill="#0b0b0b"/><rect x="431" y="259" width="4" height="4" fill="#0a0a0a"/><rect x="434" y="259" width="4" height="4" fill="#090909"/><rect x="437" y="259" width="4" height="4" fill="#080808"/><rect x="440" y="259" width="4" height="4" fill="#070707"/><rect x="443" y="259" width="13" height="4" fill="#060606"/><rect x="455" y="259" width="13" height="4" fill="#050505"/><rect x="290" y="262" width="7" height="4" fill="#060606"/><rect x="296" y="262" width="7" height="4" fill="#070707"/><rect x="302" y="262" width="4" height="4" fill="#080808"/><rect x="305" y="262" width="4" height="4" fill="#090909"/><rect x="308" y="262" width="4" height="4" fill="#0b0b0b"/><rect x="311" y="262" width="4" height="4" fill="#0c0c0c"/><rect x="314" y="262" width="4" height="4" fill="#0e0e0e"/><rect x="317" y="262" width="4" height="4" fill="#111111"/><rect x="320" y="262" width="4" height="4" fill="#141414"/><rect x="323" y="262" width="4" height="4" fill="#181818"/><rect x="326" y="262" width="4" height="4" fill="#1c1c1c"/><rect x="329" y="262" width="4" height="4" fill="#212121"/><rect x="332" y="262" width="4" height="4" fill="#262626"/><rect x="335" y="262" width="4" height="4" fill="#2c2c2c"/><rect x="338" y="262" width="4" height="4" fill="#323232"/><rect x="341" y="262" width="4" height="4" fill="#393939"/><rect x="344" y="262" width="4" height="4" fill="#404040"/><rect x="347" y="262" width="4" height="4" fill="#484848"/><rect x="350" y="262" width="4" height="4" fill="#505050"/><rect x="353" y="262" width="4" height="4" fill="#595959"/><rect x="356" y="262" width="4" height="4" fill="#626262"/><rect x="359" y="262" width="4" height="4" fill="#6a6a6a"/><rect x="362" y="262" width="4" height="4" fill="#6f6f6f"/><rect x="365" y="262" width="7" height="4" fill="#727272"/><rect x="371" y="262" width="4" height="4" fill="#6e6e6e"/><rect x="374" y="262" width="4" height="4" fill="#696969"/><rect x="377" y="262" width="4" height="4" fill="#636363"/><rect x="380" y="262" width="4" height="4" fill="#5c5c5c"/><rect x="383" y="262" width="4" height="4" fill="#555555"/><rect x="386" y="262" width="4" height="4" fill="#4e4e4e"/><rect x="389" y="262" width="4" height="4" fill="#484848"/><rect x="392" y="262" width="4" height="4" fill="#414141"/><rect x="395" y="262" width="4" height="4" fill="#3a3a3a"/><rect x="398" y="262" width="4" height="4" fill="#343434"/><rect x="401" y="262" width="4" height="4" fill="#2e2e2e"/><rect x="404" y="262" width="4" height="4" fill="#282828"/><rect x="407" y="262" width="4" height="4" fill="#222222"/><rect x="410" y="262" width="4" height="4" fill="#1d1d1d"/><rect x="413" y="262" width="4" height="4" fill="#191919"/><rect x="416" y="262" width="4" height="4" fill="#151515"/><rect x="419" y="262" width="4" height="4" fill="#121212"/><rect x="422" y="262" width="4" height="4" fill="#0f0f0f"/><rect x="425" y="262" width="4" height="4" fill="#0d0d0d"/><rect x="428" y="262" width="4" height="4" fill="#0b0b0b"/><rect x="431" y="262" width="4" height="4" fill="#0a0a0a"/><rect x="434" y="262" width="7" height="4" fill="#080808"/><rect x="440" y="262" width="4" height="4" fill="#070707"/><rect x="443" y="262" width="13" height="4" fill="#060606"/><rect x="455" y="262" width="13" height="4" fill="#050505"/><rect x="290" y="265" width="7" height="4" fill="#060606"/><rect x="296" y="265" width="7" height="4" fill="#070707"/><rect x="302" y="265" width="4" height="4" fill="#080808"/><rect x="305" y="265" width="4" height="4" fill="#090909"/><rect x="308" y="265" width="4" height="4" fill="#0a0a0a"/><rect x="311" y="265" width="4" height="4" fill="#0c0c0c"/><rect x="314" y="265" width="4" height="4" fill="#0e0e0e"/><rect x="317" y="265" width="4" height="4" fill="#101010"/><rect x="320" y="265" width="4" height="4" fill="#131313"/><rect x="323" y="265" width="4" height="4" fill="#171717"/><rect x="326" y="265" width="4" height="4" fill="#1b1b1b"/><rect x="329" y="265" width="4" height="4" fill="#1f1f1f"/><rect x="332" y="265" width="4" height="4" fill="#242424"/><rect x="335" y="265" width="4" height="4" fill="#2a2a2a"/><rect x="338" y="265" width="4" height="4" fill="#303030"/><rect x="341" y="265" width="4" height="4" fill="#363636"/><rect x="344" y="265" width="4" height="4" fill="#3d3d3d"/><rect x="347" y="265" width="4" height="4" fill="#444444"/><rect x="350" y="265" width="4" height="4" fill="#4c4c4c"/><rect x="353" y="265" width="4" height="4" fill="#535353"/><rect x="356" y="265" width="4" height="4" fill="#5a5a5a"/><rect x="359" y="265" width="4" height="4" fill="#616161"/><rect x="362" y="265" width="4" height="4" fill="#656565"/><rect x="365" y="265" width="7" height="4" fill="#686868"/><rect x="371" y="265" width="4" height="4" fill="#656565"/><rect x="374" y="265" width="4" height="4" fill="#616161"/><rect x="377" y="265" width="4" height="4" fill="#5c5c5c"/><rect x="380" y="265" width="4" height="4" fill="#575757"/><rect x="383" y="265" width="4" height="4" fill="#515151"/><rect x="386" y="265" width="4" height="4" fill="#4b4b4b"/><rect x="389" y="265" width="4" height="4" fill="#454545"/><rect x="392" y="265" width="4" height="4" fill="#3e3e3e"/><rect x="395" y="265" width="4" height="4" fill="#383838"/><rect x="398" y="265" width="4" height="4" fill="#323232"/><rect x="401" y="265" width="4" height="4" fill="#2c2c2c"/><rect x="404" y="265" width="4" height="4" fill="#262626"/><rect x="407" y="265" width="4" height="4" fill="#212121"/><rect x="410" y="265" width="4" height="4" fill="#1c1c1c"/><rect x="413" y="265" width="4" height="4" fill="#181818"/><rect x="416" y="265" width="4" height="4" fill="#151515"/><rect x="419" y="265" width="4" height="4" fill="#111111"/><rect x="422" y="265" width="4" height="4" fill="#0f0f0f"/><rect x="425" y="265" width="4" height="4" fill="#0d0d0d"/><rect x="428" y="265" width="4" height="4" fill="#0b0b0b"/><rect x="431" y="265" width="4" height="4" fill="#090909"/><rect x="434" y="265" width="4" height="4" fill="#080808"/><rect x="437" y="265" width="7" height="4" fill="#070707"/><rect x="443" y="265" width="13" height="4" fill="#060606"/><rect x="455" y="265" width="13" height="4" fill="#050505"/><rect x="290" y="268" width="7" height="4" fill="#060606"/><rect x="296" y="268" width="7" height="4" fill="#070707"/><rect x="302" y="268" width="4" height="4" fill="#080808"/><rect x="305" y="268" width="4" height="4" fill="#090909"/><rect x="308" y="268" width="4" height="4" fill="#0a0a0a"/><rect x="311" y="268" width="4" height="4" fill="#0c0c0c"/><rect x="314" y="268" width="4" height="4" fill="#0d0d0d"/><rect x="317" y="268" width="4" height="4" fill="#101010"/><rect x="320" y="268" width="4" height="4" fill="#131313"/><rect x="323" y="268" width="4" height="4" fill="#161616"/><rect x="326" y="268" width="4" height="4" fill="#1a1a1a"/><rect x="329" y="268" width="4" height="4" fill="#1e1e1e"/><rect x="332" y="268" width="4" height="4" fill="#232323"/><rect x="335" y="268" width="4" height="4" fill="#282828"/><rect x="338" y="268" width="4" height="4" fill="#2d2d2d"/><rect x="341" y="268" width="4" height="4" fill="#333333"/><rect x="344" y="268" width="4" height="4" fill="#393939"/><rect x="347" y="268" width="4" height="4" fill="#404040"/><rect x="350" y="268" width="4" height="4" fill="#464646"/><rect x="353" y="268" width="4" height="4" fill="#4c4c4c"/><rect x="356" y="268" width="4" height="4" fill="#525252"/><rect x="359" y="268" width="4" height="4" fill="#575757"/><rect x="362" y="268" width="4" height="4" fill="#5b5b5b"/><rect x="365" y="268" width="4" height="4" fill="#5d5d5d"/><rect x="368" y="268" width="4" height="4" fill="#5e5e5e"/><rect x="371" y="268" width="4" height="4" fill="#5c5c5c"/><rect x="374" y="268" width="4" height="4" fill="#595959"/><rect x="377" y="268" width="4" height="4" fill="#565656"/><rect x="380" y="268" width="4" height="4" fill="#515151"/><rect x="383" y="268" width="4" height="4" fill="#4c4c4c"/><rect x="386" y="268" width="4" height="4" fill="#474747"/><rect x="389" y="268" width="4" height="4" fill="#414141"/><rect x="392" y="268" width="4" height="4" fill="#3b3b3b"/><rect x="395" y="268" width="4" height="4" fill="#353535"/><rect x="398" y="268" width="4" height="4" fill="#2f2f2f"/><rect x="401" y="268" width="4" height="4" fill="#2a2a2a"/><rect x="404" y="268" width="4" height="4" fill="#242424"/><rect x="407" y="268" width="4" height="4" fill="#1f1f1f"/><rect x="410" y="268" width="4" height="4" fill="#1b1b1b"/><rect x="413" y="268" width="4" height="4" fill="#171717"/><rect x="416" y="268" width="4" height="4" fill="#141414"/><rect x="419" y="268" width="4" height="4" fill="#111111"/><rect x="422" y="268" width="4" height="4" fill="#0e0e0e"/><rect x="425" y="268" width="4" height="4" fill="#0c0c0c"/><rect x="428" y="268" width="4" height="4" fill="#0b0b0b"/><rect x="431" y="268" width="4" height="4" fill="#090909"/><rect x="434" y="268" width="4" height="4" fill="#080808"/><rect x="437" y="268" width="7" height="4" fill="#070707"/><rect x="443" y="268" width="10" height="4" fill="#060606"/><rect x="452" y="268" width="16" height="4" fill="#050505"/><rect x="290" y="271" width="10" height="4" fill="#060606"/><rect x="299" y="271" width="4" height="4" fill="#070707"/><rect x="302" y="271" width="4" height="4" fill="#080808"/><rect x="305" y="271" width="4" height="4" fill="#090909"/><rect x="308" y="271" width="4" height="4" fill="#0a0a0a"/><rect x="311" y="271" width="4" height="4" fill="#0b0b0b"/><rect x="314" y="271" width="4" height="4" fill="#0d0d0d"/><rect x="317" y="271" width="4" height="4" fill="#0f0f0f"/><rect x="320" y="271" width="4" height="4" fill="#121212"/><rect x="323" y="271" width="4" height="4" fill="#151515"/><rect x="326" y="271" width="4" height="4" fill="#181818"/><rect x="329" y="271" width="4" height="4" fill="#1c1c1c"/><rect x="332" y="271" width="4" height="4" fill="#202020"/><rect x="335" y="271" width="4" height="4" fill="#252525"/><rect x="338" y="271" width="4" height="4" fill="#2a2a2a"/><rect x="341" y="271" width="4" height="4" fill="#303030"/><rect x="344" y="271" width="4" height="4" fill="#353535"/><rect x="347" y="271" width="4" height="4" fill="#3b3b3b"/><rect x="350" y="271" width="4" height="4" fill="#414141"/><rect x="353" y="271" width="4" height="4" fill="#464646"/><rect x="356" y="271" width="4" height="4" fill="#4b4b4b"/><rect x="359" y="271" width="4" height="4" fill="#4f4f4f"/><rect x="362" y="271" width="4" height="4" fill="#525252"/><rect x="365" y="271" width="7" height="4" fill="#545454"/><rect x="371" y="271" width="4" height="4" fill="#535353"/><rect x="374" y="271" width="4" height="4" fill="#515151"/><rect x="377" y="271" width="4" height="4" fill="#4e4e4e"/><rect x="380" y="271" width="4" height="4" fill="#4b4b4b"/><rect x="383" y="271" width="4" height="4" fill="#464646"/><rect x="386" y="271" width="4" height="4" fill="#424242"/><rect x="389" y="271" width="4" height="4" fill="#3c3c3c"/><rect x="392" y="271" width="4" height="4" fill="#373737"/><rect x="395" y="271" width="4" height="4" fill="#323232"/><rect x="398" y="271" width="4" height="4" fill="#2c2c2c"/><rect x="401" y="271" width="4" height="4" fill="#272727"/><rect x="404" y="271" width="4" height="4" fill="#222222"/><rect x="407" y="271" width="4" height="4" fill="#1e1e1e"/><rect x="410" y="271" width="4" height="4" fill="#191919"/><rect x="413" y="271" width="4" height="4" fill="#161616"/><rect x="416" y="271" width="4" height="4" fill="#131313"/><rect x="419" y="271" width="4" height="4" fill="#101010"/><rect x="422" y="271" width="4" height="4" fill="#0e0e0e"/><rect x="425" y="271" width="4" height="4" fill="#0c0c0c"/><rect x="428" y="271" width="4" height="4" fill="#0a0a0a"/><rect x="431" y="271" width="4" height="4" fill="#090909"/><rect x="434" y="271" width="4" height="4" fill="#080808"/><rect x="437" y="271" width="7" height="4" fill="#070707"/><rect x="443" y="271" width="10" height="4" fill="#060606"/><rect x="452" y="271" width="16" height="4" fill="#050505"/><rect x="290" y="274" width="10" height="4" fill="#060606"/><rect x="299" y="274" width="7" height="4" fill="#070707"/><rect x="305" y="274" width="4" height="4" fill="#080808"/><rect x="308" y="274" width="4" height="4" fill="#090909"/><rect x="311" y="274" width="4" height="4" fill="#0b0b0b"/><rect x="314" y="274" width="4" height="4" fill="#0c0c0c"/><rect x="317" y="274" width="4" height="4" fill="#0e0e0e"/><rect x="320" y="274" width="4" height="4" fill="#101010"/><rect x="323" y="274" width="4" height="4" fill="#131313"/><rect x="326" y="274" width="4" height="4" fill="#161616"/><rect x="329" y="274" width="4" height="4" fill="#1a1a1a"/><rect x="332" y="274" width="4" height="4" fill="#1e1e1e"/><rect x="335" y="274" width="4" height="4" fill="#222222"/><rect x="338" y="274" width="4" height="4" fill="#272727"/><rect x="341" y="274" width="4" height="4" fill="#2c2c2c"/><rect x="344" y="274" width="4" height="4" fill="#313131"/><rect x="347" y="274" width="4" height="4" fill="#363636"/><rect x="350" y="274" width="4" height="4" fill="#3b3b3b"/><rect x="353" y="274" width="4" height="4" fill="#3f3f3f"/><rect x="356" y="274" width="4" height="4" fill="#434343"/><rect x="359" y="274" width="4" height="4" fill="#474747"/><rect x="362" y="274" width="4" height="4" fill="#494949"/><rect x="365" y="274" width="4" height="4" fill="#4b4b4b"/><rect x="368" y="274" width="4" height="4" fill="#4c4c4c"/><rect x="371" y="274" width="4" height="4" fill="#4b4b4b"/><rect x="374" y="274" width="4" height="4" fill="#4a4a4a"/><rect x="377" y="274" width="4" height="4" fill="#474747"/><rect x="380" y="274" width="4" height="4" fill="#444444"/><rect x="383" y="274" width="4" height="4" fill="#404040"/><rect x="386" y="274" width="4" height="4" fill="#3c3c3c"/><rect x="389" y="274" width="4" height="4" fill="#373737"/><rect x="392" y="274" width="4" height="4" fill="#333333"/><rect x="395" y="274" width="4" height="4" fill="#2e2e2e"/><rect x="398" y="274" width="4" height="4" fill="#292929"/><rect x="401" y="274" width="4" height="4" fill="#242424"/><rect x="404" y="274" width="4" height="4" fill="#1f1f1f"/><rect x="407" y="274" width="4" height="4" fill="#1b1b1b"/><rect x="410" y="274" width="4" height="4" fill="#181818"/><rect x="413" y="274" width="4" height="4" fill="#141414"/><rect x="416" y="274" width="4" height="4" fill="#111111"/><rect x="419" y="274" width="4" height="4" fill="#0f0f0f"/><rect x="422" y="274" width="4" height="4" fill="#0d0d0d"/><rect x="425" y="274" width="4" height="4" fill="#0b0b0b"/><rect x="428" y="274" width="4" height="4" fill="#0a0a0a"/><rect x="431" y="274" width="4" height="4" fill="#090909"/><rect x="434" y="274" width="4" height="4" fill="#080808"/><rect x="437" y="274" width="4" height="4" fill="#070707"/><rect x="440" y="274" width="13" height="4" fill="#060606"/><rect x="452" y="274" width="16" height="4" fill="#050505"/><rect x="290" y="277" width="10" height="4" fill="#060606"/><rect x="299" y="277" width="7" height="4" fill="#070707"/><rect x="305" y="277" width="4" height="4" fill="#080808"/><rect x="308" y="277" width="4" height="4" fill="#090909"/><rect x="311" y="277" width="4" height="4" fill="#0a0a0a"/><rect x="314" y="277" width="4" height="4" fill="#0b0b0b"/><rect x="317" y="277" width="4" height="4" fill="#0d0d0d"/><rect x="320" y="277" width="4" height="4" fill="#0f0f0f"/><rect x="323" y="277" width="4" height="4" fill="#121212"/><rect x="326" y="277" width="4" height="4" fill="#151515"/><rect x="329" y="277" width="4" height="4" fill="#181818"/><rect x="332" y="277" width="4" height="4" fill="#1b1b1b"/><rect x="335" y="277" width="4" height="4" fill="#1f1f1f"/><rect x="338" y="277" width="4" height="4" fill="#242424"/><rect x="341" y="277" width="4" height="4" fill="#282828"/><rect x="344" y="277" width="4" height="4" fill="#2c2c2c"/><rect x="347" y="277" width="4" height="4" fill="#313131"/><rect x="350" y="277" width="4" height="4" fill="#353535"/><rect x="353" y="277" width="4" height="4" fill="#393939"/><rect x="356" y="277" width="4" height="4" fill="#3c3c3c"/><rect x="359" y="277" width="4" height="4" fill="#3f3f3f"/><rect x="362" y="277" width="4" height="4" fill="#424242"/><rect x="365" y="277" width="4" height="4" fill="#434343"/><rect x="368" y="277" width="4" height="4" fill="#444444"/><rect x="371" y="277" width="4" height="4" fill="#434343"/><rect x="374" y="277" width="4" height="4" fill="#424242"/><rect x="377" y="277" width="4" height="4" fill="#404040"/><rect x="380" y="277" width="4" height="4" fill="#3d3d3d"/><rect x="383" y="277" width="4" height="4" fill="#3a3a3a"/><rect x="386" y="277" width="4" height="4" fill="#363636"/><rect x="389" y="277" width="4" height="4" fill="#323232"/><rect x="392" y="277" width="4" height="4" fill="#2e2e2e"/><rect x="395" y="277" width="4" height="4" fill="#292929"/><rect x="398" y="277" width="4" height="4" fill="#252525"/><rect x="401" y="277" width="4" height="4" fill="#212121"/><rect x="404" y="277" width="4" height="4" fill="#1d1d1d"/><rect x="407" y="277" width="4" height="4" fill="#191919"/><rect x="410" y="277" width="4" height="4" fill="#161616"/><rect x="413" y="277" width="4" height="4" fill="#131313"/><rect x="416" y="277" width="4" height="4" fill="#101010"/><rect x="419" y="277" width="4" height="4" fill="#0e0e0e"/><rect x="422" y="277" width="4" height="4" fill="#0c0c0c"/><rect x="425" y="277" width="4" height="4" fill="#0a0a0a"/><rect x="428" y="277" width="4" height="4" fill="#090909"/><rect x="431" y="277" width="4" height="4" fill="#080808"/><rect x="434" y="277" width="7" height="4" fill="#070707"/><rect x="440" y="277" width="13" height="4" fill="#060606"/><rect x="452" y="277" width="16" height="4" fill="#050505"/><rect x="290" y="280" width="13" height="4" fill="#060606"/><rect x="302" y="280" width="4" height="4" fill="#070707"/><rect x="305" y="280" width="7" height="4" fill="#080808"/><rect x="311" y="280" width="4" height="4" fill="#090909"/><rect x="314" y="280" width="4" height="4" fill="#0b0b0b"/><rect x="317" y="280" width="4" height="4" fill="#0c0c0c"/><rect x="320" y="280" width="4" height="4" fill="#0e0e0e"/><rect x="323" y="280" width="4" height="4" fill="#101010"/><rect x="326" y="280" width="4" height="4" fill="#131313"/><rect x="329" y="280" width="4" height="4" fill="#161616"/><rect x="332" y="280" width="4" height="4" fill="#191919"/><rect x="335" y="280" width="4" height="4" fill="#1c1c1c"/><rect x="338" y="280" width="4" height="4" fill="#202020"/><rect x="341" y="280" width="4" height="4" fill="#242424"/><rect x="344" y="280" width="4" height="4" fill="#282828"/><rect x="347" y="280" width="4" height="4" fill="#2b2b2b"/><rect x="350" y="280" width="4" height="4" fill="#2f2f2f"/><rect x="353" y="280" width="4" height="4" fill="#333333"/><rect x="356" y="280" width="4" height="4" fill="#363636"/><rect x="359" y="280" width="4" height="4" fill="#383838"/><rect x="362" y="280" width="4" height="4" fill="#3a3a3a"/><rect x="365" y="280" width="4" height="4" fill="#3b3b3b"/><rect x="368" y="280" width="7" height="4" fill="#3c3c3c"/><rect x="374" y="280" width="4" height="4" fill="#3b3b3b"/><rect x="377" y="280" width="4" height="4" fill="#393939"/><rect x="380" y="280" width="4" height="4" fill="#373737"/><rect x="383" y="280" width="4" height="4" fill="#343434"/><rect x="386" y="280" width="4" height="4" fill="#303030"/><rect x="389" y="280" width="4" height="4" fill="#2d2d2d"/><rect x="392" y="280" width="4" height="4" fill="#292929"/><rect x="395" y="280" width="4" height="4" fill="#252525"/><rect x="398" y="280" width="4" height="4" fill="#212121"/><rect x="401" y="280" width="4" height="4" fill="#1d1d1d"/><rect x="404" y="280" width="4" height="4" fill="#1a1a1a"/><rect x="407" y="280" width="4" height="4" fill="#171717"/><rect x="410" y="280" width="4" height="4" fill="#141414"/><rect x="413" y="280" width="4" height="4" fill="#111111"/><rect x="416" y="280" width="4" height="4" fill="#0f0f0f"/><rect x="419" y="280" width="4" height="4" fill="#0d0d0d"/><rect x="422" y="280" width="4" height="4" fill="#0b0b0b"/><rect x="425" y="280" width="4" height="4" fill="#0a0a0a"/><rect x="428" y="280" width="4" height="4" fill="#090909"/><rect x="431" y="280" width="4" height="4" fill="#080808"/><rect x="434" y="280" width="7" height="4" fill="#070707"/><rect x="440" y="280" width="10" height="4" fill="#060606"/><rect x="449" y="280" width="19" height="4" fill="#050505"/><rect x="290" y="283" width="13" height="4" fill="#060606"/><rect x="302" y="283" width="7" height="4" fill="#070707"/><rect x="308" y="283" width="4" height="4" fill="#080808"/><rect x="311" y="283" width="4" height="4" fill="#090909"/><rect x="314" y="283" width="4" height="4" fill="#0a0a0a"/><rect x="317" y="283" width="4" height="4" fill="#0b0b0b"/><rect x="320" y="283" width="4" height="4" fill="#0d0d0d"/><rect x="323" y="283" width="4" height="4" fill="#0f0f0f"/><rect x="326" y="283" width="4" height="4" fill="#111111"/><rect x="329" y="283" width="4" height="4" fill="#131313"/><rect x="332" y="283" width="4" height="4" fill="#161616"/><rect x="335" y="283" width="4" height="4" fill="#191919"/><rect x="338" y="283" width="4" height="4" fill="#1c1c1c"/><rect x="341" y="283" width="4" height="4" fill="#202020"/><rect x="344" y="283" width="4" height="4" fill="#232323"/><rect x="347" y="283" width="4" height="4" fill="#262626"/><rect x="350" y="283" width="4" height="4" fill="#2a2a2a"/><rect x="353" y="283" width="4" height="4" fill="#2c2c2c"/><rect x="356" y="283" width="4" height="4" fill="#2f2f2f"/><rect x="359" y="283" width="4" height="4" fill="#313131"/><rect x="362" y="283" width="4" height="4" fill="#333333"/><rect x="365" y="283" width="10" height="4" fill="#343434"/><rect x="374" y="283" width="4" height="4" fill="#333333"/><rect x="377" y="283" width="4" height="4" fill="#323232"/><rect x="380" y="283" width="4" height="4" fill="#303030"/><rect x="383" y="283" width="4" height="4" fill="#2d2d2d"/><rect x="386" y="283" width="4" height="4" fill="#2b2b2b"/><rect x="389" y="283" width="4" height="4" fill="#272727"/><rect x="392" y="283" width="4" height="4" fill="#242424"/><rect x="395" y="283" width="4" height="4" fill="#212121"/><rect x="398" y="283" width="4" height="4" fill="#1d1d1d"/><rect x="401" y="283" width="4" height="4" fill="#1a1a1a"/><rect x="404" y="283" width="4" height="4" fill="#171717"/><rect x="407" y="283" width="4" height="4" fill="#141414"/><rect x="410" y="283" width="4" height="4" fill="#121212"/><rect x="413" y="283" width="4" height="4" fill="#0f0f0f"/><rect x="416" y="283" width="4" height="4" fill="#0d0d0d"/><rect x="419" y="283" width="4" height="4" fill="#0c0c0c"/><rect x="422" y="283" width="4" height="4" fill="#0a0a0a"/><rect x="425" y="283" width="4" height="4" fill="#090909"/><rect x="428" y="283" width="4" height="4" fill="#080808"/><rect x="431" y="283" width="7" height="4" fill="#070707"/><rect x="437" y="283" width="13" height="4" fill="#060606"/><rect x="449" y="283" width="19" height="4" fill="#050505"/><rect x="290" y="286" width="4" height="4" fill="#050505"/><rect x="293" y="286" width="13" height="4" fill="#060606"/><rect x="305" y="286" width="4" height="4" fill="#070707"/><rect x="308" y="286" width="7" height="4" fill="#080808"/><rect x="314" y="286" width="4" height="4" fill="#090909"/><rect x="317" y="286" width="4" height="4" fill="#0a0a0a"/><rect x="320" y="286" width="4" height="4" fill="#0c0c0c"/><rect x="323" y="286" width="4" height="4" fill="#0d0d0d"/><rect x="326" y="286" width="4" height="4" fill="#0f0f0f"/><rect x="329" y="286" width="4" height="4" fill="#111111"/><rect x="332" y="286" width="4" height="4" fill="#141414"/><rect x="335" y="286" width="4" height="4" fill="#161616"/><rect x="338" y="286" width="4" height="4" fill="#191919"/><rect x="341" y="286" width="4" height="4" fill="#1c1c1c"/><rect x="344" y="286" width="4" height="4" fill="#1f1f1f"/><rect x="347" y="286" width="4" height="4" fill="#212121"/><rect x="350" y="286" width="4" height="4" fill="#242424"/><rect x="353" y="286" width="4" height="4" fill="#272727"/><rect x="356" y="286" width="4" height="4" fill="#292929"/><rect x="359" y="286" width="4" height="4" fill="#2b2b2b"/><rect x="362" y="286" width="4" height="4" fill="#2c2c2c"/><rect x="365" y="286" width="10" height="4" fill="#2d2d2d"/><rect x="374" y="286" width="4" height="4" fill="#2c2c2c"/><rect x="377" y="286" width="4" height="4" fill="#2b2b2b"/><rect x="380" y="286" width="4" height="4" fill="#2a2a2a"/><rect x="383" y="286" width="4" height="4" fill="#272727"/><rect x="386" y="286" width="4" height="4" fill="#252525"/><rect x="389" y="286" width="4" height="4" fill="#222222"/><rect x="392" y="286" width="4" height="4" fill="#1f1f1f"/><rect x="395" y="286" width="4" height="4" fill="#1d1d1d"/><rect x="398" y="286" width="4" height="4" fill="#1a1a1a"/><rect x="401" y="286" width="4" height="4" fill="#171717"/><rect x="404" y="286" width="4" height="4" fill="#141414"/><rect x="407" y="286" width="4" height="4" fill="#121212"/><rect x="410" y="286" width="4" height="4" fill="#101010"/><rect x="413" y="286" width="4" height="4" fill="#0e0e0e"/><rect x="416" y="286" width="4" height="4" fill="#0c0c0c"/><rect x="419" y="286" width="4" height="4" fill="#0b0b0b"/><rect x="422" y="286" width="4" height="4" fill="#0a0a0a"/><rect x="425" y="286" width="4" height="4" fill="#090909"/><rect x="428" y="286" width="4" height="4" fill="#080808"/><rect x="431" y="286" width="7" height="4" fill="#070707"/><rect x="437" y="286" width="10" height="4" fill="#060606"/><rect x="446" y="286" width="22" height="4" fill="#050505"/><rect x="290" y="289" width="4" height="4" fill="#050505"/><rect x="293" y="289" width="13" height="4" fill="#060606"/><rect x="305" y="289" width="7" height="4" fill="#070707"/><rect x="311" y="289" width="4" height="4" fill="#080808"/><rect x="314" y="289" width="7" height="4" fill="#090909"/><rect x="320" y="289" width="4" height="4" fill="#0b0b0b"/><rect x="323" y="289" width="4" height="4" fill="#0c0c0c"/><rect x="326" y="289" width="4" height="4" fill="#0e0e0e"/><rect x="329" y="289" width="4" height="4" fill="#0f0f0f"/><rect x="332" y="289" width="4" height="4" fill="#111111"/><rect x="335" y="289" width="4" height="4" fill="#131313"/><rect x="338" y="289" width="4" height="4" fill="#161616"/><rect x="341" y="289" width="4" height="4" fill="#181818"/><rect x="344" y="289" width="4" height="4" fill="#1a1a1a"/><rect x="347" y="289" width="4" height="4" fill="#1d1d1d"/><rect x="350" y="289" width="4" height="4" fill="#1f1f1f"/><rect x="353" y="289" width="4" height="4" fill="#212121"/><rect x="356" y="289" width="4" height="4" fill="#232323"/><rect x="359" y="289" width="4" height="4" fill="#252525"/><rect x="362" y="289" width="7" height="4" fill="#262626"/><rect x="368" y="289" width="7" height="4" fill="#272727"/><rect x="374" y="289" width="4" height="4" fill="#262626"/><rect x="377" y="289" width="4" height="4" fill="#252525"/><rect x="380" y="289" width="4" height="4" fill="#242424"/><rect x="383" y="289" width="4" height="4" fill="#222222"/><rect x="386" y="289" width="4" height="4" fill="#202020"/><rect x="389" y="289" width="4" height="4" fill="#1d1d1d"/><rect x="392" y="289" width="4" height="4" fill="#1b1b1b"/><rect x="395" y="289" width="4" height="4" fill="#191919"/><rect x="398" y="289" width="4" height="4" fill="#161616"/><rect x="401" y="289" width="4" height="4" fill="#141414"/><rect x="404" y="289" width="4" height="4" fill="#121212"/><rect x="407" y="289" width="4" height="4" fill="#101010"/><rect x="410" y="289" width="4" height="4" fill="#0e0e0e"/><rect x="413" y="289" width="4" height="4" fill="#0c0c0c"/><rect x="416" y="289" width="4" height="4" fill="#0b0b0b"/><rect x="419" y="289" width="4" height="4" fill="#0a0a0a"/><rect x="422" y="289" width="4" height="4" fill="#090909"/><rect x="425" y="289" width="4" height="4" fill="#080808"/><rect x="428" y="289" width="7" height="4" fill="#070707"/><rect x="434" y="289" width="13" height="4" fill="#060606"/><rect x="446" y="289" width="22" height="4" fill="#050505"/><rect x="290" y="292" width="7" height="4" fill="#050505"/><rect x="296" y="292" width="13" height="4" fill="#060606"/><rect x="308" y="292" width="7" height="4" fill="#070707"/><rect x="314" y="292" width="4" height="4" fill="#080808"/><rect x="317" y="292" width="4" height="4" fill="#090909"/><rect x="320" y="292" width="4" height="4" fill="#0a0a0a"/><rect x="323" y="292" width="4" height="4" fill="#0b0b0b"/><rect x="326" y="292" width="4" height="4" fill="#0c0c0c"/><rect x="329" y="292" width="4" height="4" fill="#0d0d0d"/><rect x="332" y="292" width="4" height="4" fill="#0f0f0f"/><rect x="335" y="292" width="4" height="4" fill="#111111"/><rect x="338" y="292" width="4" height="4" fill="#131313"/><rect x="341" y="292" width="4" height="4" fill="#151515"/><rect x="344" y="292" width="4" height="4" fill="#171717"/><rect x="347" y="292" width="4" height="4" fill="#191919"/><rect x="350" y="292" width="4" height="4" fill="#1a1a1a"/><rect x="353" y="292" width="4" height="4" fill="#1c1c1c"/><rect x="356" y="292" width="4" height="4" fill="#1e1e1e"/><rect x="359" y="292" width="4" height="4" fill="#1f1f1f"/><rect x="362" y="292" width="4" height="4" fill="#202020"/><rect x="365" y="292" width="10" height="4" fill="#212121"/><rect x="374" y="292" width="4" height="4" fill="#202020"/><rect x="377" y="292" width="4" height="4" fill="#1f1f1f"/><rect x="380" y="292" width="4" height="4" fill="#1e1e1e"/><rect x="383" y="292" width="4" height="4" fill="#1d1d1d"/><rect x="386" y="292" width="4" height="4" fill="#1b1b1b"/><rect x="389" y="292" width="4" height="4" fill="#191919"/><rect x="392" y="292" width="4" height="4" fill="#171717"/><rect x="395" y="292" width="4" height="4" fill="#151515"/><rect x="398" y="292" width="4" height="4" fill="#131313"/><rect x="401" y="292" width="4" height="4" fill="#111111"/><rect x="404" y="292" width="4" height="4" fill="#101010"/><rect x="407" y="292" width="4" height="4" fill="#0e0e0e"/><rect x="410" y="292" width="4" height="4" fill="#0c0c0c"/><rect x="413" y="292" width="4" height="4" fill="#0b0b0b"/><rect x="416" y="292" width="4" height="4" fill="#0a0a0a"/><rect x="419" y="292" width="4" height="4" fill="#090909"/><rect x="422" y="292" width="4" height="4" fill="#080808"/><rect x="425" y="292" width="7" height="4" fill="#070707"/><rect x="431" y="292" width="13" height="4" fill="#060606"/><rect x="443" y="292" width="25" height="4" fill="#050505"/><rect x="290" y="295" width="10" height="4" fill="#050505"/><rect x="299" y="295" width="13" height="4" fill="#060606"/><rect x="311" y="295" width="7" height="4" fill="#070707"/><rect x="317" y="295" width="4" height="4" fill="#080808"/><rect x="320" y="295" width="4" height="4" fill="#090909"/><rect x="323" y="295" width="4" height="4" fill="#0a0a0a"/><rect x="326" y="295" width="4" height="4" fill="#0b0b0b"/><rect x="329" y="295" width="4" height="4" fill="#0c0c0c"/><rect x="332" y="295" width="4" height="4" fill="#0d0d0d"/><rect x="335" y="295" width="4" height="4" fill="#0f0f0f"/><rect x="338" y="295" width="4" height="4" fill="#101010"/><rect x="341" y="295" width="4" height="4" fill="#121212"/><rect x="344" y="295" width="4" height="4" fill="#131313"/><rect x="347" y="295" width="4" height="4" fill="#151515"/><rect x="350" y="295" width="4" height="4" fill="#161616"/><rect x="353" y="295" width="4" height="4" fill="#181818"/><rect x="356" y="295" width="4" height="4" fill="#191919"/><rect x="359" y="295" width="4" height="4" fill="#1a1a1a"/><rect x="362" y="295" width="7" height="4" fill="#1b1b1b"/><rect x="368" y="295" width="4" height="4" fill="#1c1c1c"/><rect x="371" y="295" width="7" height="4" fill="#1b1b1b"/><rect x="377" y="295" width="4" height="4" fill="#1a1a1a"/><rect x="380" y="295" width="4" height="4" fill="#191919"/><rect x="383" y="295" width="4" height="4" fill="#181818"/><rect x="386" y="295" width="4" height="4" fill="#171717"/><rect x="389" y="295" width="4" height="4" fill="#151515"/><rect x="392" y="295" width="4" height="4" fill="#141414"/><rect x="395" y="295" width="4" height="4" fill="#121212"/><rect x="398" y="295" width="4" height="4" fill="#111111"/><rect x="401" y="295" width="4" height="4" fill="#0f0f0f"/><rect x="404" y="295" width="4" height="4" fill="#0e0e0e"/><rect x="407" y="295" width="4" height="4" fill="#0c0c0c"/><rect x="410" y="295" width="4" height="4" fill="#0b0b0b"/><rect x="413" y="295" width="4" height="4" fill="#0a0a0a"/><rect x="416" y="295" width="4" height="4" fill="#090909"/><rect x="419" y="295" width="7" height="4" fill="#080808"/><rect x="425" y="295" width="7" height="4" fill="#070707"/><rect x="431" y="295" width="13" height="4" fill="#060606"/><rect x="443" y="295" width="25" height="4" fill="#050505"/><rect x="290" y="298" width="10" height="4" fill="#050505"/><rect x="299" y="298" width="13" height="4" fill="#060606"/><rect x="311" y="298" width="10" height="4" fill="#070707"/><rect x="320" y="298" width="4" height="4" fill="#080808"/><rect x="323" y="298" width="4" height="4" fill="#090909"/><rect x="326" y="298" width="7" height="4" fill="#0a0a0a"/><rect x="332" y="298" width="4" height="4" fill="#0b0b0b"/><rect x="335" y="298" width="4" height="4" fill="#0d0d0d"/><rect x="338" y="298" width="4" height="4" fill="#0e0e0e"/><rect x="341" y="298" width="4" height="4" fill="#0f0f0f"/><rect x="344" y="298" width="4" height="4" fill="#101010"/><rect x="347" y="298" width="4" height="4" fill="#121212"/><rect x="350" y="298" width="4" height="4" fill="#131313"/><rect x="353" y="298" width="4" height="4" fill="#141414"/><rect x="356" y="298" width="4" height="4" fill="#151515"/><rect x="359" y="298" width="7" height="4" fill="#161616"/><rect x="365" y="298" width="10" height="4" fill="#171717"/><rect x="374" y="298" width="7" height="4" fill="#161616"/><rect x="380" y="298" width="4" height="4" fill="#151515"/><rect x="383" y="298" width="4" height="4" fill="#141414"/><rect x="386" y="298" width="4" height="4" fill="#131313"/><rect x="389" y="298" width="4" height="4" fill="#121212"/><rect x="392" y="298" width="4" height="4" fill="#111111"/><rect x="395" y="298" width="4" height="4" fill="#0f0f0f"/><rect x="398" y="298" width="4" height="4" fill="#0e0e0e"/><rect x="401" y="298" width="4" height="4" fill="#0d0d0d"/><rect x="404" y="298" width="4" height="4" fill="#0c0c0c"/><rect x="407" y="298" width="4" height="4" fill="#0b0b0b"/><rect x="410" y="298" width="4" height="4" fill="#0a0a0a"/><rect x="413" y="298" width="4" height="4" fill="#090909"/><rect x="416" y="298" width="7" height="4" fill="#080808"/><rect x="422" y="298" width="7" height="4" fill="#070707"/><rect x="428" y="298" width="13" height="4" fill="#060606"/><rect x="440" y="298" width="28" height="4" fill="#050505"/><rect x="290" y="301" width="13" height="4" fill="#050505"/><rect x="302" y="301" width="13" height="4" fill="#060606"/><rect x="314" y="301" width="10" height="4" fill="#070707"/><rect x="323" y="301" width="4" height="4" fill="#080808"/><rect x="326" y="301" width="7" height="4" fill="#090909"/><rect x="332" y="301" width="4" height="4" fill="#0a0a0a"/><rect x="335" y="301" width="4" height="4" fill="#0b0b0b"/><rect x="338" y="301" width="4" height="4" fill="#0c0c0c"/><rect x="341" y="301" width="4" height="4" fill="#0d0d0d"/><rect x="344" y="301" width="4" height="4" fill="#0e0e0e"/><rect x="347" y="301" width="4" height="4" fill="#0f0f0f"/><rect x="350" y="301" width="4" height="4" fill="#101010"/><rect x="353" y="301" width="7" height="4" fill="#111111"/><rect x="359" y="301" width="4" height="4" fill="#121212"/><rect x="362" y="301" width="16" height="4" fill="#131313"/><rect x="377" y="301" width="7" height="4" fill="#121212"/><rect x="383" y="301" width="4" height="4" fill="#111111"/><rect x="386" y="301" width="4" height="4" fill="#101010"/><rect x="389" y="301" width="4" height="4" fill="#0f0f0f"/><rect x="392" y="301" width="4" height="4" fill="#0e0e0e"/><rect x="395" y="301" width="4" height="4" fill="#0d0d0d"/><rect x="398" y="301" width="4" height="4" fill="#0c0c0c"/><rect x="401" y="301" width="4" height="4" fill="#0b0b0b"/><rect x="404" y="301" width="7" height="4" fill="#0a0a0a"/><rect x="410" y="301" width="4" height="4" fill="#090909"/><rect x="413" y="301" width="7" height="4" fill="#080808"/><rect x="419" y="301" width="7" height="4" fill="#070707"/><rect x="425" y="301" width="13" height="4" fill="#060606"/><rect x="437" y="301" width="31" height="4" fill="#050505"/><rect x="290" y="304" width="16" height="4" fill="#050505"/><rect x="305" y="304" width="16" height="4" fill="#060606"/><rect x="320" y="304" width="7" height="4" fill="#070707"/><rect x="326" y="304" width="7" height="4" fill="#080808"/><rect x="332" y="304" width="4" height="4" fill="#090909"/><rect x="335" y="304" width="7" height="4" fill="#0a0a0a"/><rect x="341" y="304" width="4" height="4" fill="#0b0b0b"/><rect x="344" y="304" width="4" height="4" fill="#0c0c0c"/><rect x="347" y="304" width="7" height="4" fill="#0d0d0d"/><rect x="353" y="304" width="4" height="4" fill="#0e0e0e"/><rect x="356" y="304" width="10" height="4" fill="#0f0f0f"/><rect x="365" y="304" width="13" height="4" fill="#101010"/><rect x="377" y="304" width="7" height="4" fill="#0f0f0f"/><rect x="383" y="304" width="7" height="4" fill="#0e0e0e"/><rect x="389" y="304" width="4" height="4" fill="#0d0d0d"/><rect x="392" y="304" width="4" height="4" fill="#0c0c0c"/><rect x="395" y="304" width="7" height="4" fill="#0b0b0b"/><rect x="401" y="304" width="4" height="4" fill="#0a0a0a"/><rect x="404" y="304" width="7" height="4" fill="#090909"/><rect x="410" y="304" width="4" height="4" fill="#080808"/><rect x="413" y="304" width="10" height="4" fill="#070707"/><rect x="422" y="304" width="13" height="4" fill="#060606"/><rect x="434" y="304" width="34" height="4" fill="#050505"/><rect x="290" y="307" width="19" height="4" fill="#050505"/><rect x="308" y="307" width="16" height="4" fill="#060606"/><rect x="323" y="307" width="7" height="4" fill="#070707"/><rect x="329" y="307" width="7" height="4" fill="#080808"/><rect x="335" y="307" width="7" height="4" fill="#090909"/><rect x="341" y="307" width="7" height="4" fill="#0a0a0a"/><rect x="347" y="307" width="7" height="4" fill="#0b0b0b"/><rect x="353" y="307" width="7" height="4" fill="#0c0c0c"/><rect x="359" y="307" width="22" height="4" fill="#0d0d0d"/><rect x="380" y="307" width="7" height="4" fill="#0c0c0c"/><rect x="386" y="307" width="7" height="4" fill="#0b0b0b"/><rect x="392" y="307" width="7" height="4" fill="#0a0a0a"/><rect x="398" y="307" width="7" height="4" fill="#090909"/><rect x="404" y="307" width="7" height="4" fill="#080808"/><rect x="410" y="307" width="10" height="4" fill="#070707"/><rect x="419" y="307" width="16" height="4" fill="#060606"/><rect x="434" y="307" width="34" height="4" fill="#050505"/><rect x="290" y="310" width="22" height="4" fill="#050505"/><rect x="311" y="310" width="16" height="4" fill="#060606"/><rect x="326" y="310" width="10" height="4" fill="#070707"/><rect x="335" y="310" width="10" height="4" fill="#080808"/><rect x="344" y="310" width="7" height="4" fill="#090909"/><rect x="350" y="310" width="10" height="4" fill="#0a0a0a"/><rect x="359" y="310" width="25" height="4" fill="#0b0b0b"/><rect x="383" y="310" width="7" height="4" fill="#0a0a0a"/><rect x="389" y="310" width="10" height="4" fill="#090909"/><rect x="398" y="310" width="7" height="4" fill="#080808"/><rect x="404" y="310" width="10" height="4" fill="#070707"/><rect x="413" y="310" width="16" height="4" fill="#060606"/><rect x="428" y="310" width="40" height="4" fill="#050505"/></g></g><text x="303.9" y="210.8" class="bold">(ii)</text><path d="M306.6 280.6 V295.7 H320.9" stroke="#fff" stroke-width="1.6" fill="none"/><path d="M306.6 276.6 l-3.3 5.2 h6.6z" fill="#fff"/><path d="M324.9 295.7 l-5.2 -3.3 v6.6z" fill="#fff"/><text x="303.4" y="273.1" class="w">z</text><text x="326.4" y="298.2" class="w">y</text><rect x="401.7" y="297.6" width="49.5" height="2" fill="#fff" fill-opacity="0.8"/><text x="424.25" y="294.4" class="w" text-anchor="middle" fill-opacity="0.92">1 cm</text><rect x="465.5" y="211.4" width="13.8" height="78.1" fill="url(#vg)" stroke="#111" stroke-width="0.7"/><text x="464.4" y="204.2" class="it">OD</text><text x="481.3" y="215.7" class="sm">1.25</text><text x="480.8" y="293.5" class="sm">0</text>
<path d="M40.60 325.4 V321.9" stroke="#000"/><text x="40.60" y="339" class="tk" text-anchor="middle">0.0</text><path d="M96.28 325.4 V321.9" stroke="#000"/><text x="96.28" y="339" class="tk" text-anchor="middle">0.5</text><path d="M151.97 325.4 V321.9" stroke="#000"/><text x="151.97" y="339" class="tk" text-anchor="middle">1.0</text><path d="M207.66 325.4 V321.9" stroke="#000"/><text x="207.66" y="339" class="tk" text-anchor="middle">1.5</text><path d="M263.34 325.4 V321.9" stroke="#000"/><text x="263.34" y="339" class="tk" text-anchor="middle">2.0</text><path d="M319.03 325.4 V321.9" stroke="#000"/><text x="319.03" y="339" class="tk" text-anchor="middle">2.5</text><path d="M374.71 325.4 V321.9" stroke="#000"/><text x="374.71" y="339" class="tk" text-anchor="middle">3.0</text><path d="M430.40 325.4 V321.9" stroke="#000"/><text x="430.40" y="339" class="tk" text-anchor="middle">3.5</text><path d="M486.08 325.4 V321.9" stroke="#000"/><text x="486.08" y="339" class="tk" text-anchor="middle">4.0</text><path d="M40.8 325.30 H44.3" stroke="#000"/><text x="37.1" y="330.80" class="tk" text-anchor="end">0.0</text><path d="M40.8 261.10 H44.3" stroke="#000"/><text x="37.1" y="266.60" class="tk" text-anchor="end">0.2</text><path d="M40.8 196.90 H44.3" stroke="#000"/><text x="37.1" y="202.40" class="tk" text-anchor="end">0.4</text><path d="M40.8 132.70 H44.3" stroke="#000"/><text x="37.1" y="138.20" class="tk" text-anchor="end">0.6</text><path d="M40.8 68.50 H44.3" stroke="#000"/><text x="37.1" y="74.00" class="tk" text-anchor="end">0.8</text><path d="M40.8 4.30 H44.3" stroke="#000"/><text x="37.1" y="9.80" class="tk" text-anchor="end">1.0</text>
<rect x="40.8" y="4.5" width="466.8" height="320.9" fill="none" stroke="#222" stroke-width="1.15"/>

<rect x="49.5" y="275.5" width="115" height="45" rx="3" fill="#000" fill-opacity="0.35"/>
<rect x="47.8" y="273.5" width="115" height="45" rx="3" fill="#fff" stroke="#ccc" stroke-width="0.8"/>
<path d="M67.7 276.6 V291" stroke="#1f77b4" stroke-width="1.6"/>
<circle cx="67.7" cy="283.7" r="4" fill="#1f77b4"/>
<path d="M67.7 297.2 V311.4" stroke="#ff7f0e" stroke-width="1.6"/>
<rect x="63.6" y="300.2" width="8.2" height="8.2" fill="#ff7f0e"/>
<text x="93.5" y="289.2" class="lg">y-direction</text>
<text x="93.5" y="309" class="lg">z-direction</text>

<g class="ss">
<text transform="translate(12.2,203.0) rotate(-90)" font-size="16.8" font-family="Liberation Sans">w</text>
<text transform="translate(15.6,190.8) rotate(-90)" font-size="11.6" font-family="Liberation Sans">MOT</text>
<text x="243.0" y="356.6" font-size="16.5" font-family="Liberation Sans">t</text>
<text x="248.6" y="359.1" font-size="11.4" font-family="Liberation Sans">TOF</text>
</g>
<text transform="translate(12.4,160.3) rotate(-90)" font-size="16.1">(mm)</text>
<text x="276" y="356.4" font-size="16.1">(ms)</text>
</svg>
</body></html>
